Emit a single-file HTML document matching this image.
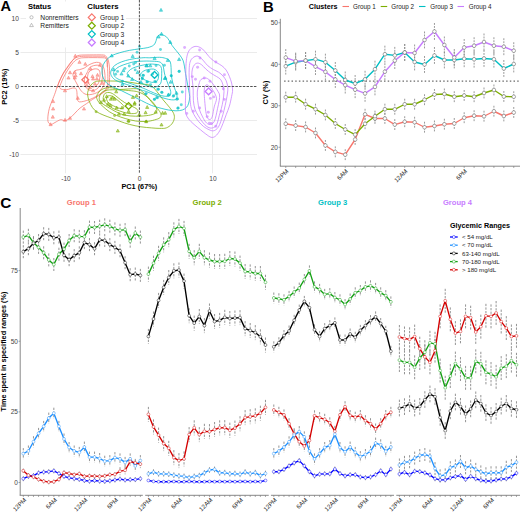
<!DOCTYPE html>
<html><head><meta charset="utf-8"><style>
html,body{margin:0;padding:0;background:#fff;width:520px;height:512px;overflow:hidden}
svg{display:block}
text{font-family:"Liberation Sans", sans-serif}
</style></head><body>
<svg width="520" height="512" viewBox="0 0 520 512">
<rect width="520" height="512" fill="#fff"/>
<text x="0.4" y="10.6" font-size="14.6" text-anchor="start" font-weight="bold" fill="#000">A</text>
<text x="263.1" y="11.7" font-size="14.9" text-anchor="start" font-weight="bold" fill="#000">B</text>
<text x="0.2" y="207.7" font-size="15.3" text-anchor="start" font-weight="bold" fill="#000">C</text>
<line x1="65.50" y1="0.00" x2="65.50" y2="173.30" stroke="#E9E9E9" stroke-width="0.9"/>
<line x1="212.50" y1="0.00" x2="212.50" y2="173.30" stroke="#E9E9E9" stroke-width="0.9"/>
<line x1="20.50" y1="18.50" x2="257.00" y2="18.50" stroke="#E9E9E9" stroke-width="0.9"/>
<line x1="20.50" y1="52.50" x2="257.00" y2="52.50" stroke="#E9E9E9" stroke-width="0.9"/>
<line x1="20.50" y1="120.50" x2="257.00" y2="120.50" stroke="#E9E9E9" stroke-width="0.9"/>
<line x1="20.50" y1="154.50" x2="257.00" y2="154.50" stroke="#E9E9E9" stroke-width="0.9"/>
<text x="18.9" y="20.500000000000004" font-size="6.6" text-anchor="end" fill="#444">10</text>
<text x="18.9" y="54.5" font-size="6.6" text-anchor="end" fill="#444">5</text>
<text x="18.9" y="88.5" font-size="6.6" text-anchor="end" fill="#444">0</text>
<text x="18.9" y="122.5" font-size="6.6" text-anchor="end" fill="#444">-5</text>
<text x="18.9" y="156.5" font-size="6.6" text-anchor="end" fill="#444">-10</text>
<text x="65.99999999999999" y="180.7" font-size="6.6" text-anchor="middle" fill="#444">-10</text>
<text x="139.5" y="180.7" font-size="6.6" text-anchor="middle" fill="#444">0</text>
<text x="213.0" y="180.7" font-size="6.6" text-anchor="middle" fill="#444">10</text>
<text x="139.3" y="189.2" font-size="7.3" text-anchor="middle" font-weight="bold" fill="#000">PC1 (67%)</text>
<text x="7.3" y="86.6" font-size="7.4" text-anchor="middle" font-weight="bold" fill="#000" transform="rotate(-90 7.3 86.6)">PC2 (19%)</text>
<path d="M47.80,119.50 C47.73,118.03 47.95,115.83 48.20,114.00 C48.45,112.17 48.87,110.17 49.30,108.50 C49.73,106.83 50.28,105.42 50.80,104.00 C51.32,102.58 51.67,101.87 52.40,100.00 C53.13,98.13 54.35,95.17 55.20,92.80 C56.05,90.43 56.60,88.13 57.50,85.80 C58.40,83.47 59.43,81.15 60.60,78.80 C61.77,76.45 63.20,73.78 64.50,71.70 C65.80,69.62 67.07,68.17 68.40,66.30 C69.73,64.43 71.32,62.05 72.50,60.50 C73.68,58.95 74.42,57.87 75.50,57.00 C76.58,56.13 77.42,55.63 79.00,55.30 C80.58,54.97 82.53,55.07 85.00,55.00 C87.47,54.93 90.72,54.90 93.80,54.90 C96.88,54.90 101.50,54.78 103.50,55.00 C105.50,55.22 105.10,55.62 105.80,56.20 C106.50,56.78 107.22,57.53 107.70,58.50 C108.18,59.47 108.42,60.60 108.70,62.00 C108.98,63.40 109.25,64.80 109.40,66.90 C109.55,69.00 109.58,72.35 109.60,74.60 C109.62,76.85 109.68,78.25 109.50,80.40 C109.32,82.55 109.25,85.68 108.50,87.50 C107.75,89.32 106.62,89.95 105.00,91.30 C103.38,92.65 100.88,94.25 98.80,95.60 C96.72,96.95 94.58,98.03 92.50,99.40 C90.42,100.77 88.38,102.35 86.30,103.80 C84.22,105.25 81.88,106.55 80.00,108.10 C78.12,109.65 76.67,111.43 75.00,113.10 C73.33,114.77 71.67,116.85 70.00,118.10 C68.33,119.35 66.57,120.33 65.00,120.60 C63.43,120.87 62.27,119.38 60.60,119.70 C58.93,120.02 56.55,121.72 55.00,122.50 C53.45,123.28 52.37,124.35 51.30,124.40 C50.23,124.45 49.18,123.62 48.60,122.80 C48.02,121.98 47.87,120.97 47.80,119.50Z" fill="none" stroke="#F8766D" stroke-width="0.75"/>
<path d="M60.20,88.50 C60.65,88.98 61.65,89.30 62.50,89.50 C63.35,89.70 64.32,89.73 65.30,89.70 C66.28,89.67 67.23,89.57 68.40,89.30 C69.57,89.03 71.12,88.27 72.30,88.10 C73.48,87.93 74.75,87.77 75.50,88.30 C76.25,88.83 76.52,89.77 76.80,91.30 C77.08,92.83 77.03,95.95 77.20,97.50 C77.37,99.05 77.42,99.87 77.80,100.60 C78.18,101.33 78.50,101.78 79.50,101.90 C80.50,102.02 82.05,101.72 83.80,101.30 C85.55,100.88 87.92,100.23 90.00,99.40 C92.08,98.57 94.22,97.45 96.30,96.30 C98.38,95.15 100.83,93.75 102.50,92.50 C104.17,91.25 105.45,90.22 106.30,88.80 C107.15,87.38 107.33,85.72 107.60,84.00 C107.87,82.28 107.90,81.03 107.90,78.50 C107.90,75.97 107.75,71.63 107.60,68.80 C107.45,65.97 107.35,63.25 107.00,61.50 C106.65,59.75 106.50,58.93 105.50,58.30 C104.50,57.67 104.42,57.80 101.00,57.70 C97.58,57.60 88.58,57.58 85.00,57.70 C81.42,57.82 81.22,57.85 79.50,58.40 C77.78,58.95 76.42,59.43 74.70,61.00 C72.98,62.57 70.77,65.62 69.20,67.80 C67.63,69.98 66.47,72.02 65.30,74.10 C64.13,76.18 63.12,78.22 62.20,80.30 C61.28,82.38 60.13,85.23 59.80,86.60 C59.47,87.97 59.75,88.02 60.20,88.50Z" fill="none" stroke="#F8766D" stroke-width="0.75"/>
<path d="M73.00,75.50 C72.67,73.30 73.90,71.78 75.00,70.80 C76.10,69.82 78.07,70.05 79.60,69.60 C81.13,69.15 82.78,68.80 84.20,68.10 C85.62,67.40 86.82,66.17 88.10,65.40 C89.38,64.63 90.50,64.02 91.90,63.50 C93.30,62.98 95.08,62.37 96.50,62.30 C97.92,62.23 99.35,62.52 100.40,63.10 C101.45,63.68 102.12,64.48 102.80,65.80 C103.48,67.12 104.13,68.63 104.50,71.00 C104.87,73.37 105.25,77.33 105.00,80.00 C104.75,82.67 104.17,85.00 103.00,87.00 C101.83,89.00 100.00,90.75 98.00,92.00 C96.00,93.25 93.17,94.17 91.00,94.50 C88.83,94.83 86.75,94.75 85.00,94.00 C83.25,93.25 81.83,91.67 80.50,90.00 C79.17,88.33 78.25,86.42 77.00,84.00 C75.75,81.58 73.33,77.70 73.00,75.50Z" fill="none" stroke="#F8766D" stroke-width="0.75"/>
<path d="M87.70,71.50 C88.40,69.92 88.22,69.33 88.80,68.50 C89.38,67.67 90.00,67.05 91.20,66.50 C92.40,65.95 94.45,65.28 96.00,65.20 C97.55,65.12 99.45,65.20 100.50,66.00 C101.55,66.80 101.97,68.33 102.30,70.00 C102.63,71.67 102.63,74.00 102.50,76.00 C102.37,78.00 102.25,80.00 101.50,82.00 C100.75,84.00 99.42,86.58 98.00,88.00 C96.58,89.42 94.67,90.25 93.00,90.50 C91.33,90.75 89.33,90.42 88.00,89.50 C86.67,88.58 85.57,86.92 85.00,85.00 C84.43,83.08 84.15,80.25 84.60,78.00 C85.05,75.75 87.00,73.08 87.70,71.50Z" fill="none" stroke="#F8766D" stroke-width="0.75"/>
<path d="M89.00,72.00 C90.08,70.50 92.33,69.33 94.00,69.00 C95.67,68.67 98.00,68.83 99.00,70.00 C100.00,71.17 100.17,73.67 100.00,76.00 C99.83,78.33 99.17,82.17 98.00,84.00 C96.83,85.83 94.50,87.00 93.00,87.00 C91.50,87.00 89.92,85.50 89.00,84.00 C88.08,82.50 87.50,80.00 87.50,78.00 C87.50,76.00 87.92,73.50 89.00,72.00Z" fill="none" stroke="#F8766D" stroke-width="0.75"/>
<path d="M57.00,88.00 C57.42,86.83 58.50,83.42 59.50,81.00 C60.50,78.58 61.75,75.75 63.00,73.50 C64.25,71.25 65.67,69.42 67.00,67.50 C68.33,65.58 69.67,63.53 71.00,62.00 C72.33,60.47 73.58,59.20 75.00,58.30 C76.42,57.40 77.33,56.95 79.50,56.60 C81.67,56.25 85.08,56.27 88.00,56.20 C90.92,56.13 94.37,56.17 97.00,56.20 C99.63,56.23 102.25,56.10 103.80,56.40 C105.35,56.70 105.73,57.23 106.30,58.00 C106.87,58.77 107.03,59.50 107.20,61.00 C107.37,62.50 107.28,66.00 107.30,67.00" fill="none" stroke="#F8766D" stroke-width="0.75"/>
<path d="M87.60,94.80 C87.43,93.03 87.67,92.18 88.20,90.60 C88.73,89.02 89.75,86.72 90.80,85.30 C91.85,83.88 93.10,82.82 94.50,82.10 C95.90,81.38 96.48,81.18 99.20,81.00 C101.92,80.82 106.63,80.92 110.80,81.00 C114.97,81.08 119.72,81.08 124.20,81.50 C128.68,81.92 133.33,82.83 137.70,83.50 C142.07,84.17 147.23,84.20 150.40,85.50 C153.57,86.80 154.58,88.92 156.70,91.30 C158.82,93.68 160.98,97.15 163.10,99.80 C165.22,102.45 167.63,104.90 169.40,107.20 C171.17,109.50 172.90,111.65 173.70,113.60 C174.50,115.55 174.55,117.13 174.20,118.90 C173.85,120.67 172.92,122.70 171.60,124.20 C170.28,125.70 168.25,127.20 166.30,127.90 C164.35,128.60 162.37,128.40 159.90,128.40 C157.43,128.40 154.67,128.17 151.50,127.90 C148.33,127.63 144.58,127.38 140.90,126.80 C137.22,126.22 132.90,125.32 129.40,124.40 C125.90,123.48 122.88,122.35 119.90,121.30 C116.92,120.25 114.32,119.17 111.50,118.10 C108.68,117.03 105.48,115.97 103.00,114.90 C100.52,113.83 98.37,112.93 96.60,111.70 C94.83,110.47 93.63,109.25 92.40,107.50 C91.17,105.75 90.00,103.32 89.20,101.20 C88.40,99.08 87.77,96.57 87.60,94.80Z" fill="none" stroke="#7CAE00" stroke-width="0.75"/>
<path d="M96.60,97.50 C96.42,96.10 96.98,95.03 97.70,93.80 C98.42,92.57 99.48,91.08 100.90,90.10 C102.32,89.12 104.27,88.27 106.20,87.90 C108.13,87.53 110.38,87.63 112.50,87.90 C114.62,88.17 116.32,89.32 118.90,89.50 C121.48,89.68 124.68,89.05 128.00,89.00 C131.32,88.95 135.77,88.10 138.80,89.20 C141.83,90.30 143.92,93.30 146.20,95.60 C148.48,97.90 150.38,100.53 152.50,103.00 C154.62,105.47 157.48,108.47 158.90,110.40 C160.32,112.33 160.83,113.37 161.00,114.60 C161.17,115.83 160.97,116.92 159.90,117.80 C158.83,118.68 156.88,119.28 154.60,119.90 C152.32,120.52 149.37,121.32 146.20,121.50 C143.03,121.68 139.10,121.50 135.60,121.00 C132.10,120.50 128.35,119.42 125.20,118.50 C122.05,117.58 119.35,116.63 116.70,115.50 C114.05,114.37 111.58,113.20 109.30,111.70 C107.02,110.20 104.75,108.08 103.00,106.50 C101.25,104.92 99.87,103.70 98.80,102.20 C97.73,100.70 96.78,98.90 96.60,97.50Z" fill="none" stroke="#7CAE00" stroke-width="0.75"/>
<path d="M99.20,98.80 C99.20,97.20 99.92,94.53 101.20,93.10 C102.48,91.67 104.02,90.75 106.90,90.20 C109.78,89.65 114.43,89.70 118.50,89.80 C122.57,89.90 128.10,90.47 131.30,90.80 C134.50,91.13 135.58,91.18 137.70,91.80 C139.82,92.42 141.88,93.17 144.00,94.50 C146.12,95.83 148.45,97.85 150.40,99.80 C152.35,101.75 154.65,104.25 155.70,106.20 C156.75,108.15 157.05,110.18 156.70,111.50 C156.35,112.82 155.35,113.40 153.60,114.10 C151.85,114.80 149.20,115.35 146.20,115.70 C143.20,116.05 139.13,116.28 135.60,116.20 C132.07,116.12 128.18,115.90 125.00,115.20 C121.82,114.50 119.52,113.45 116.50,112.00 C113.48,110.55 109.45,108.05 106.90,106.50 C104.35,104.95 102.48,103.98 101.20,102.70 C99.92,101.42 99.20,100.40 99.20,98.80Z" fill="none" stroke="#7CAE00" stroke-width="0.75"/>
<path d="M103.60,96.00 C103.87,95.08 104.15,94.18 104.80,93.60 C105.45,93.02 106.52,92.63 107.50,92.50 C108.48,92.37 109.65,92.48 110.70,92.80 C111.75,93.12 112.77,93.74 113.80,94.40 C114.83,95.06 115.73,95.83 116.90,96.75 C118.07,97.67 119.50,98.93 120.80,99.90 C122.10,100.88 123.42,101.82 124.70,102.60 C125.98,103.38 127.20,103.93 128.50,104.60 C129.80,105.27 131.20,105.93 132.50,106.60 C133.80,107.27 135.38,107.87 136.30,108.60 C137.22,109.33 138.05,110.23 138.00,111.00 C137.95,111.77 137.33,112.77 136.00,113.20 C134.67,113.63 131.88,113.70 130.00,113.60 C128.12,113.50 126.49,113.07 124.70,112.60 C122.91,112.13 121.20,111.48 119.25,110.80 C117.30,110.12 114.83,109.42 113.00,108.50 C111.17,107.58 109.67,106.35 108.30,105.30 C106.93,104.25 105.65,103.23 104.80,102.20 C103.95,101.17 103.40,100.13 103.20,99.10 C103.00,98.07 103.33,96.92 103.60,96.00Z" fill="none" stroke="#7CAE00" stroke-width="0.75"/>
<path d="M106.50,98.00 C106.58,97.08 107.25,96.37 108.00,96.00 C108.75,95.63 110.00,95.60 111.00,95.80 C112.00,96.00 112.83,96.42 114.00,97.20 C115.17,97.98 116.67,99.37 118.00,100.50 C119.33,101.63 121.00,102.92 122.00,104.00 C123.00,105.08 124.17,106.25 124.00,107.00 C123.83,107.75 122.33,108.50 121.00,108.50 C119.67,108.50 117.67,107.67 116.00,107.00 C114.33,106.33 112.42,105.42 111.00,104.50 C109.58,103.58 108.25,102.58 107.50,101.50 C106.75,100.42 106.42,98.92 106.50,98.00Z" fill="none" stroke="#7CAE00" stroke-width="0.75"/>
<path d="M102.00,70.40 C102.13,68.48 102.60,66.30 103.40,64.50 C104.20,62.70 105.42,61.07 106.80,59.60 C108.18,58.13 109.58,56.83 111.70,55.70 C113.82,54.57 116.57,53.68 119.50,52.80 C122.43,51.92 126.03,51.05 129.30,50.40 C132.57,49.75 136.02,49.37 139.10,48.90 C142.18,48.43 145.37,48.23 147.80,47.60 C150.23,46.97 152.32,46.25 153.70,45.10 C155.08,43.95 155.53,42.08 156.10,40.70 C156.67,39.32 156.53,37.77 157.10,36.80 C157.67,35.83 158.60,35.22 159.50,34.90 C160.40,34.58 161.35,34.58 162.50,34.90 C163.65,35.22 165.27,35.83 166.40,36.80 C167.53,37.77 168.33,39.23 169.30,40.70 C170.27,42.17 171.07,43.97 172.20,45.60 C173.33,47.23 174.80,48.87 176.10,50.50 C177.40,52.13 178.85,53.77 180.00,55.40 C181.15,57.03 182.27,58.52 183.00,60.30 C183.73,62.08 183.98,63.90 184.40,66.10 C184.82,68.30 185.05,70.87 185.50,73.50 C185.95,76.13 186.57,79.08 187.10,81.90 C187.63,84.72 188.27,87.93 188.70,90.40 C189.13,92.87 189.70,94.58 189.70,96.70 C189.70,98.82 189.22,101.33 188.70,103.10 C188.18,104.87 187.67,106.15 186.60,107.30 C185.53,108.45 184.07,109.42 182.30,110.00 C180.53,110.58 178.28,110.80 176.00,110.80 C173.72,110.80 171.07,110.42 168.60,110.00 C166.13,109.58 164.03,109.05 161.20,108.30 C158.37,107.55 154.88,106.78 151.60,105.50 C148.32,104.22 144.87,102.25 141.50,100.60 C138.13,98.95 134.77,97.27 131.40,95.60 C128.03,93.93 124.67,92.20 121.30,90.60 C117.93,89.00 113.83,87.47 111.20,86.00 C108.57,84.53 106.93,83.47 105.50,81.80 C104.07,80.13 103.18,77.90 102.60,76.00 C102.02,74.10 101.87,72.32 102.00,70.40Z" fill="none" stroke="#00BFC4" stroke-width="0.75"/>
<path d="M110.70,72.30 C110.87,70.83 111.55,68.95 112.70,67.50 C113.85,66.05 115.48,64.75 117.60,63.60 C119.72,62.45 122.63,61.42 125.40,60.60 C128.17,59.78 131.12,59.18 134.20,58.70 C137.28,58.22 141.30,57.85 143.90,57.70 C146.50,57.55 147.20,57.87 149.80,57.80 C152.40,57.73 156.90,57.22 159.50,57.30 C162.10,57.38 163.77,57.80 165.40,58.30 C167.03,58.80 168.40,59.32 169.30,60.30 C170.20,61.28 170.48,62.42 170.80,64.20 C171.12,65.98 171.10,69.10 171.20,71.00 C171.30,72.90 171.13,73.60 171.40,75.60 C171.67,77.60 172.13,80.53 172.80,83.00 C173.47,85.47 174.70,88.28 175.40,90.40 C176.10,92.52 176.82,94.28 177.00,95.70 C177.18,97.12 177.02,98.20 176.50,98.90 C175.98,99.60 175.22,99.82 173.90,99.90 C172.58,99.98 170.72,99.83 168.60,99.40 C166.48,98.97 163.67,98.10 161.20,97.30 C158.73,96.50 156.28,95.57 153.80,94.60 C151.32,93.63 148.43,92.28 146.30,91.50 C144.17,90.72 143.50,90.82 141.00,89.90 C138.50,88.98 134.38,87.13 131.30,86.00 C128.22,84.87 125.12,84.07 122.50,83.10 C119.88,82.13 117.40,81.33 115.60,80.20 C113.80,79.07 112.52,77.62 111.70,76.30 C110.88,74.98 110.53,73.77 110.70,72.30Z" fill="none" stroke="#00BFC4" stroke-width="0.75"/>
<path d="M113.70,74.30 C113.37,73.00 113.63,71.70 114.60,70.40 C115.57,69.10 117.38,67.63 119.50,66.50 C121.62,65.37 124.68,64.42 127.30,63.60 C129.92,62.78 132.43,62.02 135.20,61.60 C137.97,61.18 141.47,61.18 143.90,61.10 C146.33,61.02 147.35,61.00 149.80,61.10 C152.25,61.20 156.57,61.27 158.60,61.70 C160.63,62.13 161.20,62.80 162.00,63.70 C162.80,64.60 163.00,65.55 163.40,67.10 C163.80,68.65 164.00,71.18 164.40,73.00 C164.80,74.82 165.20,76.17 165.80,78.00 C166.40,79.83 167.18,81.75 168.00,84.00 C168.82,86.25 170.43,89.55 170.70,91.50 C170.97,93.45 170.67,94.92 169.60,95.70 C168.53,96.48 166.23,96.38 164.30,96.20 C162.37,96.02 160.28,95.38 158.00,94.60 C155.72,93.82 153.07,92.57 150.60,91.50 C148.13,90.43 146.27,89.43 143.20,88.20 C140.13,86.97 135.50,85.28 132.20,84.10 C128.90,82.92 126.00,82.08 123.40,81.10 C120.80,80.12 118.22,79.33 116.60,78.20 C114.98,77.07 114.03,75.60 113.70,74.30Z" fill="none" stroke="#00BFC4" stroke-width="0.75"/>
<path d="M127.30,73.20 C127.67,72.12 129.15,70.52 130.50,69.50 C131.85,68.48 133.48,67.80 135.40,67.10 C137.32,66.40 139.65,65.80 142.00,65.30 C144.35,64.80 147.33,64.27 149.50,64.10 C151.67,63.93 153.32,64.13 155.00,64.30 C156.68,64.47 158.52,64.40 159.60,65.10 C160.68,65.80 161.15,67.15 161.50,68.50 C161.85,69.85 161.70,71.45 161.70,73.20 C161.70,74.95 161.67,77.32 161.50,79.00 C161.33,80.68 161.37,82.08 160.70,83.30 C160.03,84.52 158.68,85.63 157.50,86.30 C156.32,86.97 155.27,87.38 153.60,87.30 C151.93,87.22 149.52,86.47 147.50,85.80 C145.48,85.13 143.42,84.13 141.50,83.30 C139.58,82.47 137.68,81.65 136.00,80.80 C134.32,79.95 132.68,79.00 131.40,78.20 C130.12,77.40 128.98,76.83 128.30,76.00 C127.62,75.17 126.93,74.28 127.30,73.20Z" fill="none" stroke="#00BFC4" stroke-width="0.75"/>
<path d="M140.50,74.20 C140.75,73.37 141.67,72.47 142.50,71.80 C143.33,71.13 144.33,70.62 145.50,70.20 C146.67,69.78 148.15,69.48 149.50,69.30 C150.85,69.12 152.43,68.90 153.60,69.10 C154.77,69.30 155.67,69.82 156.50,70.50 C157.33,71.18 158.27,72.12 158.60,73.20 C158.93,74.28 158.67,75.82 158.50,77.00 C158.33,78.18 158.18,79.47 157.60,80.30 C157.02,81.13 156.00,81.67 155.00,82.00 C154.00,82.33 152.85,82.47 151.60,82.30 C150.35,82.13 148.85,81.52 147.50,81.00 C146.15,80.48 144.58,79.90 143.50,79.20 C142.42,78.50 141.50,77.63 141.00,76.80 C140.50,75.97 140.25,75.03 140.50,74.20Z" fill="none" stroke="#00BFC4" stroke-width="0.75"/>
<path d="M185.90,83.00 C185.95,78.32 185.72,71.38 185.90,66.90 C186.08,62.42 186.37,58.97 187.00,56.10 C187.63,53.23 188.53,51.27 189.70,49.70 C190.87,48.13 192.57,47.20 194.00,46.70 C195.43,46.20 196.87,46.30 198.30,46.70 C199.73,47.10 201.17,47.88 202.60,49.10 C204.03,50.32 205.48,52.38 206.90,54.00 C208.32,55.62 209.50,57.37 211.10,58.80 C212.70,60.23 214.70,61.43 216.50,62.60 C218.30,63.77 220.28,64.55 221.90,65.80 C223.52,67.05 224.95,68.32 226.20,70.10 C227.45,71.88 228.50,74.35 229.40,76.50 C230.30,78.65 231.07,80.75 231.60,83.00 C232.13,85.25 232.60,87.77 232.60,90.00 C232.60,92.23 232.13,93.72 231.60,96.40 C231.07,99.08 230.30,103.05 229.40,106.10 C228.50,109.15 227.27,111.83 226.20,114.70 C225.13,117.57 224.08,120.62 223.00,123.30 C221.92,125.98 220.97,128.65 219.70,130.80 C218.43,132.95 216.83,135.12 215.40,136.20 C213.97,137.28 212.70,137.67 211.10,137.30 C209.50,136.93 207.58,135.27 205.80,134.00 C204.02,132.73 202.37,131.30 200.40,129.70 C198.43,128.10 195.97,126.18 194.00,124.40 C192.03,122.62 189.95,120.80 188.60,119.00 C187.25,117.20 186.43,115.75 185.90,113.60 C185.37,111.45 185.45,109.20 185.40,106.10 C185.35,103.00 185.52,98.85 185.60,95.00 C185.68,91.15 185.85,87.68 185.90,83.00Z" fill="none" stroke="#C77CFF" stroke-width="0.75"/>
<path d="M189.10,72.20 C189.17,69.47 189.25,65.83 189.70,63.60 C190.15,61.37 190.73,60.05 191.80,58.80 C192.87,57.55 194.75,56.37 196.10,56.10 C197.45,55.83 198.65,56.40 199.90,57.20 C201.15,58.00 202.27,59.47 203.60,60.90 C204.93,62.33 206.28,64.37 207.90,65.80 C209.52,67.23 211.50,68.43 213.30,69.50 C215.10,70.57 217.08,71.12 218.70,72.20 C220.32,73.28 221.75,74.57 223.00,76.00 C224.25,77.43 225.40,78.92 226.20,80.80 C227.00,82.68 227.58,85.27 227.80,87.30 C228.02,89.33 227.77,90.77 227.50,93.00 C227.23,95.23 226.78,97.80 226.20,100.70 C225.62,103.60 224.72,107.53 224.00,110.40 C223.28,113.27 222.62,115.57 221.90,117.90 C221.18,120.23 220.50,122.60 219.70,124.40 C218.90,126.20 218.17,127.63 217.10,128.70 C216.03,129.77 214.65,130.63 213.30,130.80 C211.95,130.97 210.62,130.42 209.00,129.70 C207.38,128.98 205.38,127.93 203.60,126.50 C201.82,125.07 199.90,123.07 198.30,121.10 C196.70,119.13 195.17,116.83 194.00,114.70 C192.83,112.57 191.93,110.63 191.30,108.30 C190.67,105.97 190.47,103.75 190.20,100.70 C189.93,97.65 189.85,93.45 189.70,90.00 C189.55,86.55 189.40,82.97 189.30,80.00 C189.20,77.03 189.03,74.93 189.10,72.20Z" fill="none" stroke="#C77CFF" stroke-width="0.75"/>
<path d="M191.80,75.40 C191.78,73.23 191.95,70.78 192.40,69.00 C192.85,67.22 193.62,65.68 194.50,64.70 C195.38,63.72 196.53,63.10 197.70,63.10 C198.87,63.10 200.15,63.72 201.50,64.70 C202.85,65.68 204.20,67.57 205.80,69.00 C207.40,70.43 209.32,72.05 211.10,73.30 C212.88,74.55 214.88,75.43 216.50,76.50 C218.12,77.57 219.72,78.27 220.80,79.70 C221.88,81.13 222.47,83.12 223.00,85.10 C223.53,87.08 224.00,89.00 224.00,91.60 C224.00,94.20 223.43,97.92 223.00,100.70 C222.57,103.48 222.03,105.78 221.40,108.30 C220.77,110.82 219.83,113.48 219.20,115.80 C218.57,118.12 218.23,120.42 217.60,122.20 C216.97,123.98 216.48,125.52 215.40,126.50 C214.32,127.48 212.52,128.10 211.10,128.10 C209.68,128.10 208.32,127.48 206.90,126.50 C205.48,125.52 204.03,123.98 202.60,122.20 C201.17,120.42 199.57,117.95 198.30,115.80 C197.03,113.65 195.82,111.82 195.00,109.30 C194.18,106.78 193.70,103.92 193.40,100.70 C193.10,97.48 193.35,93.12 193.20,90.00 C193.05,86.88 192.73,84.43 192.50,82.00 C192.27,79.57 191.82,77.57 191.80,75.40Z" fill="none" stroke="#C77CFF" stroke-width="0.75"/>
<path d="M199.00,84.00 C199.62,81.92 199.87,80.48 201.00,79.50 C202.13,78.52 204.47,78.07 205.80,78.10 C207.13,78.13 207.93,78.88 209.00,79.70 C210.07,80.52 211.13,81.73 212.20,83.00 C213.27,84.27 214.42,85.87 215.40,87.30 C216.38,88.73 217.40,90.32 218.10,91.60 C218.80,92.88 219.42,93.48 219.60,95.00 C219.78,96.52 219.53,98.48 219.20,100.70 C218.87,102.92 218.13,105.78 217.60,108.30 C217.07,110.82 216.53,113.67 216.00,115.80 C215.47,117.93 215.03,119.77 214.40,121.10 C213.77,122.43 213.10,123.25 212.20,123.80 C211.30,124.35 210.07,124.67 209.00,124.40 C207.93,124.13 206.87,123.45 205.80,122.20 C204.73,120.95 203.68,119.05 202.60,116.90 C201.52,114.75 200.12,112.00 199.30,109.30 C198.48,106.60 198.03,103.58 197.70,100.70 C197.37,97.82 197.08,94.78 197.30,92.00 C197.52,89.22 198.38,86.08 199.00,84.00Z" fill="none" stroke="#C77CFF" stroke-width="0.75"/>
<path d="M204.50,88.00 C204.80,86.67 205.33,85.42 206.00,85.00 C206.67,84.58 207.67,85.00 208.50,85.50 C209.33,86.00 210.08,86.92 211.00,88.00 C211.92,89.08 213.08,90.23 214.00,92.00 C214.92,93.77 216.43,96.25 216.50,98.60 C216.57,100.95 214.93,103.95 214.40,106.10 C213.87,108.25 213.67,109.70 213.30,111.50 C212.93,113.30 212.73,115.57 212.20,116.90 C211.67,118.23 210.90,119.33 210.10,119.50 C209.30,119.67 208.12,119.23 207.40,117.90 C206.68,116.57 206.25,114.37 205.80,111.50 C205.35,108.63 204.97,103.78 204.70,100.70 C204.43,97.62 204.23,95.12 204.20,93.00 C204.17,90.88 204.20,89.33 204.50,88.00Z" fill="none" stroke="#C77CFF" stroke-width="0.75"/>
<path d="M75.30,54.23 L76.89,57.16 L73.70,57.16Z" fill="#F8766D" fill-opacity="0.55" stroke="#F8766D" stroke-opacity="0.55" stroke-width="0.9" stroke-linejoin="round"/>
<path d="M79.50,60.43 L81.09,63.36 L77.91,63.36Z" fill="#F8766D" fill-opacity="0.55" stroke="#F8766D" stroke-opacity="0.55" stroke-width="0.9" stroke-linejoin="round"/>
<path d="M85.30,62.33 L86.89,65.26 L83.70,65.26Z" fill="#F8766D" fill-opacity="0.55" stroke="#F8766D" stroke-opacity="0.55" stroke-width="0.9" stroke-linejoin="round"/>
<path d="M70.00,70.83 L71.59,73.76 L68.41,73.76Z" fill="#F8766D" fill-opacity="0.55" stroke="#F8766D" stroke-opacity="0.55" stroke-width="0.9" stroke-linejoin="round"/>
<path d="M74.80,70.63 L76.39,73.56 L73.20,73.56Z" fill="#F8766D" fill-opacity="0.55" stroke="#F8766D" stroke-opacity="0.55" stroke-width="0.9" stroke-linejoin="round"/>
<path d="M81.00,71.83 L82.59,74.76 L79.41,74.76Z" fill="#F8766D" fill-opacity="0.55" stroke="#F8766D" stroke-opacity="0.55" stroke-width="0.9" stroke-linejoin="round"/>
<path d="M68.50,76.13 L70.09,79.06 L66.91,79.06Z" fill="#F8766D" fill-opacity="0.55" stroke="#F8766D" stroke-opacity="0.55" stroke-width="0.9" stroke-linejoin="round"/>
<path d="M74.80,76.13 L76.39,79.06 L73.20,79.06Z" fill="#F8766D" fill-opacity="0.55" stroke="#F8766D" stroke-opacity="0.55" stroke-width="0.9" stroke-linejoin="round"/>
<path d="M75.60,73.93 L77.19,76.86 L74.00,76.86Z" fill="#F8766D" fill-opacity="0.55" stroke="#F8766D" stroke-opacity="0.55" stroke-width="0.9" stroke-linejoin="round"/>
<path d="M92.50,74.63 L94.09,77.56 L90.91,77.56Z" fill="#F8766D" fill-opacity="0.55" stroke="#F8766D" stroke-opacity="0.55" stroke-width="0.9" stroke-linejoin="round"/>
<path d="M97.50,73.33 L99.09,76.26 L95.91,76.26Z" fill="#F8766D" fill-opacity="0.55" stroke="#F8766D" stroke-opacity="0.55" stroke-width="0.9" stroke-linejoin="round"/>
<path d="M93.10,77.13 L94.69,80.06 L91.50,80.06Z" fill="#F8766D" fill-opacity="0.55" stroke="#F8766D" stroke-opacity="0.55" stroke-width="0.9" stroke-linejoin="round"/>
<path d="M96.90,77.13 L98.50,80.06 L95.31,80.06Z" fill="#F8766D" fill-opacity="0.55" stroke="#F8766D" stroke-opacity="0.55" stroke-width="0.9" stroke-linejoin="round"/>
<path d="M100.00,63.33 L101.59,66.26 L98.41,66.26Z" fill="#F8766D" fill-opacity="0.55" stroke="#F8766D" stroke-opacity="0.55" stroke-width="0.9" stroke-linejoin="round"/>
<path d="M90.60,67.13 L92.19,70.06 L89.00,70.06Z" fill="#F8766D" fill-opacity="0.55" stroke="#F8766D" stroke-opacity="0.55" stroke-width="0.9" stroke-linejoin="round"/>
<path d="M65.00,88.93 L66.59,91.86 L63.41,91.86Z" fill="#F8766D" fill-opacity="0.55" stroke="#F8766D" stroke-opacity="0.55" stroke-width="0.9" stroke-linejoin="round"/>
<path d="M87.50,80.23 L89.09,83.16 L85.91,83.16Z" fill="#F8766D" fill-opacity="0.55" stroke="#F8766D" stroke-opacity="0.55" stroke-width="0.9" stroke-linejoin="round"/>
<path d="M90.00,85.83 L91.59,88.76 L88.41,88.76Z" fill="#F8766D" fill-opacity="0.55" stroke="#F8766D" stroke-opacity="0.55" stroke-width="0.9" stroke-linejoin="round"/>
<path d="M95.00,82.13 L96.59,85.06 L93.41,85.06Z" fill="#F8766D" fill-opacity="0.55" stroke="#F8766D" stroke-opacity="0.55" stroke-width="0.9" stroke-linejoin="round"/>
<path d="M102.50,81.43 L104.09,84.36 L100.91,84.36Z" fill="#F8766D" fill-opacity="0.55" stroke="#F8766D" stroke-opacity="0.55" stroke-width="0.9" stroke-linejoin="round"/>
<path d="M77.80,96.43 L79.39,99.36 L76.20,99.36Z" fill="#F8766D" fill-opacity="0.55" stroke="#F8766D" stroke-opacity="0.55" stroke-width="0.9" stroke-linejoin="round"/>
<path d="M53.10,99.63 L54.70,102.56 L51.51,102.56Z" fill="#F8766D" fill-opacity="0.55" stroke="#F8766D" stroke-opacity="0.55" stroke-width="0.9" stroke-linejoin="round"/>
<path d="M53.10,107.13 L54.70,110.06 L51.51,110.06Z" fill="#F8766D" fill-opacity="0.55" stroke="#F8766D" stroke-opacity="0.55" stroke-width="0.9" stroke-linejoin="round"/>
<path d="M52.80,115.23 L54.39,118.16 L51.20,118.16Z" fill="#F8766D" fill-opacity="0.55" stroke="#F8766D" stroke-opacity="0.55" stroke-width="0.9" stroke-linejoin="round"/>
<path d="M65.00,118.33 L66.59,121.26 L63.41,121.26Z" fill="#F8766D" fill-opacity="0.55" stroke="#F8766D" stroke-opacity="0.55" stroke-width="0.9" stroke-linejoin="round"/>
<path d="M70.00,116.43 L71.59,119.36 L68.41,119.36Z" fill="#F8766D" fill-opacity="0.55" stroke="#F8766D" stroke-opacity="0.55" stroke-width="0.9" stroke-linejoin="round"/>
<path d="M50.60,122.73 L52.20,125.66 L49.01,125.66Z" fill="#F8766D" fill-opacity="0.55" stroke="#F8766D" stroke-opacity="0.55" stroke-width="0.9" stroke-linejoin="round"/>
<path d="M84.00,107.13 L85.59,110.06 L82.41,110.06Z" fill="#F8766D" fill-opacity="0.55" stroke="#F8766D" stroke-opacity="0.55" stroke-width="0.9" stroke-linejoin="round"/>
<path d="M86.90,83.93 L88.50,86.86 L85.31,86.86Z" fill="#F8766D" fill-opacity="0.55" stroke="#F8766D" stroke-opacity="0.55" stroke-width="0.9" stroke-linejoin="round"/>
<path d="M93.10,88.93 L94.69,91.86 L91.50,91.86Z" fill="#F8766D" fill-opacity="0.55" stroke="#F8766D" stroke-opacity="0.55" stroke-width="0.9" stroke-linejoin="round"/>
<path d="M106.70,94.73 L108.30,97.66 L105.11,97.66Z" fill="#7CAE00" fill-opacity="0.55" stroke="#7CAE00" stroke-opacity="0.55" stroke-width="0.9" stroke-linejoin="round"/>
<path d="M110.90,97.33 L112.50,100.26 L109.31,100.26Z" fill="#7CAE00" fill-opacity="0.55" stroke="#7CAE00" stroke-opacity="0.55" stroke-width="0.9" stroke-linejoin="round"/>
<path d="M114.60,97.33 L116.19,100.26 L113.00,100.26Z" fill="#7CAE00" fill-opacity="0.55" stroke="#7CAE00" stroke-opacity="0.55" stroke-width="0.9" stroke-linejoin="round"/>
<path d="M112.50,95.83 L114.09,98.76 L110.91,98.76Z" fill="#7CAE00" fill-opacity="0.55" stroke="#7CAE00" stroke-opacity="0.55" stroke-width="0.9" stroke-linejoin="round"/>
<path d="M110.40,103.73 L112.00,106.66 L108.81,106.66Z" fill="#7CAE00" fill-opacity="0.55" stroke="#7CAE00" stroke-opacity="0.55" stroke-width="0.9" stroke-linejoin="round"/>
<path d="M116.70,106.03 L118.30,108.96 L115.11,108.96Z" fill="#7CAE00" fill-opacity="0.55" stroke="#7CAE00" stroke-opacity="0.55" stroke-width="0.9" stroke-linejoin="round"/>
<path d="M122.00,106.03 L123.59,108.96 L120.41,108.96Z" fill="#7CAE00" fill-opacity="0.55" stroke="#7CAE00" stroke-opacity="0.55" stroke-width="0.9" stroke-linejoin="round"/>
<path d="M128.60,109.63 L130.19,112.56 L127.00,112.56Z" fill="#7CAE00" fill-opacity="0.55" stroke="#7CAE00" stroke-opacity="0.55" stroke-width="0.9" stroke-linejoin="round"/>
<path d="M134.70,101.13 L136.29,104.06 L133.10,104.06Z" fill="#7CAE00" fill-opacity="0.55" stroke="#7CAE00" stroke-opacity="0.55" stroke-width="0.9" stroke-linejoin="round"/>
<path d="M116.20,89.93 L117.80,92.86 L114.61,92.86Z" fill="#7CAE00" fill-opacity="0.55" stroke="#7CAE00" stroke-opacity="0.55" stroke-width="0.9" stroke-linejoin="round"/>
<path d="M100.90,100.53 L102.50,103.46 L99.31,103.46Z" fill="#7CAE00" fill-opacity="0.55" stroke="#7CAE00" stroke-opacity="0.55" stroke-width="0.9" stroke-linejoin="round"/>
<path d="M128.40,119.03 L130.00,121.96 L126.81,121.96Z" fill="#7CAE00" fill-opacity="0.55" stroke="#7CAE00" stroke-opacity="0.55" stroke-width="0.9" stroke-linejoin="round"/>
<path d="M124.20,112.23 L125.80,115.16 L122.61,115.16Z" fill="#7CAE00" fill-opacity="0.55" stroke="#7CAE00" stroke-opacity="0.55" stroke-width="0.9" stroke-linejoin="round"/>
<path d="M118.90,112.23 L120.50,115.16 L117.31,115.16Z" fill="#7CAE00" fill-opacity="0.55" stroke="#7CAE00" stroke-opacity="0.55" stroke-width="0.9" stroke-linejoin="round"/>
<path d="M136.60,93.93 L138.19,96.86 L135.00,96.86Z" fill="#7CAE00" fill-opacity="0.55" stroke="#7CAE00" stroke-opacity="0.55" stroke-width="0.9" stroke-linejoin="round"/>
<path d="M132.90,95.53 L134.50,98.46 L131.31,98.46Z" fill="#7CAE00" fill-opacity="0.55" stroke="#7CAE00" stroke-opacity="0.55" stroke-width="0.9" stroke-linejoin="round"/>
<path d="M134.50,102.33 L136.09,105.26 L132.91,105.26Z" fill="#7CAE00" fill-opacity="0.55" stroke="#7CAE00" stroke-opacity="0.55" stroke-width="0.9" stroke-linejoin="round"/>
<path d="M147.20,105.53 L148.79,108.46 L145.60,108.46Z" fill="#7CAE00" fill-opacity="0.55" stroke="#7CAE00" stroke-opacity="0.55" stroke-width="0.9" stroke-linejoin="round"/>
<path d="M145.60,110.83 L147.19,113.76 L144.00,113.76Z" fill="#7CAE00" fill-opacity="0.55" stroke="#7CAE00" stroke-opacity="0.55" stroke-width="0.9" stroke-linejoin="round"/>
<path d="M155.70,110.33 L157.29,113.26 L154.10,113.26Z" fill="#7CAE00" fill-opacity="0.55" stroke="#7CAE00" stroke-opacity="0.55" stroke-width="0.9" stroke-linejoin="round"/>
<path d="M165.20,111.33 L166.79,114.26 L163.60,114.26Z" fill="#7CAE00" fill-opacity="0.55" stroke="#7CAE00" stroke-opacity="0.55" stroke-width="0.9" stroke-linejoin="round"/>
<path d="M162.60,111.33 L164.19,114.26 L161.00,114.26Z" fill="#7CAE00" fill-opacity="0.55" stroke="#7CAE00" stroke-opacity="0.55" stroke-width="0.9" stroke-linejoin="round"/>
<path d="M146.20,119.83 L147.79,122.76 L144.60,122.76Z" fill="#7CAE00" fill-opacity="0.55" stroke="#7CAE00" stroke-opacity="0.55" stroke-width="0.9" stroke-linejoin="round"/>
<path d="M139.30,112.93 L140.90,115.86 L137.71,115.86Z" fill="#7CAE00" fill-opacity="0.55" stroke="#7CAE00" stroke-opacity="0.55" stroke-width="0.9" stroke-linejoin="round"/>
<path d="M161.50,123.03 L163.09,125.96 L159.91,125.96Z" fill="#7CAE00" fill-opacity="0.55" stroke="#7CAE00" stroke-opacity="0.55" stroke-width="0.9" stroke-linejoin="round"/>
<path d="M117.80,129.13 L119.39,132.06 L116.20,132.06Z" fill="#7CAE00" fill-opacity="0.55" stroke="#7CAE00" stroke-opacity="0.55" stroke-width="0.9" stroke-linejoin="round"/>
<path d="M108.00,102.33 L109.59,105.26 L106.41,105.26Z" fill="#7CAE00" fill-opacity="0.55" stroke="#7CAE00" stroke-opacity="0.55" stroke-width="0.9" stroke-linejoin="round"/>
<path d="M104.00,98.33 L105.59,101.26 L102.41,101.26Z" fill="#7CAE00" fill-opacity="0.55" stroke="#7CAE00" stroke-opacity="0.55" stroke-width="0.9" stroke-linejoin="round"/>
<circle cx="96.10" cy="111.70" r="1.45" fill="#7CAE00" fill-opacity="0.6"/>
<circle cx="128.70" cy="121.50" r="1.45" fill="#7CAE00" fill-opacity="0.6"/>
<circle cx="146.20" cy="121.50" r="1.45" fill="#7CAE00" fill-opacity="0.6"/>
<circle cx="114.60" cy="115.60" r="1.45" fill="#7CAE00" fill-opacity="0.6"/>
<path d="M161.00,8.33 L162.59,11.26 L159.41,11.26Z" fill="#00BFC4" fill-opacity="0.55" stroke="#00BFC4" stroke-opacity="0.55" stroke-width="0.9" stroke-linejoin="round"/>
<path d="M158.60,35.13 L160.19,38.06 L157.00,38.06Z" fill="#00BFC4" fill-opacity="0.55" stroke="#00BFC4" stroke-opacity="0.55" stroke-width="0.9" stroke-linejoin="round"/>
<path d="M161.50,32.23 L163.09,35.16 L159.91,35.16Z" fill="#00BFC4" fill-opacity="0.55" stroke="#00BFC4" stroke-opacity="0.55" stroke-width="0.9" stroke-linejoin="round"/>
<path d="M170.30,40.53 L171.90,43.46 L168.71,43.46Z" fill="#00BFC4" fill-opacity="0.55" stroke="#00BFC4" stroke-opacity="0.55" stroke-width="0.9" stroke-linejoin="round"/>
<path d="M179.10,57.63 L180.69,60.56 L177.50,60.56Z" fill="#00BFC4" fill-opacity="0.55" stroke="#00BFC4" stroke-opacity="0.55" stroke-width="0.9" stroke-linejoin="round"/>
<path d="M154.60,56.63 L156.19,59.56 L153.00,59.56Z" fill="#00BFC4" fill-opacity="0.55" stroke="#00BFC4" stroke-opacity="0.55" stroke-width="0.9" stroke-linejoin="round"/>
<path d="M167.80,58.63 L169.40,61.56 L166.21,61.56Z" fill="#00BFC4" fill-opacity="0.55" stroke="#00BFC4" stroke-opacity="0.55" stroke-width="0.9" stroke-linejoin="round"/>
<path d="M146.80,63.93 L148.40,66.86 L145.21,66.86Z" fill="#00BFC4" fill-opacity="0.55" stroke="#00BFC4" stroke-opacity="0.55" stroke-width="0.9" stroke-linejoin="round"/>
<path d="M150.30,63.93 L151.90,66.86 L148.71,66.86Z" fill="#00BFC4" fill-opacity="0.55" stroke="#00BFC4" stroke-opacity="0.55" stroke-width="0.9" stroke-linejoin="round"/>
<path d="M165.40,76.23 L167.00,79.16 L163.81,79.16Z" fill="#00BFC4" fill-opacity="0.55" stroke="#00BFC4" stroke-opacity="0.55" stroke-width="0.9" stroke-linejoin="round"/>
<path d="M132.70,54.53 L134.29,57.46 L131.10,57.46Z" fill="#00BFC4" fill-opacity="0.55" stroke="#00BFC4" stroke-opacity="0.55" stroke-width="0.9" stroke-linejoin="round"/>
<path d="M123.40,68.73 L125.00,71.66 L121.81,71.66Z" fill="#00BFC4" fill-opacity="0.55" stroke="#00BFC4" stroke-opacity="0.55" stroke-width="0.9" stroke-linejoin="round"/>
<path d="M121.50,72.13 L123.09,75.06 L119.91,75.06Z" fill="#00BFC4" fill-opacity="0.55" stroke="#00BFC4" stroke-opacity="0.55" stroke-width="0.9" stroke-linejoin="round"/>
<path d="M128.30,74.13 L129.90,77.06 L126.71,77.06Z" fill="#00BFC4" fill-opacity="0.55" stroke="#00BFC4" stroke-opacity="0.55" stroke-width="0.9" stroke-linejoin="round"/>
<path d="M132.20,77.53 L133.79,80.46 L130.60,80.46Z" fill="#00BFC4" fill-opacity="0.55" stroke="#00BFC4" stroke-opacity="0.55" stroke-width="0.9" stroke-linejoin="round"/>
<path d="M146.40,63.83 L148.00,66.76 L144.81,66.76Z" fill="#00BFC4" fill-opacity="0.55" stroke="#00BFC4" stroke-opacity="0.55" stroke-width="0.9" stroke-linejoin="round"/>
<path d="M141.00,80.43 L142.59,83.36 L139.41,83.36Z" fill="#00BFC4" fill-opacity="0.55" stroke="#00BFC4" stroke-opacity="0.55" stroke-width="0.9" stroke-linejoin="round"/>
<path d="M164.90,76.53 L166.50,79.46 L163.31,79.46Z" fill="#00BFC4" fill-opacity="0.55" stroke="#00BFC4" stroke-opacity="0.55" stroke-width="0.9" stroke-linejoin="round"/>
<path d="M170.70,80.23 L172.29,83.16 L169.10,83.16Z" fill="#00BFC4" fill-opacity="0.55" stroke="#00BFC4" stroke-opacity="0.55" stroke-width="0.9" stroke-linejoin="round"/>
<path d="M168.60,92.93 L170.19,95.86 L167.00,95.86Z" fill="#00BFC4" fill-opacity="0.55" stroke="#00BFC4" stroke-opacity="0.55" stroke-width="0.9" stroke-linejoin="round"/>
<path d="M176.50,91.33 L178.09,94.26 L174.91,94.26Z" fill="#00BFC4" fill-opacity="0.55" stroke="#00BFC4" stroke-opacity="0.55" stroke-width="0.9" stroke-linejoin="round"/>
<path d="M122.50,82.43 L124.09,85.36 L120.91,85.36Z" fill="#00BFC4" fill-opacity="0.55" stroke="#00BFC4" stroke-opacity="0.55" stroke-width="0.9" stroke-linejoin="round"/>
<path d="M113.70,67.73 L115.30,70.66 L112.11,70.66Z" fill="#00BFC4" fill-opacity="0.55" stroke="#00BFC4" stroke-opacity="0.55" stroke-width="0.9" stroke-linejoin="round"/>
<path d="M137.60,70.63 L139.19,73.56 L136.00,73.56Z" fill="#00BFC4" fill-opacity="0.55" stroke="#00BFC4" stroke-opacity="0.55" stroke-width="0.9" stroke-linejoin="round"/>
<path d="M111.70,54.03 L113.30,56.96 L110.11,56.96Z" fill="#00BFC4" fill-opacity="0.55" stroke="#00BFC4" stroke-opacity="0.55" stroke-width="0.9" stroke-linejoin="round"/>
<circle cx="160.50" cy="49.50" r="1.45" fill="#00BFC4" fill-opacity="0.6"/>
<circle cx="137.10" cy="52.30" r="1.45" fill="#00BFC4" fill-opacity="0.6"/>
<circle cx="179.10" cy="71.50" r="1.45" fill="#00BFC4" fill-opacity="0.6"/>
<circle cx="164.40" cy="65.20" r="1.45" fill="#00BFC4" fill-opacity="0.6"/>
<circle cx="156.10" cy="65.60" r="1.45" fill="#00BFC4" fill-opacity="0.6"/>
<circle cx="171.30" cy="75.90" r="1.45" fill="#00BFC4" fill-opacity="0.6"/>
<circle cx="143.40" cy="75.40" r="1.45" fill="#00BFC4" fill-opacity="0.6"/>
<circle cx="148.80" cy="71.00" r="1.45" fill="#00BFC4" fill-opacity="0.6"/>
<circle cx="152.70" cy="73.90" r="1.45" fill="#00BFC4" fill-opacity="0.6"/>
<circle cx="135.60" cy="62.60" r="1.45" fill="#00BFC4" fill-opacity="0.6"/>
<circle cx="133.70" cy="64.00" r="1.45" fill="#00BFC4" fill-opacity="0.6"/>
<circle cx="129.30" cy="66.00" r="1.45" fill="#00BFC4" fill-opacity="0.6"/>
<circle cx="124.90" cy="68.40" r="1.45" fill="#00BFC4" fill-opacity="0.6"/>
<circle cx="135.20" cy="69.90" r="1.45" fill="#00BFC4" fill-opacity="0.6"/>
<circle cx="143.00" cy="75.30" r="1.45" fill="#00BFC4" fill-opacity="0.6"/>
<circle cx="142.50" cy="78.20" r="1.45" fill="#00BFC4" fill-opacity="0.6"/>
<circle cx="147.90" cy="71.40" r="1.45" fill="#00BFC4" fill-opacity="0.6"/>
<circle cx="146.90" cy="82.10" r="1.45" fill="#00BFC4" fill-opacity="0.6"/>
<circle cx="122.50" cy="81.10" r="1.45" fill="#00BFC4" fill-opacity="0.6"/>
<circle cx="115.60" cy="74.30" r="1.45" fill="#00BFC4" fill-opacity="0.6"/>
<circle cx="117.60" cy="71.40" r="1.45" fill="#00BFC4" fill-opacity="0.6"/>
<circle cx="179.20" cy="71.30" r="1.45" fill="#00BFC4" fill-opacity="0.6"/>
<circle cx="171.20" cy="75.60" r="1.45" fill="#00BFC4" fill-opacity="0.6"/>
<circle cx="182.30" cy="92.00" r="1.45" fill="#00BFC4" fill-opacity="0.6"/>
<circle cx="161.70" cy="92.30" r="1.45" fill="#00BFC4" fill-opacity="0.6"/>
<circle cx="173.30" cy="96.20" r="1.45" fill="#00BFC4" fill-opacity="0.6"/>
<circle cx="177.60" cy="98.90" r="1.45" fill="#00BFC4" fill-opacity="0.6"/>
<circle cx="181.30" cy="104.70" r="1.45" fill="#00BFC4" fill-opacity="0.6"/>
<circle cx="178.10" cy="107.90" r="1.45" fill="#00BFC4" fill-opacity="0.6"/>
<circle cx="154.30" cy="99.40" r="1.45" fill="#00BFC4" fill-opacity="0.6"/>
<circle cx="157.50" cy="97.80" r="1.45" fill="#00BFC4" fill-opacity="0.6"/>
<circle cx="146.30" cy="93.60" r="1.45" fill="#00BFC4" fill-opacity="0.6"/>
<circle cx="155.90" cy="81.90" r="1.45" fill="#00BFC4" fill-opacity="0.6"/>
<circle cx="154.80" cy="81.40" r="1.45" fill="#00BFC4" fill-opacity="0.6"/>
<circle cx="147.40" cy="81.90" r="1.45" fill="#00BFC4" fill-opacity="0.6"/>
<circle cx="142.10" cy="78.80" r="1.45" fill="#00BFC4" fill-opacity="0.6"/>
<circle cx="150.60" cy="84.60" r="1.45" fill="#00BFC4" fill-opacity="0.6"/>
<circle cx="158.50" cy="89.30" r="1.45" fill="#00BFC4" fill-opacity="0.6"/>
<circle cx="162.00" cy="92.40" r="1.45" fill="#00BFC4" fill-opacity="0.6"/>
<circle cx="157.80" cy="89.20" r="1.45" fill="#00BFC4" fill-opacity="0.6"/>
<circle cx="145.60" cy="94.00" r="1.45" fill="#00BFC4" fill-opacity="0.6"/>
<circle cx="154.60" cy="99.30" r="1.45" fill="#00BFC4" fill-opacity="0.6"/>
<circle cx="156.70" cy="97.50" r="1.45" fill="#00BFC4" fill-opacity="0.6"/>
<circle cx="168.40" cy="95.00" r="1.45" fill="#00BFC4" fill-opacity="0.6"/>
<circle cx="173.70" cy="95.60" r="1.45" fill="#00BFC4" fill-opacity="0.6"/>
<circle cx="176.90" cy="99.30" r="1.45" fill="#00BFC4" fill-opacity="0.6"/>
<circle cx="177.90" cy="108.30" r="1.45" fill="#00BFC4" fill-opacity="0.6"/>
<circle cx="139.50" cy="46.50" r="1.45" fill="#00BFC4" fill-opacity="0.6"/>
<circle cx="184.60" cy="47.50" r="1.45" fill="#C77CFF" fill-opacity="0.6"/>
<circle cx="199.60" cy="50.00" r="1.45" fill="#C77CFF" fill-opacity="0.6"/>
<circle cx="215.90" cy="62.00" r="1.45" fill="#C77CFF" fill-opacity="0.6"/>
<circle cx="224.40" cy="74.80" r="1.45" fill="#C77CFF" fill-opacity="0.6"/>
<circle cx="197.60" cy="67.30" r="1.45" fill="#C77CFF" fill-opacity="0.6"/>
<circle cx="192.30" cy="76.60" r="1.45" fill="#C77CFF" fill-opacity="0.6"/>
<circle cx="195.50" cy="79.30" r="1.45" fill="#C77CFF" fill-opacity="0.6"/>
<circle cx="204.20" cy="78.00" r="1.45" fill="#C77CFF" fill-opacity="0.6"/>
<circle cx="210.00" cy="81.20" r="1.45" fill="#C77CFF" fill-opacity="0.6"/>
<circle cx="210.40" cy="98.40" r="1.45" fill="#C77CFF" fill-opacity="0.6"/>
<circle cx="213.70" cy="96.90" r="1.45" fill="#C77CFF" fill-opacity="0.6"/>
<circle cx="223.30" cy="88.70" r="1.45" fill="#C77CFF" fill-opacity="0.6"/>
<circle cx="224.40" cy="99.40" r="1.45" fill="#C77CFF" fill-opacity="0.6"/>
<circle cx="221.20" cy="111.30" r="1.45" fill="#C77CFF" fill-opacity="0.6"/>
<circle cx="193.30" cy="111.30" r="1.45" fill="#C77CFF" fill-opacity="0.6"/>
<circle cx="199.70" cy="108.00" r="1.45" fill="#C77CFF" fill-opacity="0.6"/>
<circle cx="208.30" cy="112.30" r="1.45" fill="#C77CFF" fill-opacity="0.6"/>
<circle cx="207.20" cy="116.60" r="1.45" fill="#C77CFF" fill-opacity="0.6"/>
<circle cx="209.40" cy="123.10" r="1.45" fill="#C77CFF" fill-opacity="0.6"/>
<circle cx="211.50" cy="123.50" r="1.45" fill="#C77CFF" fill-opacity="0.6"/>
<circle cx="215.80" cy="126.30" r="1.45" fill="#C77CFF" fill-opacity="0.6"/>
<circle cx="186.80" cy="113.40" r="1.45" fill="#C77CFF" fill-opacity="0.6"/>
<circle cx="200.00" cy="58.00" r="1.45" fill="#C77CFF" fill-opacity="0.6"/>
<path d="M85.3,76.39999999999999 L88.7,79.8 L85.3,83.2 L81.89999999999999,79.8 Z" fill="none" stroke="#F8766D" stroke-width="1.3"/>
<path d="M128.6,102.6 L132.0,106 L128.6,109.4 L125.19999999999999,106 Z" fill="none" stroke="#7CAE00" stroke-width="1.3"/>
<path d="M154.5,71.5 L157.9,74.9 L154.5,78.30000000000001 L151.1,74.9 Z" fill="none" stroke="#00BFC4" stroke-width="1.3"/>
<path d="M208.6,88.0 L212.0,91.4 L208.6,94.80000000000001 L205.2,91.4 Z" fill="none" stroke="#C77CFF" stroke-width="1.3"/>
<line x1="20.80" y1="86.50" x2="257.00" y2="86.50" stroke="#333" stroke-width="0.85" stroke-dasharray="2.5,1.2"/>
<line x1="139.40" y1="0.00" x2="139.40" y2="173.30" stroke="#333" stroke-width="0.85" stroke-dasharray="2.5,1.2"/>
<rect x="26" y="1.5" width="100" height="46" fill="#fff"/>
<text x="28" y="8.8" font-size="7.6" text-anchor="start" font-weight="bold" fill="#000">Status</text>
<circle cx="31.50" cy="17.30" r="1.6" fill="none" stroke="#999" stroke-width="0.6"/>
<path d="M31.5,23.3 L33.4,26.6 L29.6,26.6 Z" fill="none" stroke="#999" stroke-width="0.6"/>
<text x="40.3" y="19.8" font-size="6.7" text-anchor="start" fill="#1a1a1a">Nonremitters</text>
<text x="40.3" y="28.1" font-size="6.7" text-anchor="start" fill="#1a1a1a">Remitters</text>
<text x="87.3" y="8.8" font-size="7.8" text-anchor="start" font-weight="bold" fill="#000">Clusters</text>
<path d="M91.8,13.9 L95.3,17.4 L91.8,20.9 L88.3,17.4 Z" fill="none" stroke="#F8766D" stroke-width="1.25"/>
<text x="100.1" y="19.799999999999997" font-size="6.7" text-anchor="start" fill="#1a1a1a">Group 1</text>
<path d="M91.8,22.2 L95.3,25.8 L91.8,29.2 L88.3,25.8 Z" fill="none" stroke="#7CAE00" stroke-width="1.25"/>
<text x="100.1" y="28.15" font-size="6.7" text-anchor="start" fill="#1a1a1a">Group 2</text>
<path d="M91.8,30.6 L95.3,34.1 L91.8,37.6 L88.3,34.1 Z" fill="none" stroke="#00BFC4" stroke-width="1.25"/>
<text x="100.1" y="36.5" font-size="6.7" text-anchor="start" fill="#1a1a1a">Group 3</text>
<path d="M91.8,39.0 L95.3,42.5 L91.8,46.0 L88.3,42.5 Z" fill="none" stroke="#C77CFF" stroke-width="1.25"/>
<text x="100.1" y="44.85" font-size="6.7" text-anchor="start" fill="#1a1a1a">Group 4</text>
<line x1="280.30" y1="18.80" x2="280.30" y2="166.20" stroke="#7a7a7a" stroke-width="0.9"/>
<line x1="279.90" y1="166.20" x2="520.00" y2="166.20" stroke="#7a7a7a" stroke-width="0.9"/>
<line x1="278.50" y1="22.75" x2="280.30" y2="22.75" stroke="#7a7a7a" stroke-width="0.7"/>
<text x="277.9" y="25.05" font-size="6.5" text-anchor="end" fill="#444">50</text>
<line x1="278.50" y1="64.25" x2="280.30" y2="64.25" stroke="#7a7a7a" stroke-width="0.7"/>
<text x="277.9" y="66.55" font-size="6.5" text-anchor="end" fill="#444">40</text>
<line x1="278.50" y1="105.75" x2="280.30" y2="105.75" stroke="#7a7a7a" stroke-width="0.7"/>
<text x="277.9" y="108.05" font-size="6.5" text-anchor="end" fill="#444">30</text>
<line x1="278.50" y1="147.25" x2="280.30" y2="147.25" stroke="#7a7a7a" stroke-width="0.7"/>
<text x="277.9" y="149.55" font-size="6.5" text-anchor="end" fill="#444">20</text>
<line x1="285.75" y1="166.20" x2="285.75" y2="167.90" stroke="#7a7a7a" stroke-width="0.7"/>
<line x1="295.66" y1="166.20" x2="295.66" y2="167.90" stroke="#7a7a7a" stroke-width="0.7"/>
<line x1="305.58" y1="166.20" x2="305.58" y2="167.90" stroke="#7a7a7a" stroke-width="0.7"/>
<line x1="315.49" y1="166.20" x2="315.49" y2="167.90" stroke="#7a7a7a" stroke-width="0.7"/>
<line x1="325.40" y1="166.20" x2="325.40" y2="167.90" stroke="#7a7a7a" stroke-width="0.7"/>
<line x1="335.31" y1="166.20" x2="335.31" y2="167.90" stroke="#7a7a7a" stroke-width="0.7"/>
<line x1="345.23" y1="166.20" x2="345.23" y2="167.90" stroke="#7a7a7a" stroke-width="0.7"/>
<line x1="355.14" y1="166.20" x2="355.14" y2="167.90" stroke="#7a7a7a" stroke-width="0.7"/>
<line x1="365.05" y1="166.20" x2="365.05" y2="167.90" stroke="#7a7a7a" stroke-width="0.7"/>
<line x1="374.97" y1="166.20" x2="374.97" y2="167.90" stroke="#7a7a7a" stroke-width="0.7"/>
<line x1="384.88" y1="166.20" x2="384.88" y2="167.90" stroke="#7a7a7a" stroke-width="0.7"/>
<line x1="394.79" y1="166.20" x2="394.79" y2="167.90" stroke="#7a7a7a" stroke-width="0.7"/>
<line x1="404.71" y1="166.20" x2="404.71" y2="167.90" stroke="#7a7a7a" stroke-width="0.7"/>
<line x1="414.62" y1="166.20" x2="414.62" y2="167.90" stroke="#7a7a7a" stroke-width="0.7"/>
<line x1="424.53" y1="166.20" x2="424.53" y2="167.90" stroke="#7a7a7a" stroke-width="0.7"/>
<line x1="434.44" y1="166.20" x2="434.44" y2="167.90" stroke="#7a7a7a" stroke-width="0.7"/>
<line x1="444.36" y1="166.20" x2="444.36" y2="167.90" stroke="#7a7a7a" stroke-width="0.7"/>
<line x1="454.27" y1="166.20" x2="454.27" y2="167.90" stroke="#7a7a7a" stroke-width="0.7"/>
<line x1="464.18" y1="166.20" x2="464.18" y2="167.90" stroke="#7a7a7a" stroke-width="0.7"/>
<line x1="474.10" y1="166.20" x2="474.10" y2="167.90" stroke="#7a7a7a" stroke-width="0.7"/>
<line x1="484.01" y1="166.20" x2="484.01" y2="167.90" stroke="#7a7a7a" stroke-width="0.7"/>
<line x1="493.92" y1="166.20" x2="493.92" y2="167.90" stroke="#7a7a7a" stroke-width="0.7"/>
<line x1="503.84" y1="166.20" x2="503.84" y2="167.90" stroke="#7a7a7a" stroke-width="0.7"/>
<line x1="513.75" y1="166.20" x2="513.75" y2="167.90" stroke="#7a7a7a" stroke-width="0.7"/>
<text x="288.95" y="171.6" font-size="6.1" text-anchor="end" fill="#222" transform="rotate(-45 288.95 171.6)">12PM</text>
<text x="348.428" y="171.6" font-size="6.1" text-anchor="end" fill="#222" transform="rotate(-45 348.428 171.6)">6AM</text>
<text x="407.906" y="171.6" font-size="6.1" text-anchor="end" fill="#222" transform="rotate(-45 407.906 171.6)">12AM</text>
<text x="467.38399999999996" y="171.6" font-size="6.1" text-anchor="end" fill="#222" transform="rotate(-45 467.38399999999996 171.6)">6PM</text>
<text x="268.3" y="92.5" font-size="7.4" text-anchor="middle" font-weight="bold" fill="#000" transform="rotate(-90 268.3 92.5)">CV (%)</text>
<line x1="284.10" y1="81.15" x2="520.00" y2="81.15" stroke="#6a6a6a" stroke-width="1.35" stroke-dasharray="1.5,2.2"/>
<text x="308.7" y="9.0" font-size="7.2" text-anchor="start" font-weight="bold" fill="#000">Clusters</text>
<line x1="342.50" y1="6.50" x2="349.00" y2="6.50" stroke="#F8766D" stroke-width="1.1"/>
<text x="353" y="8.9" font-size="6.3" text-anchor="start" fill="#1a1a1a">Group 1</text>
<line x1="380.70" y1="6.50" x2="387.20" y2="6.50" stroke="#7CAE00" stroke-width="1.1"/>
<text x="391.3" y="8.9" font-size="6.3" text-anchor="start" fill="#1a1a1a">Group 2</text>
<line x1="419.00" y1="6.50" x2="425.50" y2="6.50" stroke="#00BFC4" stroke-width="1.1"/>
<text x="430.3" y="8.9" font-size="6.3" text-anchor="start" fill="#1a1a1a">Group 3</text>
<line x1="457.50" y1="6.50" x2="464.00" y2="6.50" stroke="#C77CFF" stroke-width="1.1"/>
<text x="468.8" y="8.9" font-size="6.3" text-anchor="start" fill="#1a1a1a">Group 4</text>
<line x1="285.75" y1="118.30" x2="285.75" y2="129.30" stroke="#888888" stroke-width="0.85" stroke-dasharray="1.9,1.1"/>
<line x1="295.66" y1="120.10" x2="295.66" y2="131.10" stroke="#888888" stroke-width="0.85" stroke-dasharray="1.9,1.1"/>
<line x1="305.58" y1="121.50" x2="305.58" y2="132.50" stroke="#888888" stroke-width="0.85" stroke-dasharray="1.9,1.1"/>
<line x1="315.49" y1="127.50" x2="315.49" y2="138.50" stroke="#888888" stroke-width="0.85" stroke-dasharray="1.9,1.1"/>
<line x1="325.40" y1="140.00" x2="325.40" y2="151.00" stroke="#888888" stroke-width="0.85" stroke-dasharray="1.9,1.1"/>
<line x1="335.31" y1="146.40" x2="335.31" y2="157.40" stroke="#888888" stroke-width="0.85" stroke-dasharray="1.9,1.1"/>
<line x1="345.23" y1="149.20" x2="345.23" y2="160.20" stroke="#888888" stroke-width="0.85" stroke-dasharray="1.9,1.1"/>
<line x1="355.14" y1="134.00" x2="355.14" y2="145.00" stroke="#888888" stroke-width="0.85" stroke-dasharray="1.9,1.1"/>
<line x1="365.05" y1="108.80" x2="365.05" y2="119.80" stroke="#888888" stroke-width="0.85" stroke-dasharray="1.9,1.1"/>
<line x1="374.97" y1="113.00" x2="374.97" y2="124.00" stroke="#888888" stroke-width="0.85" stroke-dasharray="1.9,1.1"/>
<line x1="384.88" y1="113.00" x2="384.88" y2="124.00" stroke="#888888" stroke-width="0.85" stroke-dasharray="1.9,1.1"/>
<line x1="394.79" y1="119.10" x2="394.79" y2="130.10" stroke="#888888" stroke-width="0.85" stroke-dasharray="1.9,1.1"/>
<line x1="404.71" y1="116.25" x2="404.71" y2="127.25" stroke="#888888" stroke-width="0.85" stroke-dasharray="1.9,1.1"/>
<line x1="414.62" y1="116.75" x2="414.62" y2="127.75" stroke="#888888" stroke-width="0.85" stroke-dasharray="1.9,1.1"/>
<line x1="424.53" y1="121.75" x2="424.53" y2="132.75" stroke="#888888" stroke-width="0.85" stroke-dasharray="1.9,1.1"/>
<line x1="434.44" y1="120.50" x2="434.44" y2="131.50" stroke="#888888" stroke-width="0.85" stroke-dasharray="1.9,1.1"/>
<line x1="444.36" y1="118.75" x2="444.36" y2="129.75" stroke="#888888" stroke-width="0.85" stroke-dasharray="1.9,1.1"/>
<line x1="454.27" y1="118.00" x2="454.27" y2="129.00" stroke="#888888" stroke-width="0.85" stroke-dasharray="1.9,1.1"/>
<line x1="464.18" y1="112.25" x2="464.18" y2="123.25" stroke="#888888" stroke-width="0.85" stroke-dasharray="1.9,1.1"/>
<line x1="474.10" y1="110.25" x2="474.10" y2="121.25" stroke="#888888" stroke-width="0.85" stroke-dasharray="1.9,1.1"/>
<line x1="484.01" y1="110.75" x2="484.01" y2="121.75" stroke="#888888" stroke-width="0.85" stroke-dasharray="1.9,1.1"/>
<line x1="493.92" y1="105.75" x2="493.92" y2="116.75" stroke="#888888" stroke-width="0.85" stroke-dasharray="1.9,1.1"/>
<line x1="503.84" y1="110.50" x2="503.84" y2="121.50" stroke="#888888" stroke-width="0.85" stroke-dasharray="1.9,1.1"/>
<line x1="513.75" y1="107.00" x2="513.75" y2="118.00" stroke="#888888" stroke-width="0.85" stroke-dasharray="1.9,1.1"/>
<line x1="285.75" y1="91.70" x2="285.75" y2="102.70" stroke="#888888" stroke-width="0.85" stroke-dasharray="1.9,1.1"/>
<line x1="295.66" y1="91.70" x2="295.66" y2="102.70" stroke="#888888" stroke-width="0.85" stroke-dasharray="1.9,1.1"/>
<line x1="305.58" y1="98.70" x2="305.58" y2="109.70" stroke="#888888" stroke-width="0.85" stroke-dasharray="1.9,1.1"/>
<line x1="315.49" y1="103.70" x2="315.49" y2="114.70" stroke="#888888" stroke-width="0.85" stroke-dasharray="1.9,1.1"/>
<line x1="325.40" y1="109.50" x2="325.40" y2="120.50" stroke="#888888" stroke-width="0.85" stroke-dasharray="1.9,1.1"/>
<line x1="335.31" y1="118.00" x2="335.31" y2="129.00" stroke="#888888" stroke-width="0.85" stroke-dasharray="1.9,1.1"/>
<line x1="345.23" y1="124.00" x2="345.23" y2="135.00" stroke="#888888" stroke-width="0.85" stroke-dasharray="1.9,1.1"/>
<line x1="355.14" y1="129.10" x2="355.14" y2="140.10" stroke="#888888" stroke-width="0.85" stroke-dasharray="1.9,1.1"/>
<line x1="365.05" y1="118.30" x2="365.05" y2="129.30" stroke="#888888" stroke-width="0.85" stroke-dasharray="1.9,1.1"/>
<line x1="374.97" y1="110.70" x2="374.97" y2="121.70" stroke="#888888" stroke-width="0.85" stroke-dasharray="1.9,1.1"/>
<line x1="384.88" y1="103.70" x2="384.88" y2="114.70" stroke="#888888" stroke-width="0.85" stroke-dasharray="1.9,1.1"/>
<line x1="394.79" y1="103.80" x2="394.79" y2="114.80" stroke="#888888" stroke-width="0.85" stroke-dasharray="1.9,1.1"/>
<line x1="404.71" y1="98.75" x2="404.71" y2="109.75" stroke="#888888" stroke-width="0.85" stroke-dasharray="1.9,1.1"/>
<line x1="414.62" y1="98.75" x2="414.62" y2="109.75" stroke="#888888" stroke-width="0.85" stroke-dasharray="1.9,1.1"/>
<line x1="424.53" y1="94.25" x2="424.53" y2="105.25" stroke="#888888" stroke-width="0.85" stroke-dasharray="1.9,1.1"/>
<line x1="434.44" y1="89.00" x2="434.44" y2="100.00" stroke="#888888" stroke-width="0.85" stroke-dasharray="1.9,1.1"/>
<line x1="444.36" y1="88.50" x2="444.36" y2="99.50" stroke="#888888" stroke-width="0.85" stroke-dasharray="1.9,1.1"/>
<line x1="454.27" y1="91.25" x2="454.27" y2="102.25" stroke="#888888" stroke-width="0.85" stroke-dasharray="1.9,1.1"/>
<line x1="464.18" y1="90.00" x2="464.18" y2="101.00" stroke="#888888" stroke-width="0.85" stroke-dasharray="1.9,1.1"/>
<line x1="474.10" y1="91.25" x2="474.10" y2="102.25" stroke="#888888" stroke-width="0.85" stroke-dasharray="1.9,1.1"/>
<line x1="484.01" y1="87.50" x2="484.01" y2="98.50" stroke="#888888" stroke-width="0.85" stroke-dasharray="1.9,1.1"/>
<line x1="493.92" y1="84.50" x2="493.92" y2="95.50" stroke="#888888" stroke-width="0.85" stroke-dasharray="1.9,1.1"/>
<line x1="503.84" y1="91.00" x2="503.84" y2="102.00" stroke="#888888" stroke-width="0.85" stroke-dasharray="1.9,1.1"/>
<line x1="513.75" y1="91.25" x2="513.75" y2="102.25" stroke="#888888" stroke-width="0.85" stroke-dasharray="1.9,1.1"/>
<line x1="285.75" y1="57.70" x2="285.75" y2="74.70" stroke="#888888" stroke-width="0.85" stroke-dasharray="1.9,1.1"/>
<line x1="295.66" y1="53.70" x2="295.66" y2="70.70" stroke="#888888" stroke-width="0.85" stroke-dasharray="1.9,1.1"/>
<line x1="305.58" y1="52.10" x2="305.58" y2="69.10" stroke="#888888" stroke-width="0.85" stroke-dasharray="1.9,1.1"/>
<line x1="315.49" y1="50.70" x2="315.49" y2="67.70" stroke="#888888" stroke-width="0.85" stroke-dasharray="1.9,1.1"/>
<line x1="325.40" y1="53.70" x2="325.40" y2="70.70" stroke="#888888" stroke-width="0.85" stroke-dasharray="1.9,1.1"/>
<line x1="335.31" y1="62.00" x2="335.31" y2="79.00" stroke="#888888" stroke-width="0.85" stroke-dasharray="1.9,1.1"/>
<line x1="345.23" y1="71.50" x2="345.23" y2="88.50" stroke="#888888" stroke-width="0.85" stroke-dasharray="1.9,1.1"/>
<line x1="355.14" y1="75.00" x2="355.14" y2="92.00" stroke="#888888" stroke-width="0.85" stroke-dasharray="1.9,1.1"/>
<line x1="365.05" y1="70.80" x2="365.05" y2="87.80" stroke="#888888" stroke-width="0.85" stroke-dasharray="1.9,1.1"/>
<line x1="374.97" y1="60.70" x2="374.97" y2="77.70" stroke="#888888" stroke-width="0.85" stroke-dasharray="1.9,1.1"/>
<line x1="384.88" y1="45.70" x2="384.88" y2="62.70" stroke="#888888" stroke-width="0.85" stroke-dasharray="1.9,1.1"/>
<line x1="394.79" y1="46.90" x2="394.79" y2="63.90" stroke="#888888" stroke-width="0.85" stroke-dasharray="1.9,1.1"/>
<line x1="404.71" y1="44.00" x2="404.71" y2="61.00" stroke="#888888" stroke-width="0.85" stroke-dasharray="1.9,1.1"/>
<line x1="414.62" y1="53.50" x2="414.62" y2="70.50" stroke="#888888" stroke-width="0.85" stroke-dasharray="1.9,1.1"/>
<line x1="424.53" y1="56.00" x2="424.53" y2="73.00" stroke="#888888" stroke-width="0.85" stroke-dasharray="1.9,1.1"/>
<line x1="434.44" y1="47.00" x2="434.44" y2="64.00" stroke="#888888" stroke-width="0.85" stroke-dasharray="1.9,1.1"/>
<line x1="444.36" y1="51.50" x2="444.36" y2="68.50" stroke="#888888" stroke-width="0.85" stroke-dasharray="1.9,1.1"/>
<line x1="454.27" y1="51.50" x2="454.27" y2="68.50" stroke="#888888" stroke-width="0.85" stroke-dasharray="1.9,1.1"/>
<line x1="464.18" y1="50.25" x2="464.18" y2="67.25" stroke="#888888" stroke-width="0.85" stroke-dasharray="1.9,1.1"/>
<line x1="474.10" y1="50.75" x2="474.10" y2="67.75" stroke="#888888" stroke-width="0.85" stroke-dasharray="1.9,1.1"/>
<line x1="484.01" y1="50.00" x2="484.01" y2="67.00" stroke="#888888" stroke-width="0.85" stroke-dasharray="1.9,1.1"/>
<line x1="493.92" y1="50.75" x2="493.92" y2="67.75" stroke="#888888" stroke-width="0.85" stroke-dasharray="1.9,1.1"/>
<line x1="503.84" y1="60.00" x2="503.84" y2="77.00" stroke="#888888" stroke-width="0.85" stroke-dasharray="1.9,1.1"/>
<line x1="513.75" y1="55.50" x2="513.75" y2="72.50" stroke="#888888" stroke-width="0.85" stroke-dasharray="1.9,1.1"/>
<line x1="285.75" y1="49.10" x2="285.75" y2="66.10" stroke="#888888" stroke-width="0.85" stroke-dasharray="1.9,1.1"/>
<line x1="295.66" y1="52.60" x2="295.66" y2="69.60" stroke="#888888" stroke-width="0.85" stroke-dasharray="1.9,1.1"/>
<line x1="305.58" y1="52.10" x2="305.58" y2="69.10" stroke="#888888" stroke-width="0.85" stroke-dasharray="1.9,1.1"/>
<line x1="315.49" y1="58.10" x2="315.49" y2="75.10" stroke="#888888" stroke-width="0.85" stroke-dasharray="1.9,1.1"/>
<line x1="325.40" y1="63.40" x2="325.40" y2="80.40" stroke="#888888" stroke-width="0.85" stroke-dasharray="1.9,1.1"/>
<line x1="335.31" y1="71.00" x2="335.31" y2="88.00" stroke="#888888" stroke-width="0.85" stroke-dasharray="1.9,1.1"/>
<line x1="345.23" y1="76.60" x2="345.23" y2="93.60" stroke="#888888" stroke-width="0.85" stroke-dasharray="1.9,1.1"/>
<line x1="355.14" y1="81.20" x2="355.14" y2="98.20" stroke="#888888" stroke-width="0.85" stroke-dasharray="1.9,1.1"/>
<line x1="365.05" y1="84.90" x2="365.05" y2="101.90" stroke="#888888" stroke-width="0.85" stroke-dasharray="1.9,1.1"/>
<line x1="374.97" y1="78.40" x2="374.97" y2="95.40" stroke="#888888" stroke-width="0.85" stroke-dasharray="1.9,1.1"/>
<line x1="384.88" y1="63.20" x2="384.88" y2="80.20" stroke="#888888" stroke-width="0.85" stroke-dasharray="1.9,1.1"/>
<line x1="394.79" y1="52.10" x2="394.79" y2="69.10" stroke="#888888" stroke-width="0.85" stroke-dasharray="1.9,1.1"/>
<line x1="404.71" y1="44.00" x2="404.71" y2="61.00" stroke="#888888" stroke-width="0.85" stroke-dasharray="1.9,1.1"/>
<line x1="414.62" y1="44.50" x2="414.62" y2="61.50" stroke="#888888" stroke-width="0.85" stroke-dasharray="1.9,1.1"/>
<line x1="424.53" y1="31.50" x2="424.53" y2="48.50" stroke="#888888" stroke-width="0.85" stroke-dasharray="1.9,1.1"/>
<line x1="434.44" y1="23.00" x2="434.44" y2="40.00" stroke="#888888" stroke-width="0.85" stroke-dasharray="1.9,1.1"/>
<line x1="444.36" y1="36.50" x2="444.36" y2="53.50" stroke="#888888" stroke-width="0.85" stroke-dasharray="1.9,1.1"/>
<line x1="454.27" y1="49.00" x2="454.27" y2="66.00" stroke="#888888" stroke-width="0.85" stroke-dasharray="1.9,1.1"/>
<line x1="464.18" y1="39.00" x2="464.18" y2="56.00" stroke="#888888" stroke-width="0.85" stroke-dasharray="1.9,1.1"/>
<line x1="474.10" y1="37.25" x2="474.10" y2="54.25" stroke="#888888" stroke-width="0.85" stroke-dasharray="1.9,1.1"/>
<line x1="484.01" y1="33.50" x2="484.01" y2="50.50" stroke="#888888" stroke-width="0.85" stroke-dasharray="1.9,1.1"/>
<line x1="493.92" y1="37.25" x2="493.92" y2="54.25" stroke="#888888" stroke-width="0.85" stroke-dasharray="1.9,1.1"/>
<line x1="503.84" y1="38.25" x2="503.84" y2="55.25" stroke="#888888" stroke-width="0.85" stroke-dasharray="1.9,1.1"/>
<line x1="513.75" y1="42.25" x2="513.75" y2="59.25" stroke="#888888" stroke-width="0.85" stroke-dasharray="1.9,1.1"/>
<polyline points="285.75,123.80 295.66,125.60 305.58,127.00 315.49,133.00 325.40,145.50 335.31,151.90 345.23,154.70 355.14,139.50 365.05,114.30 374.97,118.50 384.88,118.50 394.79,124.60 404.71,121.75 414.62,122.25 424.53,127.25 434.44,126.00 444.36,124.25 454.27,123.50 464.18,117.75 474.10,115.75 484.01,116.25 493.92,111.25 503.84,116.00 513.75,112.50" fill="none" stroke="#F8766D" stroke-width="1.4" stroke-linejoin="round" stroke-linecap="round"/>
<polyline points="285.75,97.20 295.66,97.20 305.58,104.20 315.49,109.20 325.40,115.00 335.31,123.50 345.23,129.50 355.14,134.60 365.05,123.80 374.97,116.20 384.88,109.20 394.79,109.30 404.71,104.25 414.62,104.25 424.53,99.75 434.44,94.50 444.36,94.00 454.27,96.75 464.18,95.50 474.10,96.75 484.01,93.00 493.92,90.00 503.84,96.50 513.75,96.75" fill="none" stroke="#7CAE00" stroke-width="1.4" stroke-linejoin="round" stroke-linecap="round"/>
<polyline points="285.75,66.20 295.66,62.20 305.58,60.60 315.49,59.20 325.40,62.20 335.31,70.50 345.23,80.00 355.14,83.50 365.05,79.30 374.97,69.20 384.88,54.20 394.79,55.40 404.71,52.50 414.62,62.00 424.53,64.50 434.44,55.50 444.36,60.00 454.27,60.00 464.18,58.75 474.10,59.25 484.01,58.50 493.92,59.25 503.84,68.50 513.75,64.00" fill="none" stroke="#00BFC4" stroke-width="1.4" stroke-linejoin="round" stroke-linecap="round"/>
<polyline points="285.75,57.60 295.66,61.10 305.58,60.60 315.49,66.60 325.40,71.90 335.31,79.50 345.23,85.10 355.14,89.70 365.05,93.40 374.97,86.90 384.88,71.70 394.79,60.60 404.71,52.50 414.62,53.00 424.53,40.00 434.44,31.50 444.36,45.00 454.27,57.50 464.18,47.50 474.10,45.75 484.01,42.00 493.92,45.75 503.84,46.75 513.75,50.75" fill="none" stroke="#C77CFF" stroke-width="1.4" stroke-linejoin="round" stroke-linecap="round"/>
<circle cx="285.75" cy="123.80" r="1.8" fill="#fff" stroke="#666" stroke-width="0.55"/>
<circle cx="295.66" cy="125.60" r="1.8" fill="#fff" stroke="#666" stroke-width="0.55"/>
<circle cx="305.58" cy="127.00" r="1.8" fill="#fff" stroke="#666" stroke-width="0.55"/>
<circle cx="315.49" cy="133.00" r="1.8" fill="#fff" stroke="#666" stroke-width="0.55"/>
<circle cx="325.40" cy="145.50" r="1.8" fill="#fff" stroke="#666" stroke-width="0.55"/>
<circle cx="335.31" cy="151.90" r="1.8" fill="#fff" stroke="#666" stroke-width="0.55"/>
<circle cx="345.23" cy="154.70" r="1.8" fill="#fff" stroke="#666" stroke-width="0.55"/>
<circle cx="355.14" cy="139.50" r="1.8" fill="#fff" stroke="#666" stroke-width="0.55"/>
<circle cx="365.05" cy="114.30" r="1.8" fill="#fff" stroke="#666" stroke-width="0.55"/>
<circle cx="374.97" cy="118.50" r="1.8" fill="#fff" stroke="#666" stroke-width="0.55"/>
<circle cx="384.88" cy="118.50" r="1.8" fill="#fff" stroke="#666" stroke-width="0.55"/>
<circle cx="394.79" cy="124.60" r="1.8" fill="#fff" stroke="#666" stroke-width="0.55"/>
<circle cx="404.71" cy="121.75" r="1.8" fill="#fff" stroke="#666" stroke-width="0.55"/>
<circle cx="414.62" cy="122.25" r="1.8" fill="#fff" stroke="#666" stroke-width="0.55"/>
<circle cx="424.53" cy="127.25" r="1.8" fill="#fff" stroke="#666" stroke-width="0.55"/>
<circle cx="434.44" cy="126.00" r="1.8" fill="#fff" stroke="#666" stroke-width="0.55"/>
<circle cx="444.36" cy="124.25" r="1.8" fill="#fff" stroke="#666" stroke-width="0.55"/>
<circle cx="454.27" cy="123.50" r="1.8" fill="#fff" stroke="#666" stroke-width="0.55"/>
<circle cx="464.18" cy="117.75" r="1.8" fill="#fff" stroke="#666" stroke-width="0.55"/>
<circle cx="474.10" cy="115.75" r="1.8" fill="#fff" stroke="#666" stroke-width="0.55"/>
<circle cx="484.01" cy="116.25" r="1.8" fill="#fff" stroke="#666" stroke-width="0.55"/>
<circle cx="493.92" cy="111.25" r="1.8" fill="#fff" stroke="#666" stroke-width="0.55"/>
<circle cx="503.84" cy="116.00" r="1.8" fill="#fff" stroke="#666" stroke-width="0.55"/>
<circle cx="513.75" cy="112.50" r="1.8" fill="#fff" stroke="#666" stroke-width="0.55"/>
<circle cx="285.75" cy="97.20" r="1.8" fill="#fff" stroke="#666" stroke-width="0.55"/>
<circle cx="295.66" cy="97.20" r="1.8" fill="#fff" stroke="#666" stroke-width="0.55"/>
<circle cx="305.58" cy="104.20" r="1.8" fill="#fff" stroke="#666" stroke-width="0.55"/>
<circle cx="315.49" cy="109.20" r="1.8" fill="#fff" stroke="#666" stroke-width="0.55"/>
<circle cx="325.40" cy="115.00" r="1.8" fill="#fff" stroke="#666" stroke-width="0.55"/>
<circle cx="335.31" cy="123.50" r="1.8" fill="#fff" stroke="#666" stroke-width="0.55"/>
<circle cx="345.23" cy="129.50" r="1.8" fill="#fff" stroke="#666" stroke-width="0.55"/>
<circle cx="355.14" cy="134.60" r="1.8" fill="#fff" stroke="#666" stroke-width="0.55"/>
<circle cx="365.05" cy="123.80" r="1.8" fill="#fff" stroke="#666" stroke-width="0.55"/>
<circle cx="374.97" cy="116.20" r="1.8" fill="#fff" stroke="#666" stroke-width="0.55"/>
<circle cx="384.88" cy="109.20" r="1.8" fill="#fff" stroke="#666" stroke-width="0.55"/>
<circle cx="394.79" cy="109.30" r="1.8" fill="#fff" stroke="#666" stroke-width="0.55"/>
<circle cx="404.71" cy="104.25" r="1.8" fill="#fff" stroke="#666" stroke-width="0.55"/>
<circle cx="414.62" cy="104.25" r="1.8" fill="#fff" stroke="#666" stroke-width="0.55"/>
<circle cx="424.53" cy="99.75" r="1.8" fill="#fff" stroke="#666" stroke-width="0.55"/>
<circle cx="434.44" cy="94.50" r="1.8" fill="#fff" stroke="#666" stroke-width="0.55"/>
<circle cx="444.36" cy="94.00" r="1.8" fill="#fff" stroke="#666" stroke-width="0.55"/>
<circle cx="454.27" cy="96.75" r="1.8" fill="#fff" stroke="#666" stroke-width="0.55"/>
<circle cx="464.18" cy="95.50" r="1.8" fill="#fff" stroke="#666" stroke-width="0.55"/>
<circle cx="474.10" cy="96.75" r="1.8" fill="#fff" stroke="#666" stroke-width="0.55"/>
<circle cx="484.01" cy="93.00" r="1.8" fill="#fff" stroke="#666" stroke-width="0.55"/>
<circle cx="493.92" cy="90.00" r="1.8" fill="#fff" stroke="#666" stroke-width="0.55"/>
<circle cx="503.84" cy="96.50" r="1.8" fill="#fff" stroke="#666" stroke-width="0.55"/>
<circle cx="513.75" cy="96.75" r="1.8" fill="#fff" stroke="#666" stroke-width="0.55"/>
<circle cx="285.75" cy="66.20" r="1.8" fill="#fff" stroke="#666" stroke-width="0.55"/>
<circle cx="295.66" cy="62.20" r="1.8" fill="#fff" stroke="#666" stroke-width="0.55"/>
<circle cx="305.58" cy="60.60" r="1.8" fill="#fff" stroke="#666" stroke-width="0.55"/>
<circle cx="315.49" cy="59.20" r="1.8" fill="#fff" stroke="#666" stroke-width="0.55"/>
<circle cx="325.40" cy="62.20" r="1.8" fill="#fff" stroke="#666" stroke-width="0.55"/>
<circle cx="335.31" cy="70.50" r="1.8" fill="#fff" stroke="#666" stroke-width="0.55"/>
<circle cx="345.23" cy="80.00" r="1.8" fill="#fff" stroke="#666" stroke-width="0.55"/>
<circle cx="355.14" cy="83.50" r="1.8" fill="#fff" stroke="#666" stroke-width="0.55"/>
<circle cx="365.05" cy="79.30" r="1.8" fill="#fff" stroke="#666" stroke-width="0.55"/>
<circle cx="374.97" cy="69.20" r="1.8" fill="#fff" stroke="#666" stroke-width="0.55"/>
<circle cx="384.88" cy="54.20" r="1.8" fill="#fff" stroke="#666" stroke-width="0.55"/>
<circle cx="394.79" cy="55.40" r="1.8" fill="#fff" stroke="#666" stroke-width="0.55"/>
<circle cx="404.71" cy="52.50" r="1.8" fill="#fff" stroke="#666" stroke-width="0.55"/>
<circle cx="414.62" cy="62.00" r="1.8" fill="#fff" stroke="#666" stroke-width="0.55"/>
<circle cx="424.53" cy="64.50" r="1.8" fill="#fff" stroke="#666" stroke-width="0.55"/>
<circle cx="434.44" cy="55.50" r="1.8" fill="#fff" stroke="#666" stroke-width="0.55"/>
<circle cx="444.36" cy="60.00" r="1.8" fill="#fff" stroke="#666" stroke-width="0.55"/>
<circle cx="454.27" cy="60.00" r="1.8" fill="#fff" stroke="#666" stroke-width="0.55"/>
<circle cx="464.18" cy="58.75" r="1.8" fill="#fff" stroke="#666" stroke-width="0.55"/>
<circle cx="474.10" cy="59.25" r="1.8" fill="#fff" stroke="#666" stroke-width="0.55"/>
<circle cx="484.01" cy="58.50" r="1.8" fill="#fff" stroke="#666" stroke-width="0.55"/>
<circle cx="493.92" cy="59.25" r="1.8" fill="#fff" stroke="#666" stroke-width="0.55"/>
<circle cx="503.84" cy="68.50" r="1.8" fill="#fff" stroke="#666" stroke-width="0.55"/>
<circle cx="513.75" cy="64.00" r="1.8" fill="#fff" stroke="#666" stroke-width="0.55"/>
<circle cx="285.75" cy="57.60" r="1.8" fill="#fff" stroke="#666" stroke-width="0.55"/>
<circle cx="295.66" cy="61.10" r="1.8" fill="#fff" stroke="#666" stroke-width="0.55"/>
<circle cx="305.58" cy="60.60" r="1.8" fill="#fff" stroke="#666" stroke-width="0.55"/>
<circle cx="315.49" cy="66.60" r="1.8" fill="#fff" stroke="#666" stroke-width="0.55"/>
<circle cx="325.40" cy="71.90" r="1.8" fill="#fff" stroke="#666" stroke-width="0.55"/>
<circle cx="335.31" cy="79.50" r="1.8" fill="#fff" stroke="#666" stroke-width="0.55"/>
<circle cx="345.23" cy="85.10" r="1.8" fill="#fff" stroke="#666" stroke-width="0.55"/>
<circle cx="355.14" cy="89.70" r="1.8" fill="#fff" stroke="#666" stroke-width="0.55"/>
<circle cx="365.05" cy="93.40" r="1.8" fill="#fff" stroke="#666" stroke-width="0.55"/>
<circle cx="374.97" cy="86.90" r="1.8" fill="#fff" stroke="#666" stroke-width="0.55"/>
<circle cx="384.88" cy="71.70" r="1.8" fill="#fff" stroke="#666" stroke-width="0.55"/>
<circle cx="394.79" cy="60.60" r="1.8" fill="#fff" stroke="#666" stroke-width="0.55"/>
<circle cx="404.71" cy="52.50" r="1.8" fill="#fff" stroke="#666" stroke-width="0.55"/>
<circle cx="414.62" cy="53.00" r="1.8" fill="#fff" stroke="#666" stroke-width="0.55"/>
<circle cx="424.53" cy="40.00" r="1.8" fill="#fff" stroke="#666" stroke-width="0.55"/>
<circle cx="434.44" cy="31.50" r="1.8" fill="#fff" stroke="#666" stroke-width="0.55"/>
<circle cx="444.36" cy="45.00" r="1.8" fill="#fff" stroke="#666" stroke-width="0.55"/>
<circle cx="454.27" cy="57.50" r="1.8" fill="#fff" stroke="#666" stroke-width="0.55"/>
<circle cx="464.18" cy="47.50" r="1.8" fill="#fff" stroke="#666" stroke-width="0.55"/>
<circle cx="474.10" cy="45.75" r="1.8" fill="#fff" stroke="#666" stroke-width="0.55"/>
<circle cx="484.01" cy="42.00" r="1.8" fill="#fff" stroke="#666" stroke-width="0.55"/>
<circle cx="493.92" cy="45.75" r="1.8" fill="#fff" stroke="#666" stroke-width="0.55"/>
<circle cx="503.84" cy="46.75" r="1.8" fill="#fff" stroke="#666" stroke-width="0.55"/>
<circle cx="513.75" cy="50.75" r="1.8" fill="#fff" stroke="#666" stroke-width="0.55"/>
<line x1="20.20" y1="208.00" x2="20.20" y2="495.30" stroke="#7a7a7a" stroke-width="0.9"/>
<line x1="18.60" y1="270.62" x2="20.20" y2="270.62" stroke="#7a7a7a" stroke-width="0.7"/>
<text x="17.9" y="272.925" font-size="6.5" text-anchor="end" fill="#444">75</text>
<line x1="18.60" y1="341.25" x2="20.20" y2="341.25" stroke="#7a7a7a" stroke-width="0.7"/>
<text x="17.9" y="343.55" font-size="6.5" text-anchor="end" fill="#444">50</text>
<line x1="18.60" y1="411.88" x2="20.20" y2="411.88" stroke="#7a7a7a" stroke-width="0.7"/>
<text x="17.9" y="414.175" font-size="6.5" text-anchor="end" fill="#444">25</text>
<line x1="18.60" y1="482.50" x2="20.20" y2="482.50" stroke="#7a7a7a" stroke-width="0.7"/>
<text x="17.9" y="484.8" font-size="6.5" text-anchor="end" fill="#444">0</text>
<text x="6.0" y="351.5" font-size="7.3" text-anchor="middle" font-weight="bold" fill="#000" transform="rotate(-90 6.0 351.5)">Time spent in specified ranges (%)</text>
<line x1="19.70" y1="495.30" x2="142.80" y2="495.30" stroke="#7a7a7a" stroke-width="0.9"/>
<line x1="23.30" y1="495.30" x2="23.30" y2="496.90" stroke="#7a7a7a" stroke-width="0.7"/>
<line x1="28.39" y1="495.30" x2="28.39" y2="496.90" stroke="#7a7a7a" stroke-width="0.7"/>
<line x1="33.48" y1="495.30" x2="33.48" y2="496.90" stroke="#7a7a7a" stroke-width="0.7"/>
<line x1="38.57" y1="495.30" x2="38.57" y2="496.90" stroke="#7a7a7a" stroke-width="0.7"/>
<line x1="43.66" y1="495.30" x2="43.66" y2="496.90" stroke="#7a7a7a" stroke-width="0.7"/>
<line x1="48.75" y1="495.30" x2="48.75" y2="496.90" stroke="#7a7a7a" stroke-width="0.7"/>
<line x1="53.84" y1="495.30" x2="53.84" y2="496.90" stroke="#7a7a7a" stroke-width="0.7"/>
<line x1="58.93" y1="495.30" x2="58.93" y2="496.90" stroke="#7a7a7a" stroke-width="0.7"/>
<line x1="64.02" y1="495.30" x2="64.02" y2="496.90" stroke="#7a7a7a" stroke-width="0.7"/>
<line x1="69.11" y1="495.30" x2="69.11" y2="496.90" stroke="#7a7a7a" stroke-width="0.7"/>
<line x1="74.20" y1="495.30" x2="74.20" y2="496.90" stroke="#7a7a7a" stroke-width="0.7"/>
<line x1="79.29" y1="495.30" x2="79.29" y2="496.90" stroke="#7a7a7a" stroke-width="0.7"/>
<line x1="84.38" y1="495.30" x2="84.38" y2="496.90" stroke="#7a7a7a" stroke-width="0.7"/>
<line x1="89.47" y1="495.30" x2="89.47" y2="496.90" stroke="#7a7a7a" stroke-width="0.7"/>
<line x1="94.56" y1="495.30" x2="94.56" y2="496.90" stroke="#7a7a7a" stroke-width="0.7"/>
<line x1="99.65" y1="495.30" x2="99.65" y2="496.90" stroke="#7a7a7a" stroke-width="0.7"/>
<line x1="104.74" y1="495.30" x2="104.74" y2="496.90" stroke="#7a7a7a" stroke-width="0.7"/>
<line x1="109.83" y1="495.30" x2="109.83" y2="496.90" stroke="#7a7a7a" stroke-width="0.7"/>
<line x1="114.92" y1="495.30" x2="114.92" y2="496.90" stroke="#7a7a7a" stroke-width="0.7"/>
<line x1="120.01" y1="495.30" x2="120.01" y2="496.90" stroke="#7a7a7a" stroke-width="0.7"/>
<line x1="125.10" y1="495.30" x2="125.10" y2="496.90" stroke="#7a7a7a" stroke-width="0.7"/>
<line x1="130.19" y1="495.30" x2="130.19" y2="496.90" stroke="#7a7a7a" stroke-width="0.7"/>
<line x1="135.28" y1="495.30" x2="135.28" y2="496.90" stroke="#7a7a7a" stroke-width="0.7"/>
<line x1="140.37" y1="495.30" x2="140.37" y2="496.90" stroke="#7a7a7a" stroke-width="0.7"/>
<text x="26.7" y="500.4" font-size="6.1" text-anchor="end" fill="#222" transform="rotate(-45 26.7 500.4)">12PM</text>
<text x="57.24" y="500.4" font-size="6.1" text-anchor="end" fill="#222" transform="rotate(-45 57.24 500.4)">6AM</text>
<text x="87.78" y="500.4" font-size="6.1" text-anchor="end" fill="#222" transform="rotate(-45 87.78 500.4)">12AM</text>
<text x="118.32000000000001" y="500.4" font-size="6.1" text-anchor="end" fill="#222" transform="rotate(-45 118.32000000000001 500.4)">6PM</text>
<text x="81.4" y="204.6" font-size="7.6" text-anchor="middle" font-weight="bold" fill="#F8766D">Group 1</text>
<line x1="23.30" y1="230.60" x2="23.30" y2="243.60" stroke="#888888" stroke-width="0.9" stroke-dasharray="2.3,1.3"/>
<line x1="28.39" y1="228.80" x2="28.39" y2="241.80" stroke="#888888" stroke-width="0.9" stroke-dasharray="2.3,1.3"/>
<line x1="33.48" y1="236.10" x2="33.48" y2="249.10" stroke="#888888" stroke-width="0.9" stroke-dasharray="2.3,1.3"/>
<line x1="38.57" y1="240.90" x2="38.57" y2="253.90" stroke="#888888" stroke-width="0.9" stroke-dasharray="2.3,1.3"/>
<line x1="43.66" y1="246.30" x2="43.66" y2="259.30" stroke="#888888" stroke-width="0.9" stroke-dasharray="2.3,1.3"/>
<line x1="48.75" y1="253.40" x2="48.75" y2="266.40" stroke="#888888" stroke-width="0.9" stroke-dasharray="2.3,1.3"/>
<line x1="53.84" y1="258.00" x2="53.84" y2="271.00" stroke="#888888" stroke-width="0.9" stroke-dasharray="2.3,1.3"/>
<line x1="58.93" y1="247.70" x2="58.93" y2="260.70" stroke="#888888" stroke-width="0.9" stroke-dasharray="2.3,1.3"/>
<line x1="64.02" y1="242.60" x2="64.02" y2="255.60" stroke="#888888" stroke-width="0.9" stroke-dasharray="2.3,1.3"/>
<line x1="69.11" y1="234.00" x2="69.11" y2="247.00" stroke="#888888" stroke-width="0.9" stroke-dasharray="2.3,1.3"/>
<line x1="74.20" y1="229.20" x2="74.20" y2="242.20" stroke="#888888" stroke-width="0.9" stroke-dasharray="2.3,1.3"/>
<line x1="79.29" y1="229.90" x2="79.29" y2="242.90" stroke="#888888" stroke-width="0.9" stroke-dasharray="2.3,1.3"/>
<line x1="84.38" y1="230.20" x2="84.38" y2="243.20" stroke="#888888" stroke-width="0.9" stroke-dasharray="2.3,1.3"/>
<line x1="89.47" y1="220.60" x2="89.47" y2="233.60" stroke="#888888" stroke-width="0.9" stroke-dasharray="2.3,1.3"/>
<line x1="94.56" y1="221.00" x2="94.56" y2="234.00" stroke="#888888" stroke-width="0.9" stroke-dasharray="2.3,1.3"/>
<line x1="99.65" y1="219.70" x2="99.65" y2="232.70" stroke="#888888" stroke-width="0.9" stroke-dasharray="2.3,1.3"/>
<line x1="104.74" y1="218.30" x2="104.74" y2="231.30" stroke="#888888" stroke-width="0.9" stroke-dasharray="2.3,1.3"/>
<line x1="109.83" y1="219.70" x2="109.83" y2="232.70" stroke="#888888" stroke-width="0.9" stroke-dasharray="2.3,1.3"/>
<line x1="114.92" y1="222.40" x2="114.92" y2="235.40" stroke="#888888" stroke-width="0.9" stroke-dasharray="2.3,1.3"/>
<line x1="120.01" y1="223.80" x2="120.01" y2="236.80" stroke="#888888" stroke-width="0.9" stroke-dasharray="2.3,1.3"/>
<line x1="125.10" y1="223.10" x2="125.10" y2="236.10" stroke="#888888" stroke-width="0.9" stroke-dasharray="2.3,1.3"/>
<line x1="130.19" y1="234.70" x2="130.19" y2="247.70" stroke="#888888" stroke-width="0.9" stroke-dasharray="2.3,1.3"/>
<line x1="135.28" y1="226.50" x2="135.28" y2="239.50" stroke="#888888" stroke-width="0.9" stroke-dasharray="2.3,1.3"/>
<line x1="140.37" y1="230.60" x2="140.37" y2="243.60" stroke="#888888" stroke-width="0.9" stroke-dasharray="2.3,1.3"/>
<line x1="23.30" y1="245.20" x2="23.30" y2="258.20" stroke="#888888" stroke-width="0.9" stroke-dasharray="2.3,1.3"/>
<line x1="28.39" y1="242.20" x2="28.39" y2="255.20" stroke="#888888" stroke-width="0.9" stroke-dasharray="2.3,1.3"/>
<line x1="33.48" y1="236.80" x2="33.48" y2="249.80" stroke="#888888" stroke-width="0.9" stroke-dasharray="2.3,1.3"/>
<line x1="38.57" y1="234.00" x2="38.57" y2="247.00" stroke="#888888" stroke-width="0.9" stroke-dasharray="2.3,1.3"/>
<line x1="43.66" y1="227.20" x2="43.66" y2="240.20" stroke="#888888" stroke-width="0.9" stroke-dasharray="2.3,1.3"/>
<line x1="48.75" y1="227.90" x2="48.75" y2="240.90" stroke="#888888" stroke-width="0.9" stroke-dasharray="2.3,1.3"/>
<line x1="53.84" y1="231.30" x2="53.84" y2="244.30" stroke="#888888" stroke-width="0.9" stroke-dasharray="2.3,1.3"/>
<line x1="58.93" y1="230.60" x2="58.93" y2="243.60" stroke="#888888" stroke-width="0.9" stroke-dasharray="2.3,1.3"/>
<line x1="64.02" y1="248.80" x2="64.02" y2="261.80" stroke="#888888" stroke-width="0.9" stroke-dasharray="2.3,1.3"/>
<line x1="69.11" y1="253.20" x2="69.11" y2="266.20" stroke="#888888" stroke-width="0.9" stroke-dasharray="2.3,1.3"/>
<line x1="74.20" y1="249.10" x2="74.20" y2="262.10" stroke="#888888" stroke-width="0.9" stroke-dasharray="2.3,1.3"/>
<line x1="79.29" y1="246.30" x2="79.29" y2="259.30" stroke="#888888" stroke-width="0.9" stroke-dasharray="2.3,1.3"/>
<line x1="84.38" y1="236.10" x2="84.38" y2="249.10" stroke="#888888" stroke-width="0.9" stroke-dasharray="2.3,1.3"/>
<line x1="89.47" y1="238.10" x2="89.47" y2="251.10" stroke="#888888" stroke-width="0.9" stroke-dasharray="2.3,1.3"/>
<line x1="94.56" y1="242.20" x2="94.56" y2="255.20" stroke="#888888" stroke-width="0.9" stroke-dasharray="2.3,1.3"/>
<line x1="99.65" y1="233.30" x2="99.65" y2="246.30" stroke="#888888" stroke-width="0.9" stroke-dasharray="2.3,1.3"/>
<line x1="104.74" y1="234.00" x2="104.74" y2="247.00" stroke="#888888" stroke-width="0.9" stroke-dasharray="2.3,1.3"/>
<line x1="109.83" y1="238.10" x2="109.83" y2="251.10" stroke="#888888" stroke-width="0.9" stroke-dasharray="2.3,1.3"/>
<line x1="114.92" y1="240.90" x2="114.92" y2="253.90" stroke="#888888" stroke-width="0.9" stroke-dasharray="2.3,1.3"/>
<line x1="120.01" y1="244.30" x2="120.01" y2="257.30" stroke="#888888" stroke-width="0.9" stroke-dasharray="2.3,1.3"/>
<line x1="125.10" y1="256.20" x2="125.10" y2="269.20" stroke="#888888" stroke-width="0.9" stroke-dasharray="2.3,1.3"/>
<line x1="130.19" y1="268.20" x2="130.19" y2="281.20" stroke="#888888" stroke-width="0.9" stroke-dasharray="2.3,1.3"/>
<line x1="135.28" y1="267.50" x2="135.28" y2="280.50" stroke="#888888" stroke-width="0.9" stroke-dasharray="2.3,1.3"/>
<line x1="140.37" y1="268.90" x2="140.37" y2="281.90" stroke="#888888" stroke-width="0.9" stroke-dasharray="2.3,1.3"/>
<line x1="23.30" y1="448.10" x2="23.30" y2="459.10" stroke="#888888" stroke-width="0.9" stroke-dasharray="2.3,1.3"/>
<line x1="28.39" y1="445.50" x2="28.39" y2="456.50" stroke="#888888" stroke-width="0.9" stroke-dasharray="2.3,1.3"/>
<line x1="33.48" y1="436.20" x2="33.48" y2="447.20" stroke="#888888" stroke-width="0.9" stroke-dasharray="2.3,1.3"/>
<line x1="38.57" y1="427.90" x2="38.57" y2="438.90" stroke="#888888" stroke-width="0.9" stroke-dasharray="2.3,1.3"/>
<line x1="43.66" y1="420.90" x2="43.66" y2="431.90" stroke="#888888" stroke-width="0.9" stroke-dasharray="2.3,1.3"/>
<line x1="48.75" y1="412.60" x2="48.75" y2="423.60" stroke="#888888" stroke-width="0.9" stroke-dasharray="2.3,1.3"/>
<line x1="53.84" y1="407.70" x2="53.84" y2="418.70" stroke="#888888" stroke-width="0.9" stroke-dasharray="2.3,1.3"/>
<line x1="58.93" y1="420.90" x2="58.93" y2="431.90" stroke="#888888" stroke-width="0.9" stroke-dasharray="2.3,1.3"/>
<line x1="64.02" y1="433.50" x2="64.02" y2="444.50" stroke="#888888" stroke-width="0.9" stroke-dasharray="2.3,1.3"/>
<line x1="69.11" y1="442.00" x2="69.11" y2="453.00" stroke="#888888" stroke-width="0.9" stroke-dasharray="2.3,1.3"/>
<line x1="74.20" y1="445.50" x2="74.20" y2="456.50" stroke="#888888" stroke-width="0.9" stroke-dasharray="2.3,1.3"/>
<line x1="79.29" y1="446.90" x2="79.29" y2="457.90" stroke="#888888" stroke-width="0.9" stroke-dasharray="2.3,1.3"/>
<line x1="84.38" y1="441.60" x2="84.38" y2="452.60" stroke="#888888" stroke-width="0.9" stroke-dasharray="2.3,1.3"/>
<line x1="89.47" y1="451.60" x2="89.47" y2="462.60" stroke="#888888" stroke-width="0.9" stroke-dasharray="2.3,1.3"/>
<line x1="94.56" y1="451.60" x2="94.56" y2="462.60" stroke="#888888" stroke-width="0.9" stroke-dasharray="2.3,1.3"/>
<line x1="99.65" y1="453.00" x2="99.65" y2="464.00" stroke="#888888" stroke-width="0.9" stroke-dasharray="2.3,1.3"/>
<line x1="104.74" y1="455.70" x2="104.74" y2="466.70" stroke="#888888" stroke-width="0.9" stroke-dasharray="2.3,1.3"/>
<line x1="109.83" y1="455.10" x2="109.83" y2="466.10" stroke="#888888" stroke-width="0.9" stroke-dasharray="2.3,1.3"/>
<line x1="114.92" y1="452.10" x2="114.92" y2="463.10" stroke="#888888" stroke-width="0.9" stroke-dasharray="2.3,1.3"/>
<line x1="120.01" y1="453.40" x2="120.01" y2="464.40" stroke="#888888" stroke-width="0.9" stroke-dasharray="2.3,1.3"/>
<line x1="125.10" y1="456.90" x2="125.10" y2="467.90" stroke="#888888" stroke-width="0.9" stroke-dasharray="2.3,1.3"/>
<line x1="130.19" y1="453.40" x2="130.19" y2="464.40" stroke="#888888" stroke-width="0.9" stroke-dasharray="2.3,1.3"/>
<line x1="135.28" y1="460.40" x2="135.28" y2="471.40" stroke="#888888" stroke-width="0.9" stroke-dasharray="2.3,1.3"/>
<line x1="140.37" y1="455.10" x2="140.37" y2="466.10" stroke="#888888" stroke-width="0.9" stroke-dasharray="2.3,1.3"/>
<line x1="23.30" y1="476.20" x2="23.30" y2="481.20" stroke="#888888" stroke-width="0.9" stroke-dasharray="2.3,1.3"/>
<line x1="28.39" y1="473.90" x2="28.39" y2="478.90" stroke="#888888" stroke-width="0.9" stroke-dasharray="2.3,1.3"/>
<line x1="33.48" y1="473.10" x2="33.48" y2="478.10" stroke="#888888" stroke-width="0.9" stroke-dasharray="2.3,1.3"/>
<line x1="38.57" y1="470.40" x2="38.57" y2="475.40" stroke="#888888" stroke-width="0.9" stroke-dasharray="2.3,1.3"/>
<line x1="43.66" y1="469.60" x2="43.66" y2="474.60" stroke="#888888" stroke-width="0.9" stroke-dasharray="2.3,1.3"/>
<line x1="48.75" y1="469.20" x2="48.75" y2="474.20" stroke="#888888" stroke-width="0.9" stroke-dasharray="2.3,1.3"/>
<line x1="53.84" y1="468.30" x2="53.84" y2="473.30" stroke="#888888" stroke-width="0.9" stroke-dasharray="2.3,1.3"/>
<line x1="58.93" y1="471.00" x2="58.93" y2="476.00" stroke="#888888" stroke-width="0.9" stroke-dasharray="2.3,1.3"/>
<line x1="64.02" y1="473.90" x2="64.02" y2="478.90" stroke="#888888" stroke-width="0.9" stroke-dasharray="2.3,1.3"/>
<line x1="69.11" y1="475.40" x2="69.11" y2="480.40" stroke="#888888" stroke-width="0.9" stroke-dasharray="2.3,1.3"/>
<line x1="74.20" y1="476.20" x2="74.20" y2="481.20" stroke="#888888" stroke-width="0.9" stroke-dasharray="2.3,1.3"/>
<line x1="79.29" y1="476.90" x2="79.29" y2="481.90" stroke="#888888" stroke-width="0.9" stroke-dasharray="2.3,1.3"/>
<line x1="84.38" y1="478.00" x2="84.38" y2="483.00" stroke="#888888" stroke-width="0.9" stroke-dasharray="2.3,1.3"/>
<line x1="89.47" y1="478.70" x2="89.47" y2="483.70" stroke="#888888" stroke-width="0.9" stroke-dasharray="2.3,1.3"/>
<line x1="94.56" y1="478.00" x2="94.56" y2="483.00" stroke="#888888" stroke-width="0.9" stroke-dasharray="2.3,1.3"/>
<line x1="99.65" y1="478.70" x2="99.65" y2="483.70" stroke="#888888" stroke-width="0.9" stroke-dasharray="2.3,1.3"/>
<line x1="104.74" y1="478.90" x2="104.74" y2="483.90" stroke="#888888" stroke-width="0.9" stroke-dasharray="2.3,1.3"/>
<line x1="109.83" y1="478.30" x2="109.83" y2="483.30" stroke="#888888" stroke-width="0.9" stroke-dasharray="2.3,1.3"/>
<line x1="114.92" y1="477.50" x2="114.92" y2="482.50" stroke="#888888" stroke-width="0.9" stroke-dasharray="2.3,1.3"/>
<line x1="120.01" y1="476.60" x2="120.01" y2="481.60" stroke="#888888" stroke-width="0.9" stroke-dasharray="2.3,1.3"/>
<line x1="125.10" y1="477.50" x2="125.10" y2="482.50" stroke="#888888" stroke-width="0.9" stroke-dasharray="2.3,1.3"/>
<line x1="130.19" y1="477.10" x2="130.19" y2="482.10" stroke="#888888" stroke-width="0.9" stroke-dasharray="2.3,1.3"/>
<line x1="135.28" y1="477.10" x2="135.28" y2="482.10" stroke="#888888" stroke-width="0.9" stroke-dasharray="2.3,1.3"/>
<line x1="140.37" y1="476.20" x2="140.37" y2="481.20" stroke="#888888" stroke-width="0.9" stroke-dasharray="2.3,1.3"/>
<line x1="23.30" y1="468.60" x2="23.30" y2="473.00" stroke="#888888" stroke-width="0.9" stroke-dasharray="2.3,1.3"/>
<line x1="28.39" y1="473.00" x2="28.39" y2="477.40" stroke="#888888" stroke-width="0.9" stroke-dasharray="2.3,1.3"/>
<line x1="33.48" y1="474.80" x2="33.48" y2="479.20" stroke="#888888" stroke-width="0.9" stroke-dasharray="2.3,1.3"/>
<line x1="38.57" y1="477.20" x2="38.57" y2="481.60" stroke="#888888" stroke-width="0.9" stroke-dasharray="2.3,1.3"/>
<line x1="43.66" y1="479.00" x2="43.66" y2="483.40" stroke="#888888" stroke-width="0.9" stroke-dasharray="2.3,1.3"/>
<line x1="48.75" y1="479.90" x2="48.75" y2="484.30" stroke="#888888" stroke-width="0.9" stroke-dasharray="2.3,1.3"/>
<line x1="53.84" y1="479.50" x2="53.84" y2="483.90" stroke="#888888" stroke-width="0.9" stroke-dasharray="2.3,1.3"/>
<line x1="58.93" y1="477.20" x2="58.93" y2="481.60" stroke="#888888" stroke-width="0.9" stroke-dasharray="2.3,1.3"/>
<line x1="64.02" y1="470.40" x2="64.02" y2="474.80" stroke="#888888" stroke-width="0.9" stroke-dasharray="2.3,1.3"/>
<line x1="69.11" y1="471.30" x2="69.11" y2="475.70" stroke="#888888" stroke-width="0.9" stroke-dasharray="2.3,1.3"/>
<line x1="74.20" y1="472.50" x2="74.20" y2="476.90" stroke="#888888" stroke-width="0.9" stroke-dasharray="2.3,1.3"/>
<line x1="79.29" y1="471.60" x2="79.29" y2="476.00" stroke="#888888" stroke-width="0.9" stroke-dasharray="2.3,1.3"/>
<line x1="84.38" y1="474.20" x2="84.38" y2="478.60" stroke="#888888" stroke-width="0.9" stroke-dasharray="2.3,1.3"/>
<line x1="89.47" y1="473.70" x2="89.47" y2="478.10" stroke="#888888" stroke-width="0.9" stroke-dasharray="2.3,1.3"/>
<line x1="94.56" y1="473.90" x2="94.56" y2="478.30" stroke="#888888" stroke-width="0.9" stroke-dasharray="2.3,1.3"/>
<line x1="99.65" y1="474.20" x2="99.65" y2="478.60" stroke="#888888" stroke-width="0.9" stroke-dasharray="2.3,1.3"/>
<line x1="104.74" y1="473.70" x2="104.74" y2="478.10" stroke="#888888" stroke-width="0.9" stroke-dasharray="2.3,1.3"/>
<line x1="109.83" y1="472.50" x2="109.83" y2="476.90" stroke="#888888" stroke-width="0.9" stroke-dasharray="2.3,1.3"/>
<line x1="114.92" y1="472.10" x2="114.92" y2="476.50" stroke="#888888" stroke-width="0.9" stroke-dasharray="2.3,1.3"/>
<line x1="120.01" y1="467.20" x2="120.01" y2="475.20" stroke="#888888" stroke-width="0.9" stroke-dasharray="2.3,1.3"/>
<line x1="125.10" y1="466.30" x2="125.10" y2="474.30" stroke="#888888" stroke-width="0.9" stroke-dasharray="2.3,1.3"/>
<line x1="130.19" y1="457.50" x2="130.19" y2="465.50" stroke="#888888" stroke-width="0.9" stroke-dasharray="2.3,1.3"/>
<line x1="135.28" y1="458.90" x2="135.28" y2="466.90" stroke="#888888" stroke-width="0.9" stroke-dasharray="2.3,1.3"/>
<line x1="140.37" y1="460.10" x2="140.37" y2="468.10" stroke="#888888" stroke-width="0.9" stroke-dasharray="2.3,1.3"/>
<polyline points="23.30,237.10 28.39,235.30 33.48,242.60 38.57,247.40 43.66,252.80 48.75,259.90 53.84,264.50 58.93,254.20 64.02,249.10 69.11,240.50 74.20,235.70 79.29,236.40 84.38,236.70 89.47,227.10 94.56,227.50 99.65,226.20 104.74,224.80 109.83,226.20 114.92,228.90 120.01,230.30 125.10,229.60 130.19,241.20 135.28,233.00 140.37,237.10" fill="none" stroke="#12A012" stroke-width="1.35" stroke-linejoin="round" stroke-linecap="round"/>
<polyline points="23.30,251.70 28.39,248.70 33.48,243.30 38.57,240.50 43.66,233.70 48.75,234.40 53.84,237.80 58.93,237.10 64.02,255.30 69.11,259.70 74.20,255.60 79.29,252.80 84.38,242.60 89.47,244.60 94.56,248.70 99.65,239.80 104.74,240.50 109.83,244.60 114.92,247.40 120.01,250.80 125.10,262.70 130.19,274.70 135.28,274.00 140.37,275.40" fill="none" stroke="#000000" stroke-width="1.35" stroke-linejoin="round" stroke-linecap="round"/>
<polyline points="23.30,453.60 28.39,451.00 33.48,441.70 38.57,433.40 43.66,426.40 48.75,418.10 53.84,413.20 58.93,426.40 64.02,439.00 69.11,447.50 74.20,451.00 79.29,452.40 84.38,447.10 89.47,457.10 94.56,457.10 99.65,458.50 104.74,461.20 109.83,460.60 114.92,457.60 120.01,458.90 125.10,462.40 130.19,458.90 135.28,465.90 140.37,460.60" fill="none" stroke="#1E90FF" stroke-width="1.35" stroke-linejoin="round" stroke-linecap="round"/>
<polyline points="23.30,478.70 28.39,476.40 33.48,475.60 38.57,472.90 43.66,472.10 48.75,471.70 53.84,470.80 58.93,473.50 64.02,476.40 69.11,477.90 74.20,478.70 79.29,479.40 84.38,480.50 89.47,481.20 94.56,480.50 99.65,481.20 104.74,481.40 109.83,480.80 114.92,480.00 120.01,479.10 125.10,480.00 130.19,479.60 135.28,479.60 140.37,478.70" fill="none" stroke="#0000FF" stroke-width="1.35" stroke-linejoin="round" stroke-linecap="round"/>
<polyline points="23.30,470.80 28.39,475.20 33.48,477.00 38.57,479.40 43.66,481.20 48.75,482.10 53.84,481.70 58.93,479.40 64.02,472.60 69.11,473.50 74.20,474.70 79.29,473.80 84.38,476.40 89.47,475.90 94.56,476.10 99.65,476.40 104.74,475.90 109.83,474.70 114.92,474.30 120.01,471.20 125.10,470.30 130.19,461.50 135.28,462.90 140.37,464.10" fill="none" stroke="#D40000" stroke-width="1.35" stroke-linejoin="round" stroke-linecap="round"/>
<circle cx="23.30" cy="237.10" r="1.45" fill="#fff" stroke="#12A012" stroke-width="0.45"/>
<circle cx="28.39" cy="235.30" r="1.45" fill="#fff" stroke="#12A012" stroke-width="0.45"/>
<circle cx="33.48" cy="242.60" r="1.45" fill="#fff" stroke="#12A012" stroke-width="0.45"/>
<circle cx="38.57" cy="247.40" r="1.45" fill="#fff" stroke="#12A012" stroke-width="0.45"/>
<circle cx="43.66" cy="252.80" r="1.45" fill="#fff" stroke="#12A012" stroke-width="0.45"/>
<circle cx="48.75" cy="259.90" r="1.45" fill="#fff" stroke="#12A012" stroke-width="0.45"/>
<circle cx="53.84" cy="264.50" r="1.45" fill="#fff" stroke="#12A012" stroke-width="0.45"/>
<circle cx="58.93" cy="254.20" r="1.45" fill="#fff" stroke="#12A012" stroke-width="0.45"/>
<circle cx="64.02" cy="249.10" r="1.45" fill="#fff" stroke="#12A012" stroke-width="0.45"/>
<circle cx="69.11" cy="240.50" r="1.45" fill="#fff" stroke="#12A012" stroke-width="0.45"/>
<circle cx="74.20" cy="235.70" r="1.45" fill="#fff" stroke="#12A012" stroke-width="0.45"/>
<circle cx="79.29" cy="236.40" r="1.45" fill="#fff" stroke="#12A012" stroke-width="0.45"/>
<circle cx="84.38" cy="236.70" r="1.45" fill="#fff" stroke="#12A012" stroke-width="0.45"/>
<circle cx="89.47" cy="227.10" r="1.45" fill="#fff" stroke="#12A012" stroke-width="0.45"/>
<circle cx="94.56" cy="227.50" r="1.45" fill="#fff" stroke="#12A012" stroke-width="0.45"/>
<circle cx="99.65" cy="226.20" r="1.45" fill="#fff" stroke="#12A012" stroke-width="0.45"/>
<circle cx="104.74" cy="224.80" r="1.45" fill="#fff" stroke="#12A012" stroke-width="0.45"/>
<circle cx="109.83" cy="226.20" r="1.45" fill="#fff" stroke="#12A012" stroke-width="0.45"/>
<circle cx="114.92" cy="228.90" r="1.45" fill="#fff" stroke="#12A012" stroke-width="0.45"/>
<circle cx="120.01" cy="230.30" r="1.45" fill="#fff" stroke="#12A012" stroke-width="0.45"/>
<circle cx="125.10" cy="229.60" r="1.45" fill="#fff" stroke="#12A012" stroke-width="0.45"/>
<circle cx="130.19" cy="241.20" r="1.45" fill="#fff" stroke="#12A012" stroke-width="0.45"/>
<circle cx="135.28" cy="233.00" r="1.45" fill="#fff" stroke="#12A012" stroke-width="0.45"/>
<circle cx="140.37" cy="237.10" r="1.45" fill="#fff" stroke="#12A012" stroke-width="0.45"/>
<circle cx="23.30" cy="251.70" r="1.45" fill="#fff" stroke="#000000" stroke-width="0.45"/>
<circle cx="28.39" cy="248.70" r="1.45" fill="#fff" stroke="#000000" stroke-width="0.45"/>
<circle cx="33.48" cy="243.30" r="1.45" fill="#fff" stroke="#000000" stroke-width="0.45"/>
<circle cx="38.57" cy="240.50" r="1.45" fill="#fff" stroke="#000000" stroke-width="0.45"/>
<circle cx="43.66" cy="233.70" r="1.45" fill="#fff" stroke="#000000" stroke-width="0.45"/>
<circle cx="48.75" cy="234.40" r="1.45" fill="#fff" stroke="#000000" stroke-width="0.45"/>
<circle cx="53.84" cy="237.80" r="1.45" fill="#fff" stroke="#000000" stroke-width="0.45"/>
<circle cx="58.93" cy="237.10" r="1.45" fill="#fff" stroke="#000000" stroke-width="0.45"/>
<circle cx="64.02" cy="255.30" r="1.45" fill="#fff" stroke="#000000" stroke-width="0.45"/>
<circle cx="69.11" cy="259.70" r="1.45" fill="#fff" stroke="#000000" stroke-width="0.45"/>
<circle cx="74.20" cy="255.60" r="1.45" fill="#fff" stroke="#000000" stroke-width="0.45"/>
<circle cx="79.29" cy="252.80" r="1.45" fill="#fff" stroke="#000000" stroke-width="0.45"/>
<circle cx="84.38" cy="242.60" r="1.45" fill="#fff" stroke="#000000" stroke-width="0.45"/>
<circle cx="89.47" cy="244.60" r="1.45" fill="#fff" stroke="#000000" stroke-width="0.45"/>
<circle cx="94.56" cy="248.70" r="1.45" fill="#fff" stroke="#000000" stroke-width="0.45"/>
<circle cx="99.65" cy="239.80" r="1.45" fill="#fff" stroke="#000000" stroke-width="0.45"/>
<circle cx="104.74" cy="240.50" r="1.45" fill="#fff" stroke="#000000" stroke-width="0.45"/>
<circle cx="109.83" cy="244.60" r="1.45" fill="#fff" stroke="#000000" stroke-width="0.45"/>
<circle cx="114.92" cy="247.40" r="1.45" fill="#fff" stroke="#000000" stroke-width="0.45"/>
<circle cx="120.01" cy="250.80" r="1.45" fill="#fff" stroke="#000000" stroke-width="0.45"/>
<circle cx="125.10" cy="262.70" r="1.45" fill="#fff" stroke="#000000" stroke-width="0.45"/>
<circle cx="130.19" cy="274.70" r="1.45" fill="#fff" stroke="#000000" stroke-width="0.45"/>
<circle cx="135.28" cy="274.00" r="1.45" fill="#fff" stroke="#000000" stroke-width="0.45"/>
<circle cx="140.37" cy="275.40" r="1.45" fill="#fff" stroke="#000000" stroke-width="0.45"/>
<circle cx="23.30" cy="453.60" r="1.45" fill="#fff" stroke="#1E90FF" stroke-width="0.45"/>
<circle cx="28.39" cy="451.00" r="1.45" fill="#fff" stroke="#1E90FF" stroke-width="0.45"/>
<circle cx="33.48" cy="441.70" r="1.45" fill="#fff" stroke="#1E90FF" stroke-width="0.45"/>
<circle cx="38.57" cy="433.40" r="1.45" fill="#fff" stroke="#1E90FF" stroke-width="0.45"/>
<circle cx="43.66" cy="426.40" r="1.45" fill="#fff" stroke="#1E90FF" stroke-width="0.45"/>
<circle cx="48.75" cy="418.10" r="1.45" fill="#fff" stroke="#1E90FF" stroke-width="0.45"/>
<circle cx="53.84" cy="413.20" r="1.45" fill="#fff" stroke="#1E90FF" stroke-width="0.45"/>
<circle cx="58.93" cy="426.40" r="1.45" fill="#fff" stroke="#1E90FF" stroke-width="0.45"/>
<circle cx="64.02" cy="439.00" r="1.45" fill="#fff" stroke="#1E90FF" stroke-width="0.45"/>
<circle cx="69.11" cy="447.50" r="1.45" fill="#fff" stroke="#1E90FF" stroke-width="0.45"/>
<circle cx="74.20" cy="451.00" r="1.45" fill="#fff" stroke="#1E90FF" stroke-width="0.45"/>
<circle cx="79.29" cy="452.40" r="1.45" fill="#fff" stroke="#1E90FF" stroke-width="0.45"/>
<circle cx="84.38" cy="447.10" r="1.45" fill="#fff" stroke="#1E90FF" stroke-width="0.45"/>
<circle cx="89.47" cy="457.10" r="1.45" fill="#fff" stroke="#1E90FF" stroke-width="0.45"/>
<circle cx="94.56" cy="457.10" r="1.45" fill="#fff" stroke="#1E90FF" stroke-width="0.45"/>
<circle cx="99.65" cy="458.50" r="1.45" fill="#fff" stroke="#1E90FF" stroke-width="0.45"/>
<circle cx="104.74" cy="461.20" r="1.45" fill="#fff" stroke="#1E90FF" stroke-width="0.45"/>
<circle cx="109.83" cy="460.60" r="1.45" fill="#fff" stroke="#1E90FF" stroke-width="0.45"/>
<circle cx="114.92" cy="457.60" r="1.45" fill="#fff" stroke="#1E90FF" stroke-width="0.45"/>
<circle cx="120.01" cy="458.90" r="1.45" fill="#fff" stroke="#1E90FF" stroke-width="0.45"/>
<circle cx="125.10" cy="462.40" r="1.45" fill="#fff" stroke="#1E90FF" stroke-width="0.45"/>
<circle cx="130.19" cy="458.90" r="1.45" fill="#fff" stroke="#1E90FF" stroke-width="0.45"/>
<circle cx="135.28" cy="465.90" r="1.45" fill="#fff" stroke="#1E90FF" stroke-width="0.45"/>
<circle cx="140.37" cy="460.60" r="1.45" fill="#fff" stroke="#1E90FF" stroke-width="0.45"/>
<circle cx="23.30" cy="478.70" r="1.45" fill="#fff" stroke="#0000FF" stroke-width="0.45"/>
<circle cx="28.39" cy="476.40" r="1.45" fill="#fff" stroke="#0000FF" stroke-width="0.45"/>
<circle cx="33.48" cy="475.60" r="1.45" fill="#fff" stroke="#0000FF" stroke-width="0.45"/>
<circle cx="38.57" cy="472.90" r="1.45" fill="#fff" stroke="#0000FF" stroke-width="0.45"/>
<circle cx="43.66" cy="472.10" r="1.45" fill="#fff" stroke="#0000FF" stroke-width="0.45"/>
<circle cx="48.75" cy="471.70" r="1.45" fill="#fff" stroke="#0000FF" stroke-width="0.45"/>
<circle cx="53.84" cy="470.80" r="1.45" fill="#fff" stroke="#0000FF" stroke-width="0.45"/>
<circle cx="58.93" cy="473.50" r="1.45" fill="#fff" stroke="#0000FF" stroke-width="0.45"/>
<circle cx="64.02" cy="476.40" r="1.45" fill="#fff" stroke="#0000FF" stroke-width="0.45"/>
<circle cx="69.11" cy="477.90" r="1.45" fill="#fff" stroke="#0000FF" stroke-width="0.45"/>
<circle cx="74.20" cy="478.70" r="1.45" fill="#fff" stroke="#0000FF" stroke-width="0.45"/>
<circle cx="79.29" cy="479.40" r="1.45" fill="#fff" stroke="#0000FF" stroke-width="0.45"/>
<circle cx="84.38" cy="480.50" r="1.45" fill="#fff" stroke="#0000FF" stroke-width="0.45"/>
<circle cx="89.47" cy="481.20" r="1.45" fill="#fff" stroke="#0000FF" stroke-width="0.45"/>
<circle cx="94.56" cy="480.50" r="1.45" fill="#fff" stroke="#0000FF" stroke-width="0.45"/>
<circle cx="99.65" cy="481.20" r="1.45" fill="#fff" stroke="#0000FF" stroke-width="0.45"/>
<circle cx="104.74" cy="481.40" r="1.45" fill="#fff" stroke="#0000FF" stroke-width="0.45"/>
<circle cx="109.83" cy="480.80" r="1.45" fill="#fff" stroke="#0000FF" stroke-width="0.45"/>
<circle cx="114.92" cy="480.00" r="1.45" fill="#fff" stroke="#0000FF" stroke-width="0.45"/>
<circle cx="120.01" cy="479.10" r="1.45" fill="#fff" stroke="#0000FF" stroke-width="0.45"/>
<circle cx="125.10" cy="480.00" r="1.45" fill="#fff" stroke="#0000FF" stroke-width="0.45"/>
<circle cx="130.19" cy="479.60" r="1.45" fill="#fff" stroke="#0000FF" stroke-width="0.45"/>
<circle cx="135.28" cy="479.60" r="1.45" fill="#fff" stroke="#0000FF" stroke-width="0.45"/>
<circle cx="140.37" cy="478.70" r="1.45" fill="#fff" stroke="#0000FF" stroke-width="0.45"/>
<circle cx="23.30" cy="470.80" r="1.45" fill="#fff" stroke="#D40000" stroke-width="0.45"/>
<circle cx="28.39" cy="475.20" r="1.45" fill="#fff" stroke="#D40000" stroke-width="0.45"/>
<circle cx="33.48" cy="477.00" r="1.45" fill="#fff" stroke="#D40000" stroke-width="0.45"/>
<circle cx="38.57" cy="479.40" r="1.45" fill="#fff" stroke="#D40000" stroke-width="0.45"/>
<circle cx="43.66" cy="481.20" r="1.45" fill="#fff" stroke="#D40000" stroke-width="0.45"/>
<circle cx="48.75" cy="482.10" r="1.45" fill="#fff" stroke="#D40000" stroke-width="0.45"/>
<circle cx="53.84" cy="481.70" r="1.45" fill="#fff" stroke="#D40000" stroke-width="0.45"/>
<circle cx="58.93" cy="479.40" r="1.45" fill="#fff" stroke="#D40000" stroke-width="0.45"/>
<circle cx="64.02" cy="472.60" r="1.45" fill="#fff" stroke="#D40000" stroke-width="0.45"/>
<circle cx="69.11" cy="473.50" r="1.45" fill="#fff" stroke="#D40000" stroke-width="0.45"/>
<circle cx="74.20" cy="474.70" r="1.45" fill="#fff" stroke="#D40000" stroke-width="0.45"/>
<circle cx="79.29" cy="473.80" r="1.45" fill="#fff" stroke="#D40000" stroke-width="0.45"/>
<circle cx="84.38" cy="476.40" r="1.45" fill="#fff" stroke="#D40000" stroke-width="0.45"/>
<circle cx="89.47" cy="475.90" r="1.45" fill="#fff" stroke="#D40000" stroke-width="0.45"/>
<circle cx="94.56" cy="476.10" r="1.45" fill="#fff" stroke="#D40000" stroke-width="0.45"/>
<circle cx="99.65" cy="476.40" r="1.45" fill="#fff" stroke="#D40000" stroke-width="0.45"/>
<circle cx="104.74" cy="475.90" r="1.45" fill="#fff" stroke="#D40000" stroke-width="0.45"/>
<circle cx="109.83" cy="474.70" r="1.45" fill="#fff" stroke="#D40000" stroke-width="0.45"/>
<circle cx="114.92" cy="474.30" r="1.45" fill="#fff" stroke="#D40000" stroke-width="0.45"/>
<circle cx="120.01" cy="471.20" r="1.45" fill="#fff" stroke="#D40000" stroke-width="0.45"/>
<circle cx="125.10" cy="470.30" r="1.45" fill="#fff" stroke="#D40000" stroke-width="0.45"/>
<circle cx="130.19" cy="461.50" r="1.45" fill="#fff" stroke="#D40000" stroke-width="0.45"/>
<circle cx="135.28" cy="462.90" r="1.45" fill="#fff" stroke="#D40000" stroke-width="0.45"/>
<circle cx="140.37" cy="464.10" r="1.45" fill="#fff" stroke="#D40000" stroke-width="0.45"/>
<line x1="145.20" y1="495.30" x2="268.75" y2="495.30" stroke="#7a7a7a" stroke-width="0.9"/>
<line x1="148.40" y1="495.30" x2="148.40" y2="496.90" stroke="#7a7a7a" stroke-width="0.7"/>
<line x1="153.49" y1="495.30" x2="153.49" y2="496.90" stroke="#7a7a7a" stroke-width="0.7"/>
<line x1="158.58" y1="495.30" x2="158.58" y2="496.90" stroke="#7a7a7a" stroke-width="0.7"/>
<line x1="163.67" y1="495.30" x2="163.67" y2="496.90" stroke="#7a7a7a" stroke-width="0.7"/>
<line x1="168.76" y1="495.30" x2="168.76" y2="496.90" stroke="#7a7a7a" stroke-width="0.7"/>
<line x1="173.85" y1="495.30" x2="173.85" y2="496.90" stroke="#7a7a7a" stroke-width="0.7"/>
<line x1="178.94" y1="495.30" x2="178.94" y2="496.90" stroke="#7a7a7a" stroke-width="0.7"/>
<line x1="184.03" y1="495.30" x2="184.03" y2="496.90" stroke="#7a7a7a" stroke-width="0.7"/>
<line x1="189.12" y1="495.30" x2="189.12" y2="496.90" stroke="#7a7a7a" stroke-width="0.7"/>
<line x1="194.21" y1="495.30" x2="194.21" y2="496.90" stroke="#7a7a7a" stroke-width="0.7"/>
<line x1="199.30" y1="495.30" x2="199.30" y2="496.90" stroke="#7a7a7a" stroke-width="0.7"/>
<line x1="204.39" y1="495.30" x2="204.39" y2="496.90" stroke="#7a7a7a" stroke-width="0.7"/>
<line x1="209.48" y1="495.30" x2="209.48" y2="496.90" stroke="#7a7a7a" stroke-width="0.7"/>
<line x1="214.57" y1="495.30" x2="214.57" y2="496.90" stroke="#7a7a7a" stroke-width="0.7"/>
<line x1="219.66" y1="495.30" x2="219.66" y2="496.90" stroke="#7a7a7a" stroke-width="0.7"/>
<line x1="224.75" y1="495.30" x2="224.75" y2="496.90" stroke="#7a7a7a" stroke-width="0.7"/>
<line x1="229.84" y1="495.30" x2="229.84" y2="496.90" stroke="#7a7a7a" stroke-width="0.7"/>
<line x1="234.93" y1="495.30" x2="234.93" y2="496.90" stroke="#7a7a7a" stroke-width="0.7"/>
<line x1="240.02" y1="495.30" x2="240.02" y2="496.90" stroke="#7a7a7a" stroke-width="0.7"/>
<line x1="245.11" y1="495.30" x2="245.11" y2="496.90" stroke="#7a7a7a" stroke-width="0.7"/>
<line x1="250.20" y1="495.30" x2="250.20" y2="496.90" stroke="#7a7a7a" stroke-width="0.7"/>
<line x1="255.29" y1="495.30" x2="255.29" y2="496.90" stroke="#7a7a7a" stroke-width="0.7"/>
<line x1="260.38" y1="495.30" x2="260.38" y2="496.90" stroke="#7a7a7a" stroke-width="0.7"/>
<line x1="265.47" y1="495.30" x2="265.47" y2="496.90" stroke="#7a7a7a" stroke-width="0.7"/>
<text x="151.8" y="500.4" font-size="6.1" text-anchor="end" fill="#222" transform="rotate(-45 151.8 500.4)">12PM</text>
<text x="182.34" y="500.4" font-size="6.1" text-anchor="end" fill="#222" transform="rotate(-45 182.34 500.4)">6AM</text>
<text x="212.88000000000002" y="500.4" font-size="6.1" text-anchor="end" fill="#222" transform="rotate(-45 212.88000000000002 500.4)">12AM</text>
<text x="243.42000000000002" y="500.4" font-size="6.1" text-anchor="end" fill="#222" transform="rotate(-45 243.42000000000002 500.4)">6PM</text>
<text x="207.125" y="204.6" font-size="7.6" text-anchor="middle" font-weight="bold" fill="#7CAE00">Group 2</text>
<line x1="148.40" y1="266.60" x2="148.40" y2="281.60" stroke="#888888" stroke-width="0.9" stroke-dasharray="2.3,1.3"/>
<line x1="153.49" y1="255.70" x2="153.49" y2="270.70" stroke="#888888" stroke-width="0.9" stroke-dasharray="2.3,1.3"/>
<line x1="158.58" y1="245.80" x2="158.58" y2="260.80" stroke="#888888" stroke-width="0.9" stroke-dasharray="2.3,1.3"/>
<line x1="163.67" y1="237.30" x2="163.67" y2="252.30" stroke="#888888" stroke-width="0.9" stroke-dasharray="2.3,1.3"/>
<line x1="168.76" y1="232.10" x2="168.76" y2="247.10" stroke="#888888" stroke-width="0.9" stroke-dasharray="2.3,1.3"/>
<line x1="173.85" y1="222.30" x2="173.85" y2="237.30" stroke="#888888" stroke-width="0.9" stroke-dasharray="2.3,1.3"/>
<line x1="178.94" y1="218.90" x2="178.94" y2="233.90" stroke="#888888" stroke-width="0.9" stroke-dasharray="2.3,1.3"/>
<line x1="184.03" y1="220.90" x2="184.03" y2="235.90" stroke="#888888" stroke-width="0.9" stroke-dasharray="2.3,1.3"/>
<line x1="189.12" y1="243.80" x2="189.12" y2="258.80" stroke="#888888" stroke-width="0.9" stroke-dasharray="2.3,1.3"/>
<line x1="194.21" y1="250.20" x2="194.21" y2="265.20" stroke="#888888" stroke-width="0.9" stroke-dasharray="2.3,1.3"/>
<line x1="199.30" y1="243.80" x2="199.30" y2="258.80" stroke="#888888" stroke-width="0.9" stroke-dasharray="2.3,1.3"/>
<line x1="204.39" y1="250.20" x2="204.39" y2="265.20" stroke="#888888" stroke-width="0.9" stroke-dasharray="2.3,1.3"/>
<line x1="209.48" y1="252.50" x2="209.48" y2="267.50" stroke="#888888" stroke-width="0.9" stroke-dasharray="2.3,1.3"/>
<line x1="214.57" y1="254.00" x2="214.57" y2="269.00" stroke="#888888" stroke-width="0.9" stroke-dasharray="2.3,1.3"/>
<line x1="219.66" y1="254.00" x2="219.66" y2="269.00" stroke="#888888" stroke-width="0.9" stroke-dasharray="2.3,1.3"/>
<line x1="224.75" y1="253.75" x2="224.75" y2="268.75" stroke="#888888" stroke-width="0.9" stroke-dasharray="2.3,1.3"/>
<line x1="229.84" y1="251.00" x2="229.84" y2="266.00" stroke="#888888" stroke-width="0.9" stroke-dasharray="2.3,1.3"/>
<line x1="234.93" y1="251.50" x2="234.93" y2="266.50" stroke="#888888" stroke-width="0.9" stroke-dasharray="2.3,1.3"/>
<line x1="240.02" y1="255.60" x2="240.02" y2="270.60" stroke="#888888" stroke-width="0.9" stroke-dasharray="2.3,1.3"/>
<line x1="245.11" y1="264.00" x2="245.11" y2="279.00" stroke="#888888" stroke-width="0.9" stroke-dasharray="2.3,1.3"/>
<line x1="250.20" y1="264.40" x2="250.20" y2="279.40" stroke="#888888" stroke-width="0.9" stroke-dasharray="2.3,1.3"/>
<line x1="255.29" y1="266.00" x2="255.29" y2="281.00" stroke="#888888" stroke-width="0.9" stroke-dasharray="2.3,1.3"/>
<line x1="260.38" y1="266.00" x2="260.38" y2="281.00" stroke="#888888" stroke-width="0.9" stroke-dasharray="2.3,1.3"/>
<line x1="265.47" y1="274.75" x2="265.47" y2="289.75" stroke="#888888" stroke-width="0.9" stroke-dasharray="2.3,1.3"/>
<line x1="148.40" y1="328.90" x2="148.40" y2="343.90" stroke="#888888" stroke-width="0.9" stroke-dasharray="2.3,1.3"/>
<line x1="153.49" y1="311.50" x2="153.49" y2="326.50" stroke="#888888" stroke-width="0.9" stroke-dasharray="2.3,1.3"/>
<line x1="158.58" y1="292.90" x2="158.58" y2="307.90" stroke="#888888" stroke-width="0.9" stroke-dasharray="2.3,1.3"/>
<line x1="163.67" y1="279.90" x2="163.67" y2="294.90" stroke="#888888" stroke-width="0.9" stroke-dasharray="2.3,1.3"/>
<line x1="168.76" y1="270.00" x2="168.76" y2="285.00" stroke="#888888" stroke-width="0.9" stroke-dasharray="2.3,1.3"/>
<line x1="173.85" y1="263.30" x2="173.85" y2="278.30" stroke="#888888" stroke-width="0.9" stroke-dasharray="2.3,1.3"/>
<line x1="178.94" y1="262.50" x2="178.94" y2="277.50" stroke="#888888" stroke-width="0.9" stroke-dasharray="2.3,1.3"/>
<line x1="184.03" y1="273.60" x2="184.03" y2="288.60" stroke="#888888" stroke-width="0.9" stroke-dasharray="2.3,1.3"/>
<line x1="189.12" y1="308.20" x2="189.12" y2="323.20" stroke="#888888" stroke-width="0.9" stroke-dasharray="2.3,1.3"/>
<line x1="194.21" y1="315.60" x2="194.21" y2="330.60" stroke="#888888" stroke-width="0.9" stroke-dasharray="2.3,1.3"/>
<line x1="199.30" y1="309.00" x2="199.30" y2="324.00" stroke="#888888" stroke-width="0.9" stroke-dasharray="2.3,1.3"/>
<line x1="204.39" y1="318.10" x2="204.39" y2="333.10" stroke="#888888" stroke-width="0.9" stroke-dasharray="2.3,1.3"/>
<line x1="209.48" y1="303.50" x2="209.48" y2="318.50" stroke="#888888" stroke-width="0.9" stroke-dasharray="2.3,1.3"/>
<line x1="214.57" y1="314.00" x2="214.57" y2="329.00" stroke="#888888" stroke-width="0.9" stroke-dasharray="2.3,1.3"/>
<line x1="219.66" y1="312.90" x2="219.66" y2="327.90" stroke="#888888" stroke-width="0.9" stroke-dasharray="2.3,1.3"/>
<line x1="224.75" y1="309.80" x2="224.75" y2="324.80" stroke="#888888" stroke-width="0.9" stroke-dasharray="2.3,1.3"/>
<line x1="229.84" y1="311.00" x2="229.84" y2="326.00" stroke="#888888" stroke-width="0.9" stroke-dasharray="2.3,1.3"/>
<line x1="234.93" y1="310.50" x2="234.93" y2="325.50" stroke="#888888" stroke-width="0.9" stroke-dasharray="2.3,1.3"/>
<line x1="240.02" y1="310.10" x2="240.02" y2="325.10" stroke="#888888" stroke-width="0.9" stroke-dasharray="2.3,1.3"/>
<line x1="245.11" y1="321.10" x2="245.11" y2="336.10" stroke="#888888" stroke-width="0.9" stroke-dasharray="2.3,1.3"/>
<line x1="250.20" y1="323.00" x2="250.20" y2="338.00" stroke="#888888" stroke-width="0.9" stroke-dasharray="2.3,1.3"/>
<line x1="255.29" y1="325.10" x2="255.29" y2="340.10" stroke="#888888" stroke-width="0.9" stroke-dasharray="2.3,1.3"/>
<line x1="260.38" y1="329.30" x2="260.38" y2="344.30" stroke="#888888" stroke-width="0.9" stroke-dasharray="2.3,1.3"/>
<line x1="265.47" y1="337.50" x2="265.47" y2="352.50" stroke="#888888" stroke-width="0.9" stroke-dasharray="2.3,1.3"/>
<line x1="148.40" y1="406.90" x2="148.40" y2="421.90" stroke="#888888" stroke-width="0.9" stroke-dasharray="2.3,1.3"/>
<line x1="153.49" y1="419.40" x2="153.49" y2="434.40" stroke="#888888" stroke-width="0.9" stroke-dasharray="2.3,1.3"/>
<line x1="158.58" y1="427.60" x2="158.58" y2="442.60" stroke="#888888" stroke-width="0.9" stroke-dasharray="2.3,1.3"/>
<line x1="163.67" y1="436.10" x2="163.67" y2="451.10" stroke="#888888" stroke-width="0.9" stroke-dasharray="2.3,1.3"/>
<line x1="168.76" y1="440.80" x2="168.76" y2="455.80" stroke="#888888" stroke-width="0.9" stroke-dasharray="2.3,1.3"/>
<line x1="173.85" y1="450.10" x2="173.85" y2="465.10" stroke="#888888" stroke-width="0.9" stroke-dasharray="2.3,1.3"/>
<line x1="178.94" y1="453.10" x2="178.94" y2="468.10" stroke="#888888" stroke-width="0.9" stroke-dasharray="2.3,1.3"/>
<line x1="184.03" y1="451.40" x2="184.03" y2="466.40" stroke="#888888" stroke-width="0.9" stroke-dasharray="2.3,1.3"/>
<line x1="189.12" y1="427.10" x2="189.12" y2="442.10" stroke="#888888" stroke-width="0.9" stroke-dasharray="2.3,1.3"/>
<line x1="194.21" y1="420.30" x2="194.21" y2="435.30" stroke="#888888" stroke-width="0.9" stroke-dasharray="2.3,1.3"/>
<line x1="199.30" y1="427.10" x2="199.30" y2="442.10" stroke="#888888" stroke-width="0.9" stroke-dasharray="2.3,1.3"/>
<line x1="204.39" y1="423.80" x2="204.39" y2="438.80" stroke="#888888" stroke-width="0.9" stroke-dasharray="2.3,1.3"/>
<line x1="209.48" y1="424.10" x2="209.48" y2="439.10" stroke="#888888" stroke-width="0.9" stroke-dasharray="2.3,1.3"/>
<line x1="214.57" y1="422.00" x2="214.57" y2="437.00" stroke="#888888" stroke-width="0.9" stroke-dasharray="2.3,1.3"/>
<line x1="219.66" y1="420.30" x2="219.66" y2="435.30" stroke="#888888" stroke-width="0.9" stroke-dasharray="2.3,1.3"/>
<line x1="224.75" y1="420.10" x2="224.75" y2="435.10" stroke="#888888" stroke-width="0.9" stroke-dasharray="2.3,1.3"/>
<line x1="229.84" y1="422.70" x2="229.84" y2="437.70" stroke="#888888" stroke-width="0.9" stroke-dasharray="2.3,1.3"/>
<line x1="234.93" y1="420.60" x2="234.93" y2="435.60" stroke="#888888" stroke-width="0.9" stroke-dasharray="2.3,1.3"/>
<line x1="240.02" y1="416.20" x2="240.02" y2="431.20" stroke="#888888" stroke-width="0.9" stroke-dasharray="2.3,1.3"/>
<line x1="245.11" y1="410.10" x2="245.11" y2="425.10" stroke="#888888" stroke-width="0.9" stroke-dasharray="2.3,1.3"/>
<line x1="250.20" y1="409.20" x2="250.20" y2="424.20" stroke="#888888" stroke-width="0.9" stroke-dasharray="2.3,1.3"/>
<line x1="255.29" y1="408.30" x2="255.29" y2="423.30" stroke="#888888" stroke-width="0.9" stroke-dasharray="2.3,1.3"/>
<line x1="260.38" y1="405.70" x2="260.38" y2="420.70" stroke="#888888" stroke-width="0.9" stroke-dasharray="2.3,1.3"/>
<line x1="265.47" y1="399.90" x2="265.47" y2="414.90" stroke="#888888" stroke-width="0.9" stroke-dasharray="2.3,1.3"/>
<line x1="148.40" y1="471.00" x2="148.40" y2="476.60" stroke="#888888" stroke-width="0.9" stroke-dasharray="2.3,1.3"/>
<line x1="153.49" y1="469.30" x2="153.49" y2="474.90" stroke="#888888" stroke-width="0.9" stroke-dasharray="2.3,1.3"/>
<line x1="158.58" y1="471.00" x2="158.58" y2="476.60" stroke="#888888" stroke-width="0.9" stroke-dasharray="2.3,1.3"/>
<line x1="163.67" y1="471.00" x2="163.67" y2="476.60" stroke="#888888" stroke-width="0.9" stroke-dasharray="2.3,1.3"/>
<line x1="168.76" y1="471.40" x2="168.76" y2="477.00" stroke="#888888" stroke-width="0.9" stroke-dasharray="2.3,1.3"/>
<line x1="173.85" y1="472.40" x2="173.85" y2="478.00" stroke="#888888" stroke-width="0.9" stroke-dasharray="2.3,1.3"/>
<line x1="178.94" y1="473.10" x2="178.94" y2="478.70" stroke="#888888" stroke-width="0.9" stroke-dasharray="2.3,1.3"/>
<line x1="184.03" y1="473.60" x2="184.03" y2="479.20" stroke="#888888" stroke-width="0.9" stroke-dasharray="2.3,1.3"/>
<line x1="189.12" y1="474.90" x2="189.12" y2="480.50" stroke="#888888" stroke-width="0.9" stroke-dasharray="2.3,1.3"/>
<line x1="194.21" y1="473.60" x2="194.21" y2="479.20" stroke="#888888" stroke-width="0.9" stroke-dasharray="2.3,1.3"/>
<line x1="199.30" y1="472.80" x2="199.30" y2="478.40" stroke="#888888" stroke-width="0.9" stroke-dasharray="2.3,1.3"/>
<line x1="204.39" y1="470.10" x2="204.39" y2="475.70" stroke="#888888" stroke-width="0.9" stroke-dasharray="2.3,1.3"/>
<line x1="209.48" y1="467.20" x2="209.48" y2="472.80" stroke="#888888" stroke-width="0.9" stroke-dasharray="2.3,1.3"/>
<line x1="214.57" y1="466.60" x2="214.57" y2="472.20" stroke="#888888" stroke-width="0.9" stroke-dasharray="2.3,1.3"/>
<line x1="219.66" y1="470.10" x2="219.66" y2="475.70" stroke="#888888" stroke-width="0.9" stroke-dasharray="2.3,1.3"/>
<line x1="224.75" y1="469.80" x2="224.75" y2="475.40" stroke="#888888" stroke-width="0.9" stroke-dasharray="2.3,1.3"/>
<line x1="229.84" y1="471.00" x2="229.84" y2="476.60" stroke="#888888" stroke-width="0.9" stroke-dasharray="2.3,1.3"/>
<line x1="234.93" y1="470.70" x2="234.93" y2="476.30" stroke="#888888" stroke-width="0.9" stroke-dasharray="2.3,1.3"/>
<line x1="240.02" y1="471.50" x2="240.02" y2="477.10" stroke="#888888" stroke-width="0.9" stroke-dasharray="2.3,1.3"/>
<line x1="245.11" y1="469.30" x2="245.11" y2="474.90" stroke="#888888" stroke-width="0.9" stroke-dasharray="2.3,1.3"/>
<line x1="250.20" y1="471.00" x2="250.20" y2="476.60" stroke="#888888" stroke-width="0.9" stroke-dasharray="2.3,1.3"/>
<line x1="255.29" y1="469.80" x2="255.29" y2="475.40" stroke="#888888" stroke-width="0.9" stroke-dasharray="2.3,1.3"/>
<line x1="260.38" y1="472.80" x2="260.38" y2="478.40" stroke="#888888" stroke-width="0.9" stroke-dasharray="2.3,1.3"/>
<line x1="265.47" y1="470.70" x2="265.47" y2="476.30" stroke="#888888" stroke-width="0.9" stroke-dasharray="2.3,1.3"/>
<line x1="148.40" y1="479.00" x2="148.40" y2="482.00" stroke="#888888" stroke-width="0.9" stroke-dasharray="2.3,1.3"/>
<line x1="153.49" y1="479.90" x2="153.49" y2="482.90" stroke="#888888" stroke-width="0.9" stroke-dasharray="2.3,1.3"/>
<line x1="158.58" y1="480.20" x2="158.58" y2="483.20" stroke="#888888" stroke-width="0.9" stroke-dasharray="2.3,1.3"/>
<line x1="163.67" y1="480.20" x2="163.67" y2="483.20" stroke="#888888" stroke-width="0.9" stroke-dasharray="2.3,1.3"/>
<line x1="168.76" y1="480.20" x2="168.76" y2="483.20" stroke="#888888" stroke-width="0.9" stroke-dasharray="2.3,1.3"/>
<line x1="173.85" y1="480.00" x2="173.85" y2="483.00" stroke="#888888" stroke-width="0.9" stroke-dasharray="2.3,1.3"/>
<line x1="178.94" y1="480.20" x2="178.94" y2="483.20" stroke="#888888" stroke-width="0.9" stroke-dasharray="2.3,1.3"/>
<line x1="184.03" y1="480.20" x2="184.03" y2="483.20" stroke="#888888" stroke-width="0.9" stroke-dasharray="2.3,1.3"/>
<line x1="189.12" y1="480.00" x2="189.12" y2="483.00" stroke="#888888" stroke-width="0.9" stroke-dasharray="2.3,1.3"/>
<line x1="194.21" y1="480.20" x2="194.21" y2="483.20" stroke="#888888" stroke-width="0.9" stroke-dasharray="2.3,1.3"/>
<line x1="199.30" y1="480.20" x2="199.30" y2="483.20" stroke="#888888" stroke-width="0.9" stroke-dasharray="2.3,1.3"/>
<line x1="204.39" y1="480.20" x2="204.39" y2="483.20" stroke="#888888" stroke-width="0.9" stroke-dasharray="2.3,1.3"/>
<line x1="209.48" y1="480.00" x2="209.48" y2="483.00" stroke="#888888" stroke-width="0.9" stroke-dasharray="2.3,1.3"/>
<line x1="214.57" y1="480.20" x2="214.57" y2="483.20" stroke="#888888" stroke-width="0.9" stroke-dasharray="2.3,1.3"/>
<line x1="219.66" y1="480.00" x2="219.66" y2="483.00" stroke="#888888" stroke-width="0.9" stroke-dasharray="2.3,1.3"/>
<line x1="224.75" y1="480.20" x2="224.75" y2="483.20" stroke="#888888" stroke-width="0.9" stroke-dasharray="2.3,1.3"/>
<line x1="229.84" y1="480.00" x2="229.84" y2="483.00" stroke="#888888" stroke-width="0.9" stroke-dasharray="2.3,1.3"/>
<line x1="234.93" y1="480.20" x2="234.93" y2="483.20" stroke="#888888" stroke-width="0.9" stroke-dasharray="2.3,1.3"/>
<line x1="240.02" y1="480.00" x2="240.02" y2="483.00" stroke="#888888" stroke-width="0.9" stroke-dasharray="2.3,1.3"/>
<line x1="245.11" y1="480.00" x2="245.11" y2="483.00" stroke="#888888" stroke-width="0.9" stroke-dasharray="2.3,1.3"/>
<line x1="250.20" y1="480.20" x2="250.20" y2="483.20" stroke="#888888" stroke-width="0.9" stroke-dasharray="2.3,1.3"/>
<line x1="255.29" y1="480.00" x2="255.29" y2="483.00" stroke="#888888" stroke-width="0.9" stroke-dasharray="2.3,1.3"/>
<line x1="260.38" y1="480.20" x2="260.38" y2="483.20" stroke="#888888" stroke-width="0.9" stroke-dasharray="2.3,1.3"/>
<line x1="265.47" y1="479.00" x2="265.47" y2="482.00" stroke="#888888" stroke-width="0.9" stroke-dasharray="2.3,1.3"/>
<polyline points="148.40,274.10 153.49,263.20 158.58,253.30 163.67,244.80 168.76,239.60 173.85,229.80 178.94,226.40 184.03,228.40 189.12,251.30 194.21,257.70 199.30,251.30 204.39,257.70 209.48,260.00 214.57,261.50 219.66,261.50 224.75,261.25 229.84,258.50 234.93,259.00 240.02,263.10 245.11,271.50 250.20,271.90 255.29,273.50 260.38,273.50 265.47,282.25" fill="none" stroke="#12A012" stroke-width="1.35" stroke-linejoin="round" stroke-linecap="round"/>
<polyline points="148.40,336.40 153.49,319.00 158.58,300.40 163.67,287.40 168.76,277.50 173.85,270.80 178.94,270.00 184.03,281.10 189.12,315.70 194.21,323.10 199.30,316.50 204.39,325.60 209.48,311.00 214.57,321.50 219.66,320.40 224.75,317.30 229.84,318.50 234.93,318.00 240.02,317.60 245.11,328.60 250.20,330.50 255.29,332.60 260.38,336.80 265.47,345.00" fill="none" stroke="#000000" stroke-width="1.35" stroke-linejoin="round" stroke-linecap="round"/>
<polyline points="148.40,414.40 153.49,426.90 158.58,435.10 163.67,443.60 168.76,448.30 173.85,457.60 178.94,460.60 184.03,458.90 189.12,434.60 194.21,427.80 199.30,434.60 204.39,431.30 209.48,431.60 214.57,429.50 219.66,427.80 224.75,427.60 229.84,430.20 234.93,428.10 240.02,423.70 245.11,417.60 250.20,416.70 255.29,415.80 260.38,413.20 265.47,407.40" fill="none" stroke="#D40000" stroke-width="1.35" stroke-linejoin="round" stroke-linecap="round"/>
<polyline points="148.40,473.80 153.49,472.10 158.58,473.80 163.67,473.80 168.76,474.20 173.85,475.20 178.94,475.90 184.03,476.40 189.12,477.70 194.21,476.40 199.30,475.60 204.39,472.90 209.48,470.00 214.57,469.40 219.66,472.90 224.75,472.60 229.84,473.80 234.93,473.50 240.02,474.30 245.11,472.10 250.20,473.80 255.29,472.60 260.38,475.60 265.47,473.50" fill="none" stroke="#1E90FF" stroke-width="1.35" stroke-linejoin="round" stroke-linecap="round"/>
<polyline points="148.40,480.50 153.49,481.40 158.58,481.70 163.67,481.70 168.76,481.70 173.85,481.50 178.94,481.70 184.03,481.70 189.12,481.50 194.21,481.70 199.30,481.70 204.39,481.70 209.48,481.50 214.57,481.70 219.66,481.50 224.75,481.70 229.84,481.50 234.93,481.70 240.02,481.50 245.11,481.50 250.20,481.70 255.29,481.50 260.38,481.70 265.47,480.50" fill="none" stroke="#0000FF" stroke-width="1.35" stroke-linejoin="round" stroke-linecap="round"/>
<circle cx="148.40" cy="274.10" r="1.45" fill="#fff" stroke="#12A012" stroke-width="0.45"/>
<circle cx="153.49" cy="263.20" r="1.45" fill="#fff" stroke="#12A012" stroke-width="0.45"/>
<circle cx="158.58" cy="253.30" r="1.45" fill="#fff" stroke="#12A012" stroke-width="0.45"/>
<circle cx="163.67" cy="244.80" r="1.45" fill="#fff" stroke="#12A012" stroke-width="0.45"/>
<circle cx="168.76" cy="239.60" r="1.45" fill="#fff" stroke="#12A012" stroke-width="0.45"/>
<circle cx="173.85" cy="229.80" r="1.45" fill="#fff" stroke="#12A012" stroke-width="0.45"/>
<circle cx="178.94" cy="226.40" r="1.45" fill="#fff" stroke="#12A012" stroke-width="0.45"/>
<circle cx="184.03" cy="228.40" r="1.45" fill="#fff" stroke="#12A012" stroke-width="0.45"/>
<circle cx="189.12" cy="251.30" r="1.45" fill="#fff" stroke="#12A012" stroke-width="0.45"/>
<circle cx="194.21" cy="257.70" r="1.45" fill="#fff" stroke="#12A012" stroke-width="0.45"/>
<circle cx="199.30" cy="251.30" r="1.45" fill="#fff" stroke="#12A012" stroke-width="0.45"/>
<circle cx="204.39" cy="257.70" r="1.45" fill="#fff" stroke="#12A012" stroke-width="0.45"/>
<circle cx="209.48" cy="260.00" r="1.45" fill="#fff" stroke="#12A012" stroke-width="0.45"/>
<circle cx="214.57" cy="261.50" r="1.45" fill="#fff" stroke="#12A012" stroke-width="0.45"/>
<circle cx="219.66" cy="261.50" r="1.45" fill="#fff" stroke="#12A012" stroke-width="0.45"/>
<circle cx="224.75" cy="261.25" r="1.45" fill="#fff" stroke="#12A012" stroke-width="0.45"/>
<circle cx="229.84" cy="258.50" r="1.45" fill="#fff" stroke="#12A012" stroke-width="0.45"/>
<circle cx="234.93" cy="259.00" r="1.45" fill="#fff" stroke="#12A012" stroke-width="0.45"/>
<circle cx="240.02" cy="263.10" r="1.45" fill="#fff" stroke="#12A012" stroke-width="0.45"/>
<circle cx="245.11" cy="271.50" r="1.45" fill="#fff" stroke="#12A012" stroke-width="0.45"/>
<circle cx="250.20" cy="271.90" r="1.45" fill="#fff" stroke="#12A012" stroke-width="0.45"/>
<circle cx="255.29" cy="273.50" r="1.45" fill="#fff" stroke="#12A012" stroke-width="0.45"/>
<circle cx="260.38" cy="273.50" r="1.45" fill="#fff" stroke="#12A012" stroke-width="0.45"/>
<circle cx="265.47" cy="282.25" r="1.45" fill="#fff" stroke="#12A012" stroke-width="0.45"/>
<circle cx="148.40" cy="336.40" r="1.45" fill="#fff" stroke="#000000" stroke-width="0.45"/>
<circle cx="153.49" cy="319.00" r="1.45" fill="#fff" stroke="#000000" stroke-width="0.45"/>
<circle cx="158.58" cy="300.40" r="1.45" fill="#fff" stroke="#000000" stroke-width="0.45"/>
<circle cx="163.67" cy="287.40" r="1.45" fill="#fff" stroke="#000000" stroke-width="0.45"/>
<circle cx="168.76" cy="277.50" r="1.45" fill="#fff" stroke="#000000" stroke-width="0.45"/>
<circle cx="173.85" cy="270.80" r="1.45" fill="#fff" stroke="#000000" stroke-width="0.45"/>
<circle cx="178.94" cy="270.00" r="1.45" fill="#fff" stroke="#000000" stroke-width="0.45"/>
<circle cx="184.03" cy="281.10" r="1.45" fill="#fff" stroke="#000000" stroke-width="0.45"/>
<circle cx="189.12" cy="315.70" r="1.45" fill="#fff" stroke="#000000" stroke-width="0.45"/>
<circle cx="194.21" cy="323.10" r="1.45" fill="#fff" stroke="#000000" stroke-width="0.45"/>
<circle cx="199.30" cy="316.50" r="1.45" fill="#fff" stroke="#000000" stroke-width="0.45"/>
<circle cx="204.39" cy="325.60" r="1.45" fill="#fff" stroke="#000000" stroke-width="0.45"/>
<circle cx="209.48" cy="311.00" r="1.45" fill="#fff" stroke="#000000" stroke-width="0.45"/>
<circle cx="214.57" cy="321.50" r="1.45" fill="#fff" stroke="#000000" stroke-width="0.45"/>
<circle cx="219.66" cy="320.40" r="1.45" fill="#fff" stroke="#000000" stroke-width="0.45"/>
<circle cx="224.75" cy="317.30" r="1.45" fill="#fff" stroke="#000000" stroke-width="0.45"/>
<circle cx="229.84" cy="318.50" r="1.45" fill="#fff" stroke="#000000" stroke-width="0.45"/>
<circle cx="234.93" cy="318.00" r="1.45" fill="#fff" stroke="#000000" stroke-width="0.45"/>
<circle cx="240.02" cy="317.60" r="1.45" fill="#fff" stroke="#000000" stroke-width="0.45"/>
<circle cx="245.11" cy="328.60" r="1.45" fill="#fff" stroke="#000000" stroke-width="0.45"/>
<circle cx="250.20" cy="330.50" r="1.45" fill="#fff" stroke="#000000" stroke-width="0.45"/>
<circle cx="255.29" cy="332.60" r="1.45" fill="#fff" stroke="#000000" stroke-width="0.45"/>
<circle cx="260.38" cy="336.80" r="1.45" fill="#fff" stroke="#000000" stroke-width="0.45"/>
<circle cx="265.47" cy="345.00" r="1.45" fill="#fff" stroke="#000000" stroke-width="0.45"/>
<circle cx="148.40" cy="414.40" r="1.45" fill="#fff" stroke="#D40000" stroke-width="0.45"/>
<circle cx="153.49" cy="426.90" r="1.45" fill="#fff" stroke="#D40000" stroke-width="0.45"/>
<circle cx="158.58" cy="435.10" r="1.45" fill="#fff" stroke="#D40000" stroke-width="0.45"/>
<circle cx="163.67" cy="443.60" r="1.45" fill="#fff" stroke="#D40000" stroke-width="0.45"/>
<circle cx="168.76" cy="448.30" r="1.45" fill="#fff" stroke="#D40000" stroke-width="0.45"/>
<circle cx="173.85" cy="457.60" r="1.45" fill="#fff" stroke="#D40000" stroke-width="0.45"/>
<circle cx="178.94" cy="460.60" r="1.45" fill="#fff" stroke="#D40000" stroke-width="0.45"/>
<circle cx="184.03" cy="458.90" r="1.45" fill="#fff" stroke="#D40000" stroke-width="0.45"/>
<circle cx="189.12" cy="434.60" r="1.45" fill="#fff" stroke="#D40000" stroke-width="0.45"/>
<circle cx="194.21" cy="427.80" r="1.45" fill="#fff" stroke="#D40000" stroke-width="0.45"/>
<circle cx="199.30" cy="434.60" r="1.45" fill="#fff" stroke="#D40000" stroke-width="0.45"/>
<circle cx="204.39" cy="431.30" r="1.45" fill="#fff" stroke="#D40000" stroke-width="0.45"/>
<circle cx="209.48" cy="431.60" r="1.45" fill="#fff" stroke="#D40000" stroke-width="0.45"/>
<circle cx="214.57" cy="429.50" r="1.45" fill="#fff" stroke="#D40000" stroke-width="0.45"/>
<circle cx="219.66" cy="427.80" r="1.45" fill="#fff" stroke="#D40000" stroke-width="0.45"/>
<circle cx="224.75" cy="427.60" r="1.45" fill="#fff" stroke="#D40000" stroke-width="0.45"/>
<circle cx="229.84" cy="430.20" r="1.45" fill="#fff" stroke="#D40000" stroke-width="0.45"/>
<circle cx="234.93" cy="428.10" r="1.45" fill="#fff" stroke="#D40000" stroke-width="0.45"/>
<circle cx="240.02" cy="423.70" r="1.45" fill="#fff" stroke="#D40000" stroke-width="0.45"/>
<circle cx="245.11" cy="417.60" r="1.45" fill="#fff" stroke="#D40000" stroke-width="0.45"/>
<circle cx="250.20" cy="416.70" r="1.45" fill="#fff" stroke="#D40000" stroke-width="0.45"/>
<circle cx="255.29" cy="415.80" r="1.45" fill="#fff" stroke="#D40000" stroke-width="0.45"/>
<circle cx="260.38" cy="413.20" r="1.45" fill="#fff" stroke="#D40000" stroke-width="0.45"/>
<circle cx="265.47" cy="407.40" r="1.45" fill="#fff" stroke="#D40000" stroke-width="0.45"/>
<circle cx="148.40" cy="473.80" r="1.45" fill="#fff" stroke="#1E90FF" stroke-width="0.45"/>
<circle cx="153.49" cy="472.10" r="1.45" fill="#fff" stroke="#1E90FF" stroke-width="0.45"/>
<circle cx="158.58" cy="473.80" r="1.45" fill="#fff" stroke="#1E90FF" stroke-width="0.45"/>
<circle cx="163.67" cy="473.80" r="1.45" fill="#fff" stroke="#1E90FF" stroke-width="0.45"/>
<circle cx="168.76" cy="474.20" r="1.45" fill="#fff" stroke="#1E90FF" stroke-width="0.45"/>
<circle cx="173.85" cy="475.20" r="1.45" fill="#fff" stroke="#1E90FF" stroke-width="0.45"/>
<circle cx="178.94" cy="475.90" r="1.45" fill="#fff" stroke="#1E90FF" stroke-width="0.45"/>
<circle cx="184.03" cy="476.40" r="1.45" fill="#fff" stroke="#1E90FF" stroke-width="0.45"/>
<circle cx="189.12" cy="477.70" r="1.45" fill="#fff" stroke="#1E90FF" stroke-width="0.45"/>
<circle cx="194.21" cy="476.40" r="1.45" fill="#fff" stroke="#1E90FF" stroke-width="0.45"/>
<circle cx="199.30" cy="475.60" r="1.45" fill="#fff" stroke="#1E90FF" stroke-width="0.45"/>
<circle cx="204.39" cy="472.90" r="1.45" fill="#fff" stroke="#1E90FF" stroke-width="0.45"/>
<circle cx="209.48" cy="470.00" r="1.45" fill="#fff" stroke="#1E90FF" stroke-width="0.45"/>
<circle cx="214.57" cy="469.40" r="1.45" fill="#fff" stroke="#1E90FF" stroke-width="0.45"/>
<circle cx="219.66" cy="472.90" r="1.45" fill="#fff" stroke="#1E90FF" stroke-width="0.45"/>
<circle cx="224.75" cy="472.60" r="1.45" fill="#fff" stroke="#1E90FF" stroke-width="0.45"/>
<circle cx="229.84" cy="473.80" r="1.45" fill="#fff" stroke="#1E90FF" stroke-width="0.45"/>
<circle cx="234.93" cy="473.50" r="1.45" fill="#fff" stroke="#1E90FF" stroke-width="0.45"/>
<circle cx="240.02" cy="474.30" r="1.45" fill="#fff" stroke="#1E90FF" stroke-width="0.45"/>
<circle cx="245.11" cy="472.10" r="1.45" fill="#fff" stroke="#1E90FF" stroke-width="0.45"/>
<circle cx="250.20" cy="473.80" r="1.45" fill="#fff" stroke="#1E90FF" stroke-width="0.45"/>
<circle cx="255.29" cy="472.60" r="1.45" fill="#fff" stroke="#1E90FF" stroke-width="0.45"/>
<circle cx="260.38" cy="475.60" r="1.45" fill="#fff" stroke="#1E90FF" stroke-width="0.45"/>
<circle cx="265.47" cy="473.50" r="1.45" fill="#fff" stroke="#1E90FF" stroke-width="0.45"/>
<circle cx="148.40" cy="480.50" r="1.45" fill="#fff" stroke="#0000FF" stroke-width="0.45"/>
<circle cx="153.49" cy="481.40" r="1.45" fill="#fff" stroke="#0000FF" stroke-width="0.45"/>
<circle cx="158.58" cy="481.70" r="1.45" fill="#fff" stroke="#0000FF" stroke-width="0.45"/>
<circle cx="163.67" cy="481.70" r="1.45" fill="#fff" stroke="#0000FF" stroke-width="0.45"/>
<circle cx="168.76" cy="481.70" r="1.45" fill="#fff" stroke="#0000FF" stroke-width="0.45"/>
<circle cx="173.85" cy="481.50" r="1.45" fill="#fff" stroke="#0000FF" stroke-width="0.45"/>
<circle cx="178.94" cy="481.70" r="1.45" fill="#fff" stroke="#0000FF" stroke-width="0.45"/>
<circle cx="184.03" cy="481.70" r="1.45" fill="#fff" stroke="#0000FF" stroke-width="0.45"/>
<circle cx="189.12" cy="481.50" r="1.45" fill="#fff" stroke="#0000FF" stroke-width="0.45"/>
<circle cx="194.21" cy="481.70" r="1.45" fill="#fff" stroke="#0000FF" stroke-width="0.45"/>
<circle cx="199.30" cy="481.70" r="1.45" fill="#fff" stroke="#0000FF" stroke-width="0.45"/>
<circle cx="204.39" cy="481.70" r="1.45" fill="#fff" stroke="#0000FF" stroke-width="0.45"/>
<circle cx="209.48" cy="481.50" r="1.45" fill="#fff" stroke="#0000FF" stroke-width="0.45"/>
<circle cx="214.57" cy="481.70" r="1.45" fill="#fff" stroke="#0000FF" stroke-width="0.45"/>
<circle cx="219.66" cy="481.50" r="1.45" fill="#fff" stroke="#0000FF" stroke-width="0.45"/>
<circle cx="224.75" cy="481.70" r="1.45" fill="#fff" stroke="#0000FF" stroke-width="0.45"/>
<circle cx="229.84" cy="481.50" r="1.45" fill="#fff" stroke="#0000FF" stroke-width="0.45"/>
<circle cx="234.93" cy="481.70" r="1.45" fill="#fff" stroke="#0000FF" stroke-width="0.45"/>
<circle cx="240.02" cy="481.50" r="1.45" fill="#fff" stroke="#0000FF" stroke-width="0.45"/>
<circle cx="245.11" cy="481.50" r="1.45" fill="#fff" stroke="#0000FF" stroke-width="0.45"/>
<circle cx="250.20" cy="481.70" r="1.45" fill="#fff" stroke="#0000FF" stroke-width="0.45"/>
<circle cx="255.29" cy="481.50" r="1.45" fill="#fff" stroke="#0000FF" stroke-width="0.45"/>
<circle cx="260.38" cy="481.70" r="1.45" fill="#fff" stroke="#0000FF" stroke-width="0.45"/>
<circle cx="265.47" cy="480.50" r="1.45" fill="#fff" stroke="#0000FF" stroke-width="0.45"/>
<line x1="270.95" y1="495.30" x2="394.00" y2="495.30" stroke="#7a7a7a" stroke-width="0.9"/>
<line x1="273.80" y1="495.30" x2="273.80" y2="496.90" stroke="#7a7a7a" stroke-width="0.7"/>
<line x1="278.89" y1="495.30" x2="278.89" y2="496.90" stroke="#7a7a7a" stroke-width="0.7"/>
<line x1="283.98" y1="495.30" x2="283.98" y2="496.90" stroke="#7a7a7a" stroke-width="0.7"/>
<line x1="289.07" y1="495.30" x2="289.07" y2="496.90" stroke="#7a7a7a" stroke-width="0.7"/>
<line x1="294.16" y1="495.30" x2="294.16" y2="496.90" stroke="#7a7a7a" stroke-width="0.7"/>
<line x1="299.25" y1="495.30" x2="299.25" y2="496.90" stroke="#7a7a7a" stroke-width="0.7"/>
<line x1="304.34" y1="495.30" x2="304.34" y2="496.90" stroke="#7a7a7a" stroke-width="0.7"/>
<line x1="309.43" y1="495.30" x2="309.43" y2="496.90" stroke="#7a7a7a" stroke-width="0.7"/>
<line x1="314.52" y1="495.30" x2="314.52" y2="496.90" stroke="#7a7a7a" stroke-width="0.7"/>
<line x1="319.61" y1="495.30" x2="319.61" y2="496.90" stroke="#7a7a7a" stroke-width="0.7"/>
<line x1="324.70" y1="495.30" x2="324.70" y2="496.90" stroke="#7a7a7a" stroke-width="0.7"/>
<line x1="329.79" y1="495.30" x2="329.79" y2="496.90" stroke="#7a7a7a" stroke-width="0.7"/>
<line x1="334.88" y1="495.30" x2="334.88" y2="496.90" stroke="#7a7a7a" stroke-width="0.7"/>
<line x1="339.97" y1="495.30" x2="339.97" y2="496.90" stroke="#7a7a7a" stroke-width="0.7"/>
<line x1="345.06" y1="495.30" x2="345.06" y2="496.90" stroke="#7a7a7a" stroke-width="0.7"/>
<line x1="350.15" y1="495.30" x2="350.15" y2="496.90" stroke="#7a7a7a" stroke-width="0.7"/>
<line x1="355.24" y1="495.30" x2="355.24" y2="496.90" stroke="#7a7a7a" stroke-width="0.7"/>
<line x1="360.33" y1="495.30" x2="360.33" y2="496.90" stroke="#7a7a7a" stroke-width="0.7"/>
<line x1="365.42" y1="495.30" x2="365.42" y2="496.90" stroke="#7a7a7a" stroke-width="0.7"/>
<line x1="370.51" y1="495.30" x2="370.51" y2="496.90" stroke="#7a7a7a" stroke-width="0.7"/>
<line x1="375.60" y1="495.30" x2="375.60" y2="496.90" stroke="#7a7a7a" stroke-width="0.7"/>
<line x1="380.69" y1="495.30" x2="380.69" y2="496.90" stroke="#7a7a7a" stroke-width="0.7"/>
<line x1="385.78" y1="495.30" x2="385.78" y2="496.90" stroke="#7a7a7a" stroke-width="0.7"/>
<line x1="390.87" y1="495.30" x2="390.87" y2="496.90" stroke="#7a7a7a" stroke-width="0.7"/>
<text x="277.2" y="500.4" font-size="6.1" text-anchor="end" fill="#222" transform="rotate(-45 277.2 500.4)">12PM</text>
<text x="307.74" y="500.4" font-size="6.1" text-anchor="end" fill="#222" transform="rotate(-45 307.74 500.4)">6AM</text>
<text x="338.28" y="500.4" font-size="6.1" text-anchor="end" fill="#222" transform="rotate(-45 338.28 500.4)">12AM</text>
<text x="368.82" y="500.4" font-size="6.1" text-anchor="end" fill="#222" transform="rotate(-45 368.82 500.4)">6PM</text>
<text x="332.625" y="204.6" font-size="7.6" text-anchor="middle" font-weight="bold" fill="#00BFC4">Group 3</text>
<line x1="273.80" y1="292.50" x2="273.80" y2="303.50" stroke="#888888" stroke-width="0.9" stroke-dasharray="2.3,1.3"/>
<line x1="278.89" y1="293.25" x2="278.89" y2="304.25" stroke="#888888" stroke-width="0.9" stroke-dasharray="2.3,1.3"/>
<line x1="283.98" y1="294.30" x2="283.98" y2="305.30" stroke="#888888" stroke-width="0.9" stroke-dasharray="2.3,1.3"/>
<line x1="289.07" y1="290.90" x2="289.07" y2="301.90" stroke="#888888" stroke-width="0.9" stroke-dasharray="2.3,1.3"/>
<line x1="294.16" y1="286.50" x2="294.16" y2="297.50" stroke="#888888" stroke-width="0.9" stroke-dasharray="2.3,1.3"/>
<line x1="299.25" y1="282.60" x2="299.25" y2="293.60" stroke="#888888" stroke-width="0.9" stroke-dasharray="2.3,1.3"/>
<line x1="304.34" y1="274.00" x2="304.34" y2="285.00" stroke="#888888" stroke-width="0.9" stroke-dasharray="2.3,1.3"/>
<line x1="309.43" y1="265.40" x2="309.43" y2="276.40" stroke="#888888" stroke-width="0.9" stroke-dasharray="2.3,1.3"/>
<line x1="314.52" y1="281.40" x2="314.52" y2="292.40" stroke="#888888" stroke-width="0.9" stroke-dasharray="2.3,1.3"/>
<line x1="319.61" y1="283.90" x2="319.61" y2="294.90" stroke="#888888" stroke-width="0.9" stroke-dasharray="2.3,1.3"/>
<line x1="324.70" y1="288.90" x2="324.70" y2="299.90" stroke="#888888" stroke-width="0.9" stroke-dasharray="2.3,1.3"/>
<line x1="329.79" y1="288.10" x2="329.79" y2="299.10" stroke="#888888" stroke-width="0.9" stroke-dasharray="2.3,1.3"/>
<line x1="334.88" y1="292.00" x2="334.88" y2="303.00" stroke="#888888" stroke-width="0.9" stroke-dasharray="2.3,1.3"/>
<line x1="339.97" y1="294.30" x2="339.97" y2="305.30" stroke="#888888" stroke-width="0.9" stroke-dasharray="2.3,1.3"/>
<line x1="345.06" y1="299.00" x2="345.06" y2="310.00" stroke="#888888" stroke-width="0.9" stroke-dasharray="2.3,1.3"/>
<line x1="350.15" y1="293.50" x2="350.15" y2="304.50" stroke="#888888" stroke-width="0.9" stroke-dasharray="2.3,1.3"/>
<line x1="355.24" y1="287.30" x2="355.24" y2="298.30" stroke="#888888" stroke-width="0.9" stroke-dasharray="2.3,1.3"/>
<line x1="360.33" y1="285.00" x2="360.33" y2="296.00" stroke="#888888" stroke-width="0.9" stroke-dasharray="2.3,1.3"/>
<line x1="365.42" y1="281.40" x2="365.42" y2="292.40" stroke="#888888" stroke-width="0.9" stroke-dasharray="2.3,1.3"/>
<line x1="370.51" y1="280.30" x2="370.51" y2="291.30" stroke="#888888" stroke-width="0.9" stroke-dasharray="2.3,1.3"/>
<line x1="375.60" y1="282.90" x2="375.60" y2="293.90" stroke="#888888" stroke-width="0.9" stroke-dasharray="2.3,1.3"/>
<line x1="380.69" y1="287.30" x2="380.69" y2="298.30" stroke="#888888" stroke-width="0.9" stroke-dasharray="2.3,1.3"/>
<line x1="385.78" y1="290.10" x2="385.78" y2="301.10" stroke="#888888" stroke-width="0.9" stroke-dasharray="2.3,1.3"/>
<line x1="390.87" y1="296.40" x2="390.87" y2="307.40" stroke="#888888" stroke-width="0.9" stroke-dasharray="2.3,1.3"/>
<line x1="273.80" y1="341.30" x2="273.80" y2="352.30" stroke="#888888" stroke-width="0.9" stroke-dasharray="2.3,1.3"/>
<line x1="278.89" y1="337.20" x2="278.89" y2="348.20" stroke="#888888" stroke-width="0.9" stroke-dasharray="2.3,1.3"/>
<line x1="283.98" y1="330.00" x2="283.98" y2="341.00" stroke="#888888" stroke-width="0.9" stroke-dasharray="2.3,1.3"/>
<line x1="289.07" y1="325.50" x2="289.07" y2="336.50" stroke="#888888" stroke-width="0.9" stroke-dasharray="2.3,1.3"/>
<line x1="294.16" y1="314.80" x2="294.16" y2="325.80" stroke="#888888" stroke-width="0.9" stroke-dasharray="2.3,1.3"/>
<line x1="299.25" y1="304.60" x2="299.25" y2="315.60" stroke="#888888" stroke-width="0.9" stroke-dasharray="2.3,1.3"/>
<line x1="304.34" y1="295.90" x2="304.34" y2="306.90" stroke="#888888" stroke-width="0.9" stroke-dasharray="2.3,1.3"/>
<line x1="309.43" y1="302.20" x2="309.43" y2="313.20" stroke="#888888" stroke-width="0.9" stroke-dasharray="2.3,1.3"/>
<line x1="314.52" y1="324.30" x2="314.52" y2="335.30" stroke="#888888" stroke-width="0.9" stroke-dasharray="2.3,1.3"/>
<line x1="319.61" y1="330.90" x2="319.61" y2="341.90" stroke="#888888" stroke-width="0.9" stroke-dasharray="2.3,1.3"/>
<line x1="324.70" y1="323.10" x2="324.70" y2="334.10" stroke="#888888" stroke-width="0.9" stroke-dasharray="2.3,1.3"/>
<line x1="329.79" y1="320.10" x2="329.79" y2="331.10" stroke="#888888" stroke-width="0.9" stroke-dasharray="2.3,1.3"/>
<line x1="334.88" y1="317.40" x2="334.88" y2="328.40" stroke="#888888" stroke-width="0.9" stroke-dasharray="2.3,1.3"/>
<line x1="339.97" y1="334.50" x2="339.97" y2="345.50" stroke="#888888" stroke-width="0.9" stroke-dasharray="2.3,1.3"/>
<line x1="345.06" y1="334.50" x2="345.06" y2="345.50" stroke="#888888" stroke-width="0.9" stroke-dasharray="2.3,1.3"/>
<line x1="350.15" y1="328.50" x2="350.15" y2="339.50" stroke="#888888" stroke-width="0.9" stroke-dasharray="2.3,1.3"/>
<line x1="355.24" y1="331.75" x2="355.24" y2="342.75" stroke="#888888" stroke-width="0.9" stroke-dasharray="2.3,1.3"/>
<line x1="360.33" y1="324.90" x2="360.33" y2="335.90" stroke="#888888" stroke-width="0.9" stroke-dasharray="2.3,1.3"/>
<line x1="365.42" y1="320.10" x2="365.42" y2="331.10" stroke="#888888" stroke-width="0.9" stroke-dasharray="2.3,1.3"/>
<line x1="370.51" y1="315.10" x2="370.51" y2="326.10" stroke="#888888" stroke-width="0.9" stroke-dasharray="2.3,1.3"/>
<line x1="375.60" y1="311.40" x2="375.60" y2="322.40" stroke="#888888" stroke-width="0.9" stroke-dasharray="2.3,1.3"/>
<line x1="380.69" y1="318.00" x2="380.69" y2="329.00" stroke="#888888" stroke-width="0.9" stroke-dasharray="2.3,1.3"/>
<line x1="385.78" y1="325.75" x2="385.78" y2="336.75" stroke="#888888" stroke-width="0.9" stroke-dasharray="2.3,1.3"/>
<line x1="390.87" y1="345.75" x2="390.87" y2="356.75" stroke="#888888" stroke-width="0.9" stroke-dasharray="2.3,1.3"/>
<line x1="273.80" y1="404.50" x2="273.80" y2="415.50" stroke="#888888" stroke-width="0.9" stroke-dasharray="2.3,1.3"/>
<line x1="278.89" y1="406.80" x2="278.89" y2="417.80" stroke="#888888" stroke-width="0.9" stroke-dasharray="2.3,1.3"/>
<line x1="283.98" y1="409.40" x2="283.98" y2="420.40" stroke="#888888" stroke-width="0.9" stroke-dasharray="2.3,1.3"/>
<line x1="289.07" y1="418.20" x2="289.07" y2="429.20" stroke="#888888" stroke-width="0.9" stroke-dasharray="2.3,1.3"/>
<line x1="294.16" y1="428.20" x2="294.16" y2="439.20" stroke="#888888" stroke-width="0.9" stroke-dasharray="2.3,1.3"/>
<line x1="299.25" y1="436.30" x2="299.25" y2="447.30" stroke="#888888" stroke-width="0.9" stroke-dasharray="2.3,1.3"/>
<line x1="304.34" y1="440.50" x2="304.34" y2="451.50" stroke="#888888" stroke-width="0.9" stroke-dasharray="2.3,1.3"/>
<line x1="309.43" y1="434.90" x2="309.43" y2="445.90" stroke="#888888" stroke-width="0.9" stroke-dasharray="2.3,1.3"/>
<line x1="314.52" y1="410.30" x2="314.52" y2="421.30" stroke="#888888" stroke-width="0.9" stroke-dasharray="2.3,1.3"/>
<line x1="319.61" y1="412.10" x2="319.61" y2="423.10" stroke="#888888" stroke-width="0.9" stroke-dasharray="2.3,1.3"/>
<line x1="324.70" y1="413.80" x2="324.70" y2="424.80" stroke="#888888" stroke-width="0.9" stroke-dasharray="2.3,1.3"/>
<line x1="329.79" y1="417.30" x2="329.79" y2="428.30" stroke="#888888" stroke-width="0.9" stroke-dasharray="2.3,1.3"/>
<line x1="334.88" y1="425.80" x2="334.88" y2="436.80" stroke="#888888" stroke-width="0.9" stroke-dasharray="2.3,1.3"/>
<line x1="339.97" y1="409.40" x2="339.97" y2="420.40" stroke="#888888" stroke-width="0.9" stroke-dasharray="2.3,1.3"/>
<line x1="345.06" y1="401.20" x2="345.06" y2="412.20" stroke="#888888" stroke-width="0.9" stroke-dasharray="2.3,1.3"/>
<line x1="350.15" y1="410.00" x2="350.15" y2="421.00" stroke="#888888" stroke-width="0.9" stroke-dasharray="2.3,1.3"/>
<line x1="355.24" y1="411.70" x2="355.24" y2="422.70" stroke="#888888" stroke-width="0.9" stroke-dasharray="2.3,1.3"/>
<line x1="360.33" y1="410.00" x2="360.33" y2="421.00" stroke="#888888" stroke-width="0.9" stroke-dasharray="2.3,1.3"/>
<line x1="365.42" y1="415.20" x2="365.42" y2="426.20" stroke="#888888" stroke-width="0.9" stroke-dasharray="2.3,1.3"/>
<line x1="370.51" y1="418.20" x2="370.51" y2="429.20" stroke="#888888" stroke-width="0.9" stroke-dasharray="2.3,1.3"/>
<line x1="375.60" y1="423.50" x2="375.60" y2="434.50" stroke="#888888" stroke-width="0.9" stroke-dasharray="2.3,1.3"/>
<line x1="380.69" y1="418.20" x2="380.69" y2="429.20" stroke="#888888" stroke-width="0.9" stroke-dasharray="2.3,1.3"/>
<line x1="385.78" y1="410.00" x2="385.78" y2="421.00" stroke="#888888" stroke-width="0.9" stroke-dasharray="2.3,1.3"/>
<line x1="390.87" y1="406.80" x2="390.87" y2="417.80" stroke="#888888" stroke-width="0.9" stroke-dasharray="2.3,1.3"/>
<line x1="273.80" y1="448.10" x2="273.80" y2="459.10" stroke="#888888" stroke-width="0.9" stroke-dasharray="2.3,1.3"/>
<line x1="278.89" y1="445.50" x2="278.89" y2="456.50" stroke="#888888" stroke-width="0.9" stroke-dasharray="2.3,1.3"/>
<line x1="283.98" y1="441.60" x2="283.98" y2="452.60" stroke="#888888" stroke-width="0.9" stroke-dasharray="2.3,1.3"/>
<line x1="289.07" y1="436.30" x2="289.07" y2="447.30" stroke="#888888" stroke-width="0.9" stroke-dasharray="2.3,1.3"/>
<line x1="294.16" y1="429.60" x2="294.16" y2="440.60" stroke="#888888" stroke-width="0.9" stroke-dasharray="2.3,1.3"/>
<line x1="299.25" y1="426.10" x2="299.25" y2="437.10" stroke="#888888" stroke-width="0.9" stroke-dasharray="2.3,1.3"/>
<line x1="304.34" y1="431.40" x2="304.34" y2="442.40" stroke="#888888" stroke-width="0.9" stroke-dasharray="2.3,1.3"/>
<line x1="309.43" y1="445.50" x2="309.43" y2="456.50" stroke="#888888" stroke-width="0.9" stroke-dasharray="2.3,1.3"/>
<line x1="314.52" y1="453.40" x2="314.52" y2="464.40" stroke="#888888" stroke-width="0.9" stroke-dasharray="2.3,1.3"/>
<line x1="319.61" y1="448.10" x2="319.61" y2="459.10" stroke="#888888" stroke-width="0.9" stroke-dasharray="2.3,1.3"/>
<line x1="324.70" y1="442.00" x2="324.70" y2="453.00" stroke="#888888" stroke-width="0.9" stroke-dasharray="2.3,1.3"/>
<line x1="329.79" y1="440.00" x2="329.79" y2="451.00" stroke="#888888" stroke-width="0.9" stroke-dasharray="2.3,1.3"/>
<line x1="334.88" y1="428.80" x2="334.88" y2="439.80" stroke="#888888" stroke-width="0.9" stroke-dasharray="2.3,1.3"/>
<line x1="339.97" y1="442.00" x2="339.97" y2="453.00" stroke="#888888" stroke-width="0.9" stroke-dasharray="2.3,1.3"/>
<line x1="345.06" y1="446.30" x2="345.06" y2="457.30" stroke="#888888" stroke-width="0.9" stroke-dasharray="2.3,1.3"/>
<line x1="350.15" y1="441.60" x2="350.15" y2="452.60" stroke="#888888" stroke-width="0.9" stroke-dasharray="2.3,1.3"/>
<line x1="355.24" y1="446.90" x2="355.24" y2="457.90" stroke="#888888" stroke-width="0.9" stroke-dasharray="2.3,1.3"/>
<line x1="360.33" y1="451.10" x2="360.33" y2="462.10" stroke="#888888" stroke-width="0.9" stroke-dasharray="2.3,1.3"/>
<line x1="365.42" y1="449.00" x2="365.42" y2="460.00" stroke="#888888" stroke-width="0.9" stroke-dasharray="2.3,1.3"/>
<line x1="370.51" y1="445.80" x2="370.51" y2="456.80" stroke="#888888" stroke-width="0.9" stroke-dasharray="2.3,1.3"/>
<line x1="375.60" y1="437.60" x2="375.60" y2="448.60" stroke="#888888" stroke-width="0.9" stroke-dasharray="2.3,1.3"/>
<line x1="380.69" y1="439.30" x2="380.69" y2="450.30" stroke="#888888" stroke-width="0.9" stroke-dasharray="2.3,1.3"/>
<line x1="385.78" y1="445.80" x2="385.78" y2="456.80" stroke="#888888" stroke-width="0.9" stroke-dasharray="2.3,1.3"/>
<line x1="390.87" y1="441.60" x2="390.87" y2="452.60" stroke="#888888" stroke-width="0.9" stroke-dasharray="2.3,1.3"/>
<line x1="273.80" y1="469.20" x2="273.80" y2="474.20" stroke="#888888" stroke-width="0.9" stroke-dasharray="2.3,1.3"/>
<line x1="278.89" y1="469.20" x2="278.89" y2="474.20" stroke="#888888" stroke-width="0.9" stroke-dasharray="2.3,1.3"/>
<line x1="283.98" y1="466.90" x2="283.98" y2="471.90" stroke="#888888" stroke-width="0.9" stroke-dasharray="2.3,1.3"/>
<line x1="289.07" y1="463.40" x2="289.07" y2="468.40" stroke="#888888" stroke-width="0.9" stroke-dasharray="2.3,1.3"/>
<line x1="294.16" y1="460.40" x2="294.16" y2="465.40" stroke="#888888" stroke-width="0.9" stroke-dasharray="2.3,1.3"/>
<line x1="299.25" y1="458.10" x2="299.25" y2="463.10" stroke="#888888" stroke-width="0.9" stroke-dasharray="2.3,1.3"/>
<line x1="304.34" y1="463.40" x2="304.34" y2="468.40" stroke="#888888" stroke-width="0.9" stroke-dasharray="2.3,1.3"/>
<line x1="309.43" y1="469.20" x2="309.43" y2="474.20" stroke="#888888" stroke-width="0.9" stroke-dasharray="2.3,1.3"/>
<line x1="314.52" y1="473.40" x2="314.52" y2="478.40" stroke="#888888" stroke-width="0.9" stroke-dasharray="2.3,1.3"/>
<line x1="319.61" y1="471.70" x2="319.61" y2="476.70" stroke="#888888" stroke-width="0.9" stroke-dasharray="2.3,1.3"/>
<line x1="324.70" y1="471.30" x2="324.70" y2="476.30" stroke="#888888" stroke-width="0.9" stroke-dasharray="2.3,1.3"/>
<line x1="329.79" y1="471.30" x2="329.79" y2="476.30" stroke="#888888" stroke-width="0.9" stroke-dasharray="2.3,1.3"/>
<line x1="334.88" y1="466.60" x2="334.88" y2="471.60" stroke="#888888" stroke-width="0.9" stroke-dasharray="2.3,1.3"/>
<line x1="339.97" y1="471.00" x2="339.97" y2="476.00" stroke="#888888" stroke-width="0.9" stroke-dasharray="2.3,1.3"/>
<line x1="345.06" y1="473.40" x2="345.06" y2="478.40" stroke="#888888" stroke-width="0.9" stroke-dasharray="2.3,1.3"/>
<line x1="350.15" y1="472.20" x2="350.15" y2="477.20" stroke="#888888" stroke-width="0.9" stroke-dasharray="2.3,1.3"/>
<line x1="355.24" y1="472.20" x2="355.24" y2="477.20" stroke="#888888" stroke-width="0.9" stroke-dasharray="2.3,1.3"/>
<line x1="360.33" y1="474.50" x2="360.33" y2="479.50" stroke="#888888" stroke-width="0.9" stroke-dasharray="2.3,1.3"/>
<line x1="365.42" y1="475.20" x2="365.42" y2="480.20" stroke="#888888" stroke-width="0.9" stroke-dasharray="2.3,1.3"/>
<line x1="370.51" y1="474.50" x2="370.51" y2="479.50" stroke="#888888" stroke-width="0.9" stroke-dasharray="2.3,1.3"/>
<line x1="375.60" y1="472.20" x2="375.60" y2="477.20" stroke="#888888" stroke-width="0.9" stroke-dasharray="2.3,1.3"/>
<line x1="380.69" y1="468.30" x2="380.69" y2="473.30" stroke="#888888" stroke-width="0.9" stroke-dasharray="2.3,1.3"/>
<line x1="385.78" y1="472.20" x2="385.78" y2="477.20" stroke="#888888" stroke-width="0.9" stroke-dasharray="2.3,1.3"/>
<line x1="390.87" y1="466.60" x2="390.87" y2="471.60" stroke="#888888" stroke-width="0.9" stroke-dasharray="2.3,1.3"/>
<polyline points="273.80,298.00 278.89,298.75 283.98,299.80 289.07,296.40 294.16,292.00 299.25,288.10 304.34,279.50 309.43,270.90 314.52,286.90 319.61,289.40 324.70,294.40 329.79,293.60 334.88,297.50 339.97,299.80 345.06,304.50 350.15,299.00 355.24,292.80 360.33,290.50 365.42,286.90 370.51,285.80 375.60,288.40 380.69,292.80 385.78,295.60 390.87,301.90" fill="none" stroke="#12A012" stroke-width="1.35" stroke-linejoin="round" stroke-linecap="round"/>
<polyline points="273.80,346.80 278.89,342.70 283.98,335.50 289.07,331.00 294.16,320.30 299.25,310.10 304.34,301.40 309.43,307.70 314.52,329.80 319.61,336.40 324.70,328.60 329.79,325.60 334.88,322.90 339.97,340.00 345.06,340.00 350.15,334.00 355.24,337.25 360.33,330.40 365.42,325.60 370.51,320.60 375.60,316.90 380.69,323.50 385.78,331.25 390.87,351.25" fill="none" stroke="#000000" stroke-width="1.35" stroke-linejoin="round" stroke-linecap="round"/>
<polyline points="273.80,410.00 278.89,412.30 283.98,414.90 289.07,423.70 294.16,433.70 299.25,441.80 304.34,446.00 309.43,440.40 314.52,415.80 319.61,417.60 324.70,419.30 329.79,422.80 334.88,431.30 339.97,414.90 345.06,406.70 350.15,415.50 355.24,417.20 360.33,415.50 365.42,420.70 370.51,423.70 375.60,429.00 380.69,423.70 385.78,415.50 390.87,412.30" fill="none" stroke="#D40000" stroke-width="1.35" stroke-linejoin="round" stroke-linecap="round"/>
<polyline points="273.80,453.60 278.89,451.00 283.98,447.10 289.07,441.80 294.16,435.10 299.25,431.60 304.34,436.90 309.43,451.00 314.52,458.90 319.61,453.60 324.70,447.50 329.79,445.50 334.88,434.30 339.97,447.50 345.06,451.80 350.15,447.10 355.24,452.40 360.33,456.60 365.42,454.50 370.51,451.30 375.60,443.10 380.69,444.80 385.78,451.30 390.87,447.10" fill="none" stroke="#1E90FF" stroke-width="1.35" stroke-linejoin="round" stroke-linecap="round"/>
<polyline points="273.80,471.70 278.89,471.70 283.98,469.40 289.07,465.90 294.16,462.90 299.25,460.60 304.34,465.90 309.43,471.70 314.52,475.90 319.61,474.20 324.70,473.80 329.79,473.80 334.88,469.10 339.97,473.50 345.06,475.90 350.15,474.70 355.24,474.70 360.33,477.00 365.42,477.70 370.51,477.00 375.60,474.70 380.69,470.80 385.78,474.70 390.87,469.10" fill="none" stroke="#0000FF" stroke-width="1.35" stroke-linejoin="round" stroke-linecap="round"/>
<circle cx="273.80" cy="298.00" r="1.45" fill="#fff" stroke="#12A012" stroke-width="0.45"/>
<circle cx="278.89" cy="298.75" r="1.45" fill="#fff" stroke="#12A012" stroke-width="0.45"/>
<circle cx="283.98" cy="299.80" r="1.45" fill="#fff" stroke="#12A012" stroke-width="0.45"/>
<circle cx="289.07" cy="296.40" r="1.45" fill="#fff" stroke="#12A012" stroke-width="0.45"/>
<circle cx="294.16" cy="292.00" r="1.45" fill="#fff" stroke="#12A012" stroke-width="0.45"/>
<circle cx="299.25" cy="288.10" r="1.45" fill="#fff" stroke="#12A012" stroke-width="0.45"/>
<circle cx="304.34" cy="279.50" r="1.45" fill="#fff" stroke="#12A012" stroke-width="0.45"/>
<circle cx="309.43" cy="270.90" r="1.45" fill="#fff" stroke="#12A012" stroke-width="0.45"/>
<circle cx="314.52" cy="286.90" r="1.45" fill="#fff" stroke="#12A012" stroke-width="0.45"/>
<circle cx="319.61" cy="289.40" r="1.45" fill="#fff" stroke="#12A012" stroke-width="0.45"/>
<circle cx="324.70" cy="294.40" r="1.45" fill="#fff" stroke="#12A012" stroke-width="0.45"/>
<circle cx="329.79" cy="293.60" r="1.45" fill="#fff" stroke="#12A012" stroke-width="0.45"/>
<circle cx="334.88" cy="297.50" r="1.45" fill="#fff" stroke="#12A012" stroke-width="0.45"/>
<circle cx="339.97" cy="299.80" r="1.45" fill="#fff" stroke="#12A012" stroke-width="0.45"/>
<circle cx="345.06" cy="304.50" r="1.45" fill="#fff" stroke="#12A012" stroke-width="0.45"/>
<circle cx="350.15" cy="299.00" r="1.45" fill="#fff" stroke="#12A012" stroke-width="0.45"/>
<circle cx="355.24" cy="292.80" r="1.45" fill="#fff" stroke="#12A012" stroke-width="0.45"/>
<circle cx="360.33" cy="290.50" r="1.45" fill="#fff" stroke="#12A012" stroke-width="0.45"/>
<circle cx="365.42" cy="286.90" r="1.45" fill="#fff" stroke="#12A012" stroke-width="0.45"/>
<circle cx="370.51" cy="285.80" r="1.45" fill="#fff" stroke="#12A012" stroke-width="0.45"/>
<circle cx="375.60" cy="288.40" r="1.45" fill="#fff" stroke="#12A012" stroke-width="0.45"/>
<circle cx="380.69" cy="292.80" r="1.45" fill="#fff" stroke="#12A012" stroke-width="0.45"/>
<circle cx="385.78" cy="295.60" r="1.45" fill="#fff" stroke="#12A012" stroke-width="0.45"/>
<circle cx="390.87" cy="301.90" r="1.45" fill="#fff" stroke="#12A012" stroke-width="0.45"/>
<circle cx="273.80" cy="346.80" r="1.45" fill="#fff" stroke="#000000" stroke-width="0.45"/>
<circle cx="278.89" cy="342.70" r="1.45" fill="#fff" stroke="#000000" stroke-width="0.45"/>
<circle cx="283.98" cy="335.50" r="1.45" fill="#fff" stroke="#000000" stroke-width="0.45"/>
<circle cx="289.07" cy="331.00" r="1.45" fill="#fff" stroke="#000000" stroke-width="0.45"/>
<circle cx="294.16" cy="320.30" r="1.45" fill="#fff" stroke="#000000" stroke-width="0.45"/>
<circle cx="299.25" cy="310.10" r="1.45" fill="#fff" stroke="#000000" stroke-width="0.45"/>
<circle cx="304.34" cy="301.40" r="1.45" fill="#fff" stroke="#000000" stroke-width="0.45"/>
<circle cx="309.43" cy="307.70" r="1.45" fill="#fff" stroke="#000000" stroke-width="0.45"/>
<circle cx="314.52" cy="329.80" r="1.45" fill="#fff" stroke="#000000" stroke-width="0.45"/>
<circle cx="319.61" cy="336.40" r="1.45" fill="#fff" stroke="#000000" stroke-width="0.45"/>
<circle cx="324.70" cy="328.60" r="1.45" fill="#fff" stroke="#000000" stroke-width="0.45"/>
<circle cx="329.79" cy="325.60" r="1.45" fill="#fff" stroke="#000000" stroke-width="0.45"/>
<circle cx="334.88" cy="322.90" r="1.45" fill="#fff" stroke="#000000" stroke-width="0.45"/>
<circle cx="339.97" cy="340.00" r="1.45" fill="#fff" stroke="#000000" stroke-width="0.45"/>
<circle cx="345.06" cy="340.00" r="1.45" fill="#fff" stroke="#000000" stroke-width="0.45"/>
<circle cx="350.15" cy="334.00" r="1.45" fill="#fff" stroke="#000000" stroke-width="0.45"/>
<circle cx="355.24" cy="337.25" r="1.45" fill="#fff" stroke="#000000" stroke-width="0.45"/>
<circle cx="360.33" cy="330.40" r="1.45" fill="#fff" stroke="#000000" stroke-width="0.45"/>
<circle cx="365.42" cy="325.60" r="1.45" fill="#fff" stroke="#000000" stroke-width="0.45"/>
<circle cx="370.51" cy="320.60" r="1.45" fill="#fff" stroke="#000000" stroke-width="0.45"/>
<circle cx="375.60" cy="316.90" r="1.45" fill="#fff" stroke="#000000" stroke-width="0.45"/>
<circle cx="380.69" cy="323.50" r="1.45" fill="#fff" stroke="#000000" stroke-width="0.45"/>
<circle cx="385.78" cy="331.25" r="1.45" fill="#fff" stroke="#000000" stroke-width="0.45"/>
<circle cx="390.87" cy="351.25" r="1.45" fill="#fff" stroke="#000000" stroke-width="0.45"/>
<circle cx="273.80" cy="410.00" r="1.45" fill="#fff" stroke="#D40000" stroke-width="0.45"/>
<circle cx="278.89" cy="412.30" r="1.45" fill="#fff" stroke="#D40000" stroke-width="0.45"/>
<circle cx="283.98" cy="414.90" r="1.45" fill="#fff" stroke="#D40000" stroke-width="0.45"/>
<circle cx="289.07" cy="423.70" r="1.45" fill="#fff" stroke="#D40000" stroke-width="0.45"/>
<circle cx="294.16" cy="433.70" r="1.45" fill="#fff" stroke="#D40000" stroke-width="0.45"/>
<circle cx="299.25" cy="441.80" r="1.45" fill="#fff" stroke="#D40000" stroke-width="0.45"/>
<circle cx="304.34" cy="446.00" r="1.45" fill="#fff" stroke="#D40000" stroke-width="0.45"/>
<circle cx="309.43" cy="440.40" r="1.45" fill="#fff" stroke="#D40000" stroke-width="0.45"/>
<circle cx="314.52" cy="415.80" r="1.45" fill="#fff" stroke="#D40000" stroke-width="0.45"/>
<circle cx="319.61" cy="417.60" r="1.45" fill="#fff" stroke="#D40000" stroke-width="0.45"/>
<circle cx="324.70" cy="419.30" r="1.45" fill="#fff" stroke="#D40000" stroke-width="0.45"/>
<circle cx="329.79" cy="422.80" r="1.45" fill="#fff" stroke="#D40000" stroke-width="0.45"/>
<circle cx="334.88" cy="431.30" r="1.45" fill="#fff" stroke="#D40000" stroke-width="0.45"/>
<circle cx="339.97" cy="414.90" r="1.45" fill="#fff" stroke="#D40000" stroke-width="0.45"/>
<circle cx="345.06" cy="406.70" r="1.45" fill="#fff" stroke="#D40000" stroke-width="0.45"/>
<circle cx="350.15" cy="415.50" r="1.45" fill="#fff" stroke="#D40000" stroke-width="0.45"/>
<circle cx="355.24" cy="417.20" r="1.45" fill="#fff" stroke="#D40000" stroke-width="0.45"/>
<circle cx="360.33" cy="415.50" r="1.45" fill="#fff" stroke="#D40000" stroke-width="0.45"/>
<circle cx="365.42" cy="420.70" r="1.45" fill="#fff" stroke="#D40000" stroke-width="0.45"/>
<circle cx="370.51" cy="423.70" r="1.45" fill="#fff" stroke="#D40000" stroke-width="0.45"/>
<circle cx="375.60" cy="429.00" r="1.45" fill="#fff" stroke="#D40000" stroke-width="0.45"/>
<circle cx="380.69" cy="423.70" r="1.45" fill="#fff" stroke="#D40000" stroke-width="0.45"/>
<circle cx="385.78" cy="415.50" r="1.45" fill="#fff" stroke="#D40000" stroke-width="0.45"/>
<circle cx="390.87" cy="412.30" r="1.45" fill="#fff" stroke="#D40000" stroke-width="0.45"/>
<circle cx="273.80" cy="453.60" r="1.45" fill="#fff" stroke="#1E90FF" stroke-width="0.45"/>
<circle cx="278.89" cy="451.00" r="1.45" fill="#fff" stroke="#1E90FF" stroke-width="0.45"/>
<circle cx="283.98" cy="447.10" r="1.45" fill="#fff" stroke="#1E90FF" stroke-width="0.45"/>
<circle cx="289.07" cy="441.80" r="1.45" fill="#fff" stroke="#1E90FF" stroke-width="0.45"/>
<circle cx="294.16" cy="435.10" r="1.45" fill="#fff" stroke="#1E90FF" stroke-width="0.45"/>
<circle cx="299.25" cy="431.60" r="1.45" fill="#fff" stroke="#1E90FF" stroke-width="0.45"/>
<circle cx="304.34" cy="436.90" r="1.45" fill="#fff" stroke="#1E90FF" stroke-width="0.45"/>
<circle cx="309.43" cy="451.00" r="1.45" fill="#fff" stroke="#1E90FF" stroke-width="0.45"/>
<circle cx="314.52" cy="458.90" r="1.45" fill="#fff" stroke="#1E90FF" stroke-width="0.45"/>
<circle cx="319.61" cy="453.60" r="1.45" fill="#fff" stroke="#1E90FF" stroke-width="0.45"/>
<circle cx="324.70" cy="447.50" r="1.45" fill="#fff" stroke="#1E90FF" stroke-width="0.45"/>
<circle cx="329.79" cy="445.50" r="1.45" fill="#fff" stroke="#1E90FF" stroke-width="0.45"/>
<circle cx="334.88" cy="434.30" r="1.45" fill="#fff" stroke="#1E90FF" stroke-width="0.45"/>
<circle cx="339.97" cy="447.50" r="1.45" fill="#fff" stroke="#1E90FF" stroke-width="0.45"/>
<circle cx="345.06" cy="451.80" r="1.45" fill="#fff" stroke="#1E90FF" stroke-width="0.45"/>
<circle cx="350.15" cy="447.10" r="1.45" fill="#fff" stroke="#1E90FF" stroke-width="0.45"/>
<circle cx="355.24" cy="452.40" r="1.45" fill="#fff" stroke="#1E90FF" stroke-width="0.45"/>
<circle cx="360.33" cy="456.60" r="1.45" fill="#fff" stroke="#1E90FF" stroke-width="0.45"/>
<circle cx="365.42" cy="454.50" r="1.45" fill="#fff" stroke="#1E90FF" stroke-width="0.45"/>
<circle cx="370.51" cy="451.30" r="1.45" fill="#fff" stroke="#1E90FF" stroke-width="0.45"/>
<circle cx="375.60" cy="443.10" r="1.45" fill="#fff" stroke="#1E90FF" stroke-width="0.45"/>
<circle cx="380.69" cy="444.80" r="1.45" fill="#fff" stroke="#1E90FF" stroke-width="0.45"/>
<circle cx="385.78" cy="451.30" r="1.45" fill="#fff" stroke="#1E90FF" stroke-width="0.45"/>
<circle cx="390.87" cy="447.10" r="1.45" fill="#fff" stroke="#1E90FF" stroke-width="0.45"/>
<circle cx="273.80" cy="471.70" r="1.45" fill="#fff" stroke="#0000FF" stroke-width="0.45"/>
<circle cx="278.89" cy="471.70" r="1.45" fill="#fff" stroke="#0000FF" stroke-width="0.45"/>
<circle cx="283.98" cy="469.40" r="1.45" fill="#fff" stroke="#0000FF" stroke-width="0.45"/>
<circle cx="289.07" cy="465.90" r="1.45" fill="#fff" stroke="#0000FF" stroke-width="0.45"/>
<circle cx="294.16" cy="462.90" r="1.45" fill="#fff" stroke="#0000FF" stroke-width="0.45"/>
<circle cx="299.25" cy="460.60" r="1.45" fill="#fff" stroke="#0000FF" stroke-width="0.45"/>
<circle cx="304.34" cy="465.90" r="1.45" fill="#fff" stroke="#0000FF" stroke-width="0.45"/>
<circle cx="309.43" cy="471.70" r="1.45" fill="#fff" stroke="#0000FF" stroke-width="0.45"/>
<circle cx="314.52" cy="475.90" r="1.45" fill="#fff" stroke="#0000FF" stroke-width="0.45"/>
<circle cx="319.61" cy="474.20" r="1.45" fill="#fff" stroke="#0000FF" stroke-width="0.45"/>
<circle cx="324.70" cy="473.80" r="1.45" fill="#fff" stroke="#0000FF" stroke-width="0.45"/>
<circle cx="329.79" cy="473.80" r="1.45" fill="#fff" stroke="#0000FF" stroke-width="0.45"/>
<circle cx="334.88" cy="469.10" r="1.45" fill="#fff" stroke="#0000FF" stroke-width="0.45"/>
<circle cx="339.97" cy="473.50" r="1.45" fill="#fff" stroke="#0000FF" stroke-width="0.45"/>
<circle cx="345.06" cy="475.90" r="1.45" fill="#fff" stroke="#0000FF" stroke-width="0.45"/>
<circle cx="350.15" cy="474.70" r="1.45" fill="#fff" stroke="#0000FF" stroke-width="0.45"/>
<circle cx="355.24" cy="474.70" r="1.45" fill="#fff" stroke="#0000FF" stroke-width="0.45"/>
<circle cx="360.33" cy="477.00" r="1.45" fill="#fff" stroke="#0000FF" stroke-width="0.45"/>
<circle cx="365.42" cy="477.70" r="1.45" fill="#fff" stroke="#0000FF" stroke-width="0.45"/>
<circle cx="370.51" cy="477.00" r="1.45" fill="#fff" stroke="#0000FF" stroke-width="0.45"/>
<circle cx="375.60" cy="474.70" r="1.45" fill="#fff" stroke="#0000FF" stroke-width="0.45"/>
<circle cx="380.69" cy="470.80" r="1.45" fill="#fff" stroke="#0000FF" stroke-width="0.45"/>
<circle cx="385.78" cy="474.70" r="1.45" fill="#fff" stroke="#0000FF" stroke-width="0.45"/>
<circle cx="390.87" cy="469.10" r="1.45" fill="#fff" stroke="#0000FF" stroke-width="0.45"/>
<line x1="396.30" y1="495.30" x2="520.00" y2="495.30" stroke="#7a7a7a" stroke-width="0.9"/>
<line x1="399.40" y1="495.30" x2="399.40" y2="496.90" stroke="#7a7a7a" stroke-width="0.7"/>
<line x1="404.49" y1="495.30" x2="404.49" y2="496.90" stroke="#7a7a7a" stroke-width="0.7"/>
<line x1="409.58" y1="495.30" x2="409.58" y2="496.90" stroke="#7a7a7a" stroke-width="0.7"/>
<line x1="414.67" y1="495.30" x2="414.67" y2="496.90" stroke="#7a7a7a" stroke-width="0.7"/>
<line x1="419.76" y1="495.30" x2="419.76" y2="496.90" stroke="#7a7a7a" stroke-width="0.7"/>
<line x1="424.85" y1="495.30" x2="424.85" y2="496.90" stroke="#7a7a7a" stroke-width="0.7"/>
<line x1="429.94" y1="495.30" x2="429.94" y2="496.90" stroke="#7a7a7a" stroke-width="0.7"/>
<line x1="435.03" y1="495.30" x2="435.03" y2="496.90" stroke="#7a7a7a" stroke-width="0.7"/>
<line x1="440.12" y1="495.30" x2="440.12" y2="496.90" stroke="#7a7a7a" stroke-width="0.7"/>
<line x1="445.21" y1="495.30" x2="445.21" y2="496.90" stroke="#7a7a7a" stroke-width="0.7"/>
<line x1="450.30" y1="495.30" x2="450.30" y2="496.90" stroke="#7a7a7a" stroke-width="0.7"/>
<line x1="455.39" y1="495.30" x2="455.39" y2="496.90" stroke="#7a7a7a" stroke-width="0.7"/>
<line x1="460.48" y1="495.30" x2="460.48" y2="496.90" stroke="#7a7a7a" stroke-width="0.7"/>
<line x1="465.57" y1="495.30" x2="465.57" y2="496.90" stroke="#7a7a7a" stroke-width="0.7"/>
<line x1="470.66" y1="495.30" x2="470.66" y2="496.90" stroke="#7a7a7a" stroke-width="0.7"/>
<line x1="475.75" y1="495.30" x2="475.75" y2="496.90" stroke="#7a7a7a" stroke-width="0.7"/>
<line x1="480.84" y1="495.30" x2="480.84" y2="496.90" stroke="#7a7a7a" stroke-width="0.7"/>
<line x1="485.93" y1="495.30" x2="485.93" y2="496.90" stroke="#7a7a7a" stroke-width="0.7"/>
<line x1="491.02" y1="495.30" x2="491.02" y2="496.90" stroke="#7a7a7a" stroke-width="0.7"/>
<line x1="496.11" y1="495.30" x2="496.11" y2="496.90" stroke="#7a7a7a" stroke-width="0.7"/>
<line x1="501.20" y1="495.30" x2="501.20" y2="496.90" stroke="#7a7a7a" stroke-width="0.7"/>
<line x1="506.29" y1="495.30" x2="506.29" y2="496.90" stroke="#7a7a7a" stroke-width="0.7"/>
<line x1="511.38" y1="495.30" x2="511.38" y2="496.90" stroke="#7a7a7a" stroke-width="0.7"/>
<line x1="516.47" y1="495.30" x2="516.47" y2="496.90" stroke="#7a7a7a" stroke-width="0.7"/>
<text x="402.79999999999995" y="500.4" font-size="6.1" text-anchor="end" fill="#222" transform="rotate(-45 402.79999999999995 500.4)">12PM</text>
<text x="433.34" y="500.4" font-size="6.1" text-anchor="end" fill="#222" transform="rotate(-45 433.34 500.4)">6AM</text>
<text x="463.87999999999994" y="500.4" font-size="6.1" text-anchor="end" fill="#222" transform="rotate(-45 463.87999999999994 500.4)">12AM</text>
<text x="494.41999999999996" y="500.4" font-size="6.1" text-anchor="end" fill="#222" transform="rotate(-45 494.41999999999996 500.4)">6PM</text>
<text x="457.5" y="204.6" font-size="7.6" text-anchor="middle" font-weight="bold" fill="#C77CFF">Group 4</text>
<line x1="399.40" y1="325.00" x2="399.40" y2="349.00" stroke="#888888" stroke-width="0.9" stroke-dasharray="2.3,1.3"/>
<line x1="404.49" y1="326.50" x2="404.49" y2="350.50" stroke="#888888" stroke-width="0.9" stroke-dasharray="2.3,1.3"/>
<line x1="409.58" y1="327.30" x2="409.58" y2="351.30" stroke="#888888" stroke-width="0.9" stroke-dasharray="2.3,1.3"/>
<line x1="414.67" y1="324.60" x2="414.67" y2="348.60" stroke="#888888" stroke-width="0.9" stroke-dasharray="2.3,1.3"/>
<line x1="419.76" y1="336.70" x2="419.76" y2="360.70" stroke="#888888" stroke-width="0.9" stroke-dasharray="2.3,1.3"/>
<line x1="424.85" y1="344.90" x2="424.85" y2="368.90" stroke="#888888" stroke-width="0.9" stroke-dasharray="2.3,1.3"/>
<line x1="429.94" y1="350.40" x2="429.94" y2="374.40" stroke="#888888" stroke-width="0.9" stroke-dasharray="2.3,1.3"/>
<line x1="435.03" y1="338.70" x2="435.03" y2="362.70" stroke="#888888" stroke-width="0.9" stroke-dasharray="2.3,1.3"/>
<line x1="440.12" y1="304.40" x2="440.12" y2="328.40" stroke="#888888" stroke-width="0.9" stroke-dasharray="2.3,1.3"/>
<line x1="445.21" y1="288.80" x2="445.21" y2="312.80" stroke="#888888" stroke-width="0.9" stroke-dasharray="2.3,1.3"/>
<line x1="450.30" y1="307.40" x2="450.30" y2="331.40" stroke="#888888" stroke-width="0.9" stroke-dasharray="2.3,1.3"/>
<line x1="455.39" y1="321.10" x2="455.39" y2="345.10" stroke="#888888" stroke-width="0.9" stroke-dasharray="2.3,1.3"/>
<line x1="460.48" y1="319.40" x2="460.48" y2="343.40" stroke="#888888" stroke-width="0.9" stroke-dasharray="2.3,1.3"/>
<line x1="465.57" y1="304.40" x2="465.57" y2="328.40" stroke="#888888" stroke-width="0.9" stroke-dasharray="2.3,1.3"/>
<line x1="470.66" y1="305.70" x2="470.66" y2="329.70" stroke="#888888" stroke-width="0.9" stroke-dasharray="2.3,1.3"/>
<line x1="475.75" y1="320.00" x2="475.75" y2="344.00" stroke="#888888" stroke-width="0.9" stroke-dasharray="2.3,1.3"/>
<line x1="480.84" y1="314.70" x2="480.84" y2="338.70" stroke="#888888" stroke-width="0.9" stroke-dasharray="2.3,1.3"/>
<line x1="485.93" y1="303.80" x2="485.93" y2="327.80" stroke="#888888" stroke-width="0.9" stroke-dasharray="2.3,1.3"/>
<line x1="491.02" y1="304.40" x2="491.02" y2="328.40" stroke="#888888" stroke-width="0.9" stroke-dasharray="2.3,1.3"/>
<line x1="496.11" y1="301.00" x2="496.11" y2="325.00" stroke="#888888" stroke-width="0.9" stroke-dasharray="2.3,1.3"/>
<line x1="501.20" y1="309.60" x2="501.20" y2="333.60" stroke="#888888" stroke-width="0.9" stroke-dasharray="2.3,1.3"/>
<line x1="506.29" y1="316.10" x2="506.29" y2="340.10" stroke="#888888" stroke-width="0.9" stroke-dasharray="2.3,1.3"/>
<line x1="511.38" y1="324.50" x2="511.38" y2="348.50" stroke="#888888" stroke-width="0.9" stroke-dasharray="2.3,1.3"/>
<line x1="516.47" y1="323.90" x2="516.47" y2="347.90" stroke="#888888" stroke-width="0.9" stroke-dasharray="2.3,1.3"/>
<line x1="399.40" y1="348.10" x2="399.40" y2="372.10" stroke="#888888" stroke-width="0.9" stroke-dasharray="2.3,1.3"/>
<line x1="404.49" y1="350.40" x2="404.49" y2="374.40" stroke="#888888" stroke-width="0.9" stroke-dasharray="2.3,1.3"/>
<line x1="409.58" y1="350.40" x2="409.58" y2="374.40" stroke="#888888" stroke-width="0.9" stroke-dasharray="2.3,1.3"/>
<line x1="414.67" y1="355.30" x2="414.67" y2="379.30" stroke="#888888" stroke-width="0.9" stroke-dasharray="2.3,1.3"/>
<line x1="419.76" y1="346.10" x2="419.76" y2="370.10" stroke="#888888" stroke-width="0.9" stroke-dasharray="2.3,1.3"/>
<line x1="424.85" y1="340.20" x2="424.85" y2="364.20" stroke="#888888" stroke-width="0.9" stroke-dasharray="2.3,1.3"/>
<line x1="429.94" y1="330.80" x2="429.94" y2="354.80" stroke="#888888" stroke-width="0.9" stroke-dasharray="2.3,1.3"/>
<line x1="435.03" y1="331.80" x2="435.03" y2="355.80" stroke="#888888" stroke-width="0.9" stroke-dasharray="2.3,1.3"/>
<line x1="440.12" y1="358.60" x2="440.12" y2="382.60" stroke="#888888" stroke-width="0.9" stroke-dasharray="2.3,1.3"/>
<line x1="445.21" y1="375.80" x2="445.21" y2="399.80" stroke="#888888" stroke-width="0.9" stroke-dasharray="2.3,1.3"/>
<line x1="450.30" y1="364.10" x2="450.30" y2="388.10" stroke="#888888" stroke-width="0.9" stroke-dasharray="2.3,1.3"/>
<line x1="455.39" y1="351.60" x2="455.39" y2="375.60" stroke="#888888" stroke-width="0.9" stroke-dasharray="2.3,1.3"/>
<line x1="460.48" y1="357.10" x2="460.48" y2="381.10" stroke="#888888" stroke-width="0.9" stroke-dasharray="2.3,1.3"/>
<line x1="465.57" y1="365.90" x2="465.57" y2="389.90" stroke="#888888" stroke-width="0.9" stroke-dasharray="2.3,1.3"/>
<line x1="470.66" y1="365.90" x2="470.66" y2="389.90" stroke="#888888" stroke-width="0.9" stroke-dasharray="2.3,1.3"/>
<line x1="475.75" y1="349.30" x2="475.75" y2="373.30" stroke="#888888" stroke-width="0.9" stroke-dasharray="2.3,1.3"/>
<line x1="480.84" y1="351.80" x2="480.84" y2="375.80" stroke="#888888" stroke-width="0.9" stroke-dasharray="2.3,1.3"/>
<line x1="485.93" y1="360.40" x2="485.93" y2="384.40" stroke="#888888" stroke-width="0.9" stroke-dasharray="2.3,1.3"/>
<line x1="491.02" y1="362.00" x2="491.02" y2="386.00" stroke="#888888" stroke-width="0.9" stroke-dasharray="2.3,1.3"/>
<line x1="496.11" y1="364.90" x2="496.11" y2="388.90" stroke="#888888" stroke-width="0.9" stroke-dasharray="2.3,1.3"/>
<line x1="501.20" y1="356.10" x2="501.20" y2="380.10" stroke="#888888" stroke-width="0.9" stroke-dasharray="2.3,1.3"/>
<line x1="506.29" y1="354.20" x2="506.29" y2="378.20" stroke="#888888" stroke-width="0.9" stroke-dasharray="2.3,1.3"/>
<line x1="511.38" y1="348.70" x2="511.38" y2="372.70" stroke="#888888" stroke-width="0.9" stroke-dasharray="2.3,1.3"/>
<line x1="516.47" y1="352.80" x2="516.47" y2="376.80" stroke="#888888" stroke-width="0.9" stroke-dasharray="2.3,1.3"/>
<line x1="399.40" y1="399.70" x2="399.40" y2="416.70" stroke="#888888" stroke-width="0.9" stroke-dasharray="2.3,1.3"/>
<line x1="404.49" y1="398.30" x2="404.49" y2="415.30" stroke="#888888" stroke-width="0.9" stroke-dasharray="2.3,1.3"/>
<line x1="409.58" y1="395.30" x2="409.58" y2="412.30" stroke="#888888" stroke-width="0.9" stroke-dasharray="2.3,1.3"/>
<line x1="414.67" y1="399.70" x2="414.67" y2="416.70" stroke="#888888" stroke-width="0.9" stroke-dasharray="2.3,1.3"/>
<line x1="419.76" y1="398.00" x2="419.76" y2="415.00" stroke="#888888" stroke-width="0.9" stroke-dasharray="2.3,1.3"/>
<line x1="424.85" y1="391.20" x2="424.85" y2="408.20" stroke="#888888" stroke-width="0.9" stroke-dasharray="2.3,1.3"/>
<line x1="429.94" y1="385.60" x2="429.94" y2="402.60" stroke="#888888" stroke-width="0.9" stroke-dasharray="2.3,1.3"/>
<line x1="435.03" y1="388.20" x2="435.03" y2="405.20" stroke="#888888" stroke-width="0.9" stroke-dasharray="2.3,1.3"/>
<line x1="440.12" y1="409.00" x2="440.12" y2="426.00" stroke="#888888" stroke-width="0.9" stroke-dasharray="2.3,1.3"/>
<line x1="445.21" y1="422.20" x2="445.21" y2="439.20" stroke="#888888" stroke-width="0.9" stroke-dasharray="2.3,1.3"/>
<line x1="450.30" y1="402.50" x2="450.30" y2="419.50" stroke="#888888" stroke-width="0.9" stroke-dasharray="2.3,1.3"/>
<line x1="455.39" y1="393.70" x2="455.39" y2="410.70" stroke="#888888" stroke-width="0.9" stroke-dasharray="2.3,1.3"/>
<line x1="460.48" y1="398.00" x2="460.48" y2="415.00" stroke="#888888" stroke-width="0.9" stroke-dasharray="2.3,1.3"/>
<line x1="465.57" y1="405.50" x2="465.57" y2="422.50" stroke="#888888" stroke-width="0.9" stroke-dasharray="2.3,1.3"/>
<line x1="470.66" y1="400.50" x2="470.66" y2="417.50" stroke="#888888" stroke-width="0.9" stroke-dasharray="2.3,1.3"/>
<line x1="475.75" y1="391.50" x2="475.75" y2="408.50" stroke="#888888" stroke-width="0.9" stroke-dasharray="2.3,1.3"/>
<line x1="480.84" y1="395.00" x2="480.84" y2="412.00" stroke="#888888" stroke-width="0.9" stroke-dasharray="2.3,1.3"/>
<line x1="485.93" y1="404.25" x2="485.93" y2="421.25" stroke="#888888" stroke-width="0.9" stroke-dasharray="2.3,1.3"/>
<line x1="491.02" y1="407.10" x2="491.02" y2="424.10" stroke="#888888" stroke-width="0.9" stroke-dasharray="2.3,1.3"/>
<line x1="496.11" y1="403.00" x2="496.11" y2="420.00" stroke="#888888" stroke-width="0.9" stroke-dasharray="2.3,1.3"/>
<line x1="501.20" y1="397.75" x2="501.20" y2="414.75" stroke="#888888" stroke-width="0.9" stroke-dasharray="2.3,1.3"/>
<line x1="506.29" y1="395.00" x2="506.29" y2="412.00" stroke="#888888" stroke-width="0.9" stroke-dasharray="2.3,1.3"/>
<line x1="511.38" y1="400.00" x2="511.38" y2="417.00" stroke="#888888" stroke-width="0.9" stroke-dasharray="2.3,1.3"/>
<line x1="516.47" y1="401.25" x2="516.47" y2="418.25" stroke="#888888" stroke-width="0.9" stroke-dasharray="2.3,1.3"/>
<line x1="399.40" y1="458.50" x2="399.40" y2="471.50" stroke="#888888" stroke-width="0.9" stroke-dasharray="2.3,1.3"/>
<line x1="404.49" y1="455.90" x2="404.49" y2="468.90" stroke="#888888" stroke-width="0.9" stroke-dasharray="2.3,1.3"/>
<line x1="409.58" y1="455.20" x2="409.58" y2="468.20" stroke="#888888" stroke-width="0.9" stroke-dasharray="2.3,1.3"/>
<line x1="414.67" y1="451.60" x2="414.67" y2="464.60" stroke="#888888" stroke-width="0.9" stroke-dasharray="2.3,1.3"/>
<line x1="419.76" y1="449.00" x2="419.76" y2="462.00" stroke="#888888" stroke-width="0.9" stroke-dasharray="2.3,1.3"/>
<line x1="424.85" y1="448.00" x2="424.85" y2="461.00" stroke="#888888" stroke-width="0.9" stroke-dasharray="2.3,1.3"/>
<line x1="429.94" y1="449.60" x2="429.94" y2="462.60" stroke="#888888" stroke-width="0.9" stroke-dasharray="2.3,1.3"/>
<line x1="435.03" y1="462.10" x2="435.03" y2="475.10" stroke="#888888" stroke-width="0.9" stroke-dasharray="2.3,1.3"/>
<line x1="440.12" y1="469.30" x2="440.12" y2="482.30" stroke="#888888" stroke-width="0.9" stroke-dasharray="2.3,1.3"/>
<line x1="445.21" y1="468.40" x2="445.21" y2="481.40" stroke="#888888" stroke-width="0.9" stroke-dasharray="2.3,1.3"/>
<line x1="450.30" y1="461.20" x2="450.30" y2="474.20" stroke="#888888" stroke-width="0.9" stroke-dasharray="2.3,1.3"/>
<line x1="455.39" y1="459.40" x2="455.39" y2="472.40" stroke="#888888" stroke-width="0.9" stroke-dasharray="2.3,1.3"/>
<line x1="460.48" y1="455.00" x2="460.48" y2="468.00" stroke="#888888" stroke-width="0.9" stroke-dasharray="2.3,1.3"/>
<line x1="465.57" y1="461.25" x2="465.57" y2="474.25" stroke="#888888" stroke-width="0.9" stroke-dasharray="2.3,1.3"/>
<line x1="470.66" y1="459.50" x2="470.66" y2="472.50" stroke="#888888" stroke-width="0.9" stroke-dasharray="2.3,1.3"/>
<line x1="475.75" y1="462.90" x2="475.75" y2="475.90" stroke="#888888" stroke-width="0.9" stroke-dasharray="2.3,1.3"/>
<line x1="480.84" y1="465.40" x2="480.84" y2="478.40" stroke="#888888" stroke-width="0.9" stroke-dasharray="2.3,1.3"/>
<line x1="485.93" y1="467.25" x2="485.93" y2="480.25" stroke="#888888" stroke-width="0.9" stroke-dasharray="2.3,1.3"/>
<line x1="491.02" y1="466.25" x2="491.02" y2="479.25" stroke="#888888" stroke-width="0.9" stroke-dasharray="2.3,1.3"/>
<line x1="496.11" y1="466.25" x2="496.11" y2="479.25" stroke="#888888" stroke-width="0.9" stroke-dasharray="2.3,1.3"/>
<line x1="501.20" y1="466.25" x2="501.20" y2="479.25" stroke="#888888" stroke-width="0.9" stroke-dasharray="2.3,1.3"/>
<line x1="506.29" y1="460.75" x2="506.29" y2="473.75" stroke="#888888" stroke-width="0.9" stroke-dasharray="2.3,1.3"/>
<line x1="511.38" y1="459.10" x2="511.38" y2="472.10" stroke="#888888" stroke-width="0.9" stroke-dasharray="2.3,1.3"/>
<line x1="516.47" y1="455.75" x2="516.47" y2="468.75" stroke="#888888" stroke-width="0.9" stroke-dasharray="2.3,1.3"/>
<line x1="399.40" y1="471.50" x2="399.40" y2="476.50" stroke="#888888" stroke-width="0.9" stroke-dasharray="2.3,1.3"/>
<line x1="404.49" y1="469.70" x2="404.49" y2="474.70" stroke="#888888" stroke-width="0.9" stroke-dasharray="2.3,1.3"/>
<line x1="409.58" y1="472.30" x2="409.58" y2="477.30" stroke="#888888" stroke-width="0.9" stroke-dasharray="2.3,1.3"/>
<line x1="414.67" y1="468.70" x2="414.67" y2="473.70" stroke="#888888" stroke-width="0.9" stroke-dasharray="2.3,1.3"/>
<line x1="419.76" y1="469.10" x2="419.76" y2="474.10" stroke="#888888" stroke-width="0.9" stroke-dasharray="2.3,1.3"/>
<line x1="424.85" y1="470.30" x2="424.85" y2="475.30" stroke="#888888" stroke-width="0.9" stroke-dasharray="2.3,1.3"/>
<line x1="429.94" y1="472.40" x2="429.94" y2="477.40" stroke="#888888" stroke-width="0.9" stroke-dasharray="2.3,1.3"/>
<line x1="435.03" y1="476.20" x2="435.03" y2="481.20" stroke="#888888" stroke-width="0.9" stroke-dasharray="2.3,1.3"/>
<line x1="440.12" y1="477.40" x2="440.12" y2="482.40" stroke="#888888" stroke-width="0.9" stroke-dasharray="2.3,1.3"/>
<line x1="445.21" y1="477.40" x2="445.21" y2="482.40" stroke="#888888" stroke-width="0.9" stroke-dasharray="2.3,1.3"/>
<line x1="450.30" y1="475.40" x2="450.30" y2="480.40" stroke="#888888" stroke-width="0.9" stroke-dasharray="2.3,1.3"/>
<line x1="455.39" y1="474.00" x2="455.39" y2="479.00" stroke="#888888" stroke-width="0.9" stroke-dasharray="2.3,1.3"/>
<line x1="460.48" y1="473.10" x2="460.48" y2="478.10" stroke="#888888" stroke-width="0.9" stroke-dasharray="2.3,1.3"/>
<line x1="465.57" y1="476.90" x2="465.57" y2="481.90" stroke="#888888" stroke-width="0.9" stroke-dasharray="2.3,1.3"/>
<line x1="470.66" y1="473.75" x2="470.66" y2="478.75" stroke="#888888" stroke-width="0.9" stroke-dasharray="2.3,1.3"/>
<line x1="475.75" y1="476.25" x2="475.75" y2="481.25" stroke="#888888" stroke-width="0.9" stroke-dasharray="2.3,1.3"/>
<line x1="480.84" y1="477.75" x2="480.84" y2="482.75" stroke="#888888" stroke-width="0.9" stroke-dasharray="2.3,1.3"/>
<line x1="485.93" y1="478.50" x2="485.93" y2="483.50" stroke="#888888" stroke-width="0.9" stroke-dasharray="2.3,1.3"/>
<line x1="491.02" y1="478.50" x2="491.02" y2="483.50" stroke="#888888" stroke-width="0.9" stroke-dasharray="2.3,1.3"/>
<line x1="496.11" y1="477.50" x2="496.11" y2="482.50" stroke="#888888" stroke-width="0.9" stroke-dasharray="2.3,1.3"/>
<line x1="501.20" y1="476.50" x2="501.20" y2="481.50" stroke="#888888" stroke-width="0.9" stroke-dasharray="2.3,1.3"/>
<line x1="506.29" y1="476.25" x2="506.29" y2="481.25" stroke="#888888" stroke-width="0.9" stroke-dasharray="2.3,1.3"/>
<line x1="511.38" y1="474.40" x2="511.38" y2="479.40" stroke="#888888" stroke-width="0.9" stroke-dasharray="2.3,1.3"/>
<line x1="516.47" y1="470.60" x2="516.47" y2="475.60" stroke="#888888" stroke-width="0.9" stroke-dasharray="2.3,1.3"/>
<polyline points="399.40,337.00 404.49,338.50 409.58,339.30 414.67,336.60 419.76,348.70 424.85,356.90 429.94,362.40 435.03,350.70 440.12,316.40 445.21,300.80 450.30,319.40 455.39,333.10 460.48,331.40 465.57,316.40 470.66,317.70 475.75,332.00 480.84,326.70 485.93,315.80 491.02,316.40 496.11,313.00 501.20,321.60 506.29,328.10 511.38,336.50 516.47,335.90" fill="none" stroke="#D40000" stroke-width="1.35" stroke-linejoin="round" stroke-linecap="round"/>
<polyline points="399.40,360.10 404.49,362.40 409.58,362.40 414.67,367.30 419.76,358.10 424.85,352.20 429.94,342.80 435.03,343.80 440.12,370.60 445.21,387.80 450.30,376.10 455.39,363.60 460.48,369.10 465.57,377.90 470.66,377.90 475.75,361.30 480.84,363.80 485.93,372.40 491.02,374.00 496.11,376.90 501.20,368.10 506.29,366.20 511.38,360.70 516.47,364.80" fill="none" stroke="#12A012" stroke-width="1.35" stroke-linejoin="round" stroke-linecap="round"/>
<polyline points="399.40,408.20 404.49,406.80 409.58,403.80 414.67,408.20 419.76,406.50 424.85,399.70 429.94,394.10 435.03,396.70 440.12,417.50 445.21,430.70 450.30,411.00 455.39,402.20 460.48,406.50 465.57,414.00 470.66,409.00 475.75,400.00 480.84,403.50 485.93,412.75 491.02,415.60 496.11,411.50 501.20,406.25 506.29,403.50 511.38,408.50 516.47,409.75" fill="none" stroke="#000000" stroke-width="1.35" stroke-linejoin="round" stroke-linecap="round"/>
<polyline points="399.40,465.00 404.49,462.40 409.58,461.70 414.67,458.10 419.76,455.50 424.85,454.50 429.94,456.10 435.03,468.60 440.12,475.80 445.21,474.90 450.30,467.70 455.39,465.90 460.48,461.50 465.57,467.75 470.66,466.00 475.75,469.40 480.84,471.90 485.93,473.75 491.02,472.75 496.11,472.75 501.20,472.75 506.29,467.25 511.38,465.60 516.47,462.25" fill="none" stroke="#1E90FF" stroke-width="1.35" stroke-linejoin="round" stroke-linecap="round"/>
<polyline points="399.40,474.00 404.49,472.20 409.58,474.80 414.67,471.20 419.76,471.60 424.85,472.80 429.94,474.90 435.03,478.70 440.12,479.90 445.21,479.90 450.30,477.90 455.39,476.50 460.48,475.60 465.57,479.40 470.66,476.25 475.75,478.75 480.84,480.25 485.93,481.00 491.02,481.00 496.11,480.00 501.20,479.00 506.29,478.75 511.38,476.90 516.47,473.10" fill="none" stroke="#0000FF" stroke-width="1.35" stroke-linejoin="round" stroke-linecap="round"/>
<circle cx="399.40" cy="337.00" r="1.45" fill="#fff" stroke="#D40000" stroke-width="0.45"/>
<circle cx="404.49" cy="338.50" r="1.45" fill="#fff" stroke="#D40000" stroke-width="0.45"/>
<circle cx="409.58" cy="339.30" r="1.45" fill="#fff" stroke="#D40000" stroke-width="0.45"/>
<circle cx="414.67" cy="336.60" r="1.45" fill="#fff" stroke="#D40000" stroke-width="0.45"/>
<circle cx="419.76" cy="348.70" r="1.45" fill="#fff" stroke="#D40000" stroke-width="0.45"/>
<circle cx="424.85" cy="356.90" r="1.45" fill="#fff" stroke="#D40000" stroke-width="0.45"/>
<circle cx="429.94" cy="362.40" r="1.45" fill="#fff" stroke="#D40000" stroke-width="0.45"/>
<circle cx="435.03" cy="350.70" r="1.45" fill="#fff" stroke="#D40000" stroke-width="0.45"/>
<circle cx="440.12" cy="316.40" r="1.45" fill="#fff" stroke="#D40000" stroke-width="0.45"/>
<circle cx="445.21" cy="300.80" r="1.45" fill="#fff" stroke="#D40000" stroke-width="0.45"/>
<circle cx="450.30" cy="319.40" r="1.45" fill="#fff" stroke="#D40000" stroke-width="0.45"/>
<circle cx="455.39" cy="333.10" r="1.45" fill="#fff" stroke="#D40000" stroke-width="0.45"/>
<circle cx="460.48" cy="331.40" r="1.45" fill="#fff" stroke="#D40000" stroke-width="0.45"/>
<circle cx="465.57" cy="316.40" r="1.45" fill="#fff" stroke="#D40000" stroke-width="0.45"/>
<circle cx="470.66" cy="317.70" r="1.45" fill="#fff" stroke="#D40000" stroke-width="0.45"/>
<circle cx="475.75" cy="332.00" r="1.45" fill="#fff" stroke="#D40000" stroke-width="0.45"/>
<circle cx="480.84" cy="326.70" r="1.45" fill="#fff" stroke="#D40000" stroke-width="0.45"/>
<circle cx="485.93" cy="315.80" r="1.45" fill="#fff" stroke="#D40000" stroke-width="0.45"/>
<circle cx="491.02" cy="316.40" r="1.45" fill="#fff" stroke="#D40000" stroke-width="0.45"/>
<circle cx="496.11" cy="313.00" r="1.45" fill="#fff" stroke="#D40000" stroke-width="0.45"/>
<circle cx="501.20" cy="321.60" r="1.45" fill="#fff" stroke="#D40000" stroke-width="0.45"/>
<circle cx="506.29" cy="328.10" r="1.45" fill="#fff" stroke="#D40000" stroke-width="0.45"/>
<circle cx="511.38" cy="336.50" r="1.45" fill="#fff" stroke="#D40000" stroke-width="0.45"/>
<circle cx="516.47" cy="335.90" r="1.45" fill="#fff" stroke="#D40000" stroke-width="0.45"/>
<circle cx="399.40" cy="360.10" r="1.45" fill="#fff" stroke="#12A012" stroke-width="0.45"/>
<circle cx="404.49" cy="362.40" r="1.45" fill="#fff" stroke="#12A012" stroke-width="0.45"/>
<circle cx="409.58" cy="362.40" r="1.45" fill="#fff" stroke="#12A012" stroke-width="0.45"/>
<circle cx="414.67" cy="367.30" r="1.45" fill="#fff" stroke="#12A012" stroke-width="0.45"/>
<circle cx="419.76" cy="358.10" r="1.45" fill="#fff" stroke="#12A012" stroke-width="0.45"/>
<circle cx="424.85" cy="352.20" r="1.45" fill="#fff" stroke="#12A012" stroke-width="0.45"/>
<circle cx="429.94" cy="342.80" r="1.45" fill="#fff" stroke="#12A012" stroke-width="0.45"/>
<circle cx="435.03" cy="343.80" r="1.45" fill="#fff" stroke="#12A012" stroke-width="0.45"/>
<circle cx="440.12" cy="370.60" r="1.45" fill="#fff" stroke="#12A012" stroke-width="0.45"/>
<circle cx="445.21" cy="387.80" r="1.45" fill="#fff" stroke="#12A012" stroke-width="0.45"/>
<circle cx="450.30" cy="376.10" r="1.45" fill="#fff" stroke="#12A012" stroke-width="0.45"/>
<circle cx="455.39" cy="363.60" r="1.45" fill="#fff" stroke="#12A012" stroke-width="0.45"/>
<circle cx="460.48" cy="369.10" r="1.45" fill="#fff" stroke="#12A012" stroke-width="0.45"/>
<circle cx="465.57" cy="377.90" r="1.45" fill="#fff" stroke="#12A012" stroke-width="0.45"/>
<circle cx="470.66" cy="377.90" r="1.45" fill="#fff" stroke="#12A012" stroke-width="0.45"/>
<circle cx="475.75" cy="361.30" r="1.45" fill="#fff" stroke="#12A012" stroke-width="0.45"/>
<circle cx="480.84" cy="363.80" r="1.45" fill="#fff" stroke="#12A012" stroke-width="0.45"/>
<circle cx="485.93" cy="372.40" r="1.45" fill="#fff" stroke="#12A012" stroke-width="0.45"/>
<circle cx="491.02" cy="374.00" r="1.45" fill="#fff" stroke="#12A012" stroke-width="0.45"/>
<circle cx="496.11" cy="376.90" r="1.45" fill="#fff" stroke="#12A012" stroke-width="0.45"/>
<circle cx="501.20" cy="368.10" r="1.45" fill="#fff" stroke="#12A012" stroke-width="0.45"/>
<circle cx="506.29" cy="366.20" r="1.45" fill="#fff" stroke="#12A012" stroke-width="0.45"/>
<circle cx="511.38" cy="360.70" r="1.45" fill="#fff" stroke="#12A012" stroke-width="0.45"/>
<circle cx="516.47" cy="364.80" r="1.45" fill="#fff" stroke="#12A012" stroke-width="0.45"/>
<circle cx="399.40" cy="408.20" r="1.45" fill="#fff" stroke="#000000" stroke-width="0.45"/>
<circle cx="404.49" cy="406.80" r="1.45" fill="#fff" stroke="#000000" stroke-width="0.45"/>
<circle cx="409.58" cy="403.80" r="1.45" fill="#fff" stroke="#000000" stroke-width="0.45"/>
<circle cx="414.67" cy="408.20" r="1.45" fill="#fff" stroke="#000000" stroke-width="0.45"/>
<circle cx="419.76" cy="406.50" r="1.45" fill="#fff" stroke="#000000" stroke-width="0.45"/>
<circle cx="424.85" cy="399.70" r="1.45" fill="#fff" stroke="#000000" stroke-width="0.45"/>
<circle cx="429.94" cy="394.10" r="1.45" fill="#fff" stroke="#000000" stroke-width="0.45"/>
<circle cx="435.03" cy="396.70" r="1.45" fill="#fff" stroke="#000000" stroke-width="0.45"/>
<circle cx="440.12" cy="417.50" r="1.45" fill="#fff" stroke="#000000" stroke-width="0.45"/>
<circle cx="445.21" cy="430.70" r="1.45" fill="#fff" stroke="#000000" stroke-width="0.45"/>
<circle cx="450.30" cy="411.00" r="1.45" fill="#fff" stroke="#000000" stroke-width="0.45"/>
<circle cx="455.39" cy="402.20" r="1.45" fill="#fff" stroke="#000000" stroke-width="0.45"/>
<circle cx="460.48" cy="406.50" r="1.45" fill="#fff" stroke="#000000" stroke-width="0.45"/>
<circle cx="465.57" cy="414.00" r="1.45" fill="#fff" stroke="#000000" stroke-width="0.45"/>
<circle cx="470.66" cy="409.00" r="1.45" fill="#fff" stroke="#000000" stroke-width="0.45"/>
<circle cx="475.75" cy="400.00" r="1.45" fill="#fff" stroke="#000000" stroke-width="0.45"/>
<circle cx="480.84" cy="403.50" r="1.45" fill="#fff" stroke="#000000" stroke-width="0.45"/>
<circle cx="485.93" cy="412.75" r="1.45" fill="#fff" stroke="#000000" stroke-width="0.45"/>
<circle cx="491.02" cy="415.60" r="1.45" fill="#fff" stroke="#000000" stroke-width="0.45"/>
<circle cx="496.11" cy="411.50" r="1.45" fill="#fff" stroke="#000000" stroke-width="0.45"/>
<circle cx="501.20" cy="406.25" r="1.45" fill="#fff" stroke="#000000" stroke-width="0.45"/>
<circle cx="506.29" cy="403.50" r="1.45" fill="#fff" stroke="#000000" stroke-width="0.45"/>
<circle cx="511.38" cy="408.50" r="1.45" fill="#fff" stroke="#000000" stroke-width="0.45"/>
<circle cx="516.47" cy="409.75" r="1.45" fill="#fff" stroke="#000000" stroke-width="0.45"/>
<circle cx="399.40" cy="465.00" r="1.45" fill="#fff" stroke="#1E90FF" stroke-width="0.45"/>
<circle cx="404.49" cy="462.40" r="1.45" fill="#fff" stroke="#1E90FF" stroke-width="0.45"/>
<circle cx="409.58" cy="461.70" r="1.45" fill="#fff" stroke="#1E90FF" stroke-width="0.45"/>
<circle cx="414.67" cy="458.10" r="1.45" fill="#fff" stroke="#1E90FF" stroke-width="0.45"/>
<circle cx="419.76" cy="455.50" r="1.45" fill="#fff" stroke="#1E90FF" stroke-width="0.45"/>
<circle cx="424.85" cy="454.50" r="1.45" fill="#fff" stroke="#1E90FF" stroke-width="0.45"/>
<circle cx="429.94" cy="456.10" r="1.45" fill="#fff" stroke="#1E90FF" stroke-width="0.45"/>
<circle cx="435.03" cy="468.60" r="1.45" fill="#fff" stroke="#1E90FF" stroke-width="0.45"/>
<circle cx="440.12" cy="475.80" r="1.45" fill="#fff" stroke="#1E90FF" stroke-width="0.45"/>
<circle cx="445.21" cy="474.90" r="1.45" fill="#fff" stroke="#1E90FF" stroke-width="0.45"/>
<circle cx="450.30" cy="467.70" r="1.45" fill="#fff" stroke="#1E90FF" stroke-width="0.45"/>
<circle cx="455.39" cy="465.90" r="1.45" fill="#fff" stroke="#1E90FF" stroke-width="0.45"/>
<circle cx="460.48" cy="461.50" r="1.45" fill="#fff" stroke="#1E90FF" stroke-width="0.45"/>
<circle cx="465.57" cy="467.75" r="1.45" fill="#fff" stroke="#1E90FF" stroke-width="0.45"/>
<circle cx="470.66" cy="466.00" r="1.45" fill="#fff" stroke="#1E90FF" stroke-width="0.45"/>
<circle cx="475.75" cy="469.40" r="1.45" fill="#fff" stroke="#1E90FF" stroke-width="0.45"/>
<circle cx="480.84" cy="471.90" r="1.45" fill="#fff" stroke="#1E90FF" stroke-width="0.45"/>
<circle cx="485.93" cy="473.75" r="1.45" fill="#fff" stroke="#1E90FF" stroke-width="0.45"/>
<circle cx="491.02" cy="472.75" r="1.45" fill="#fff" stroke="#1E90FF" stroke-width="0.45"/>
<circle cx="496.11" cy="472.75" r="1.45" fill="#fff" stroke="#1E90FF" stroke-width="0.45"/>
<circle cx="501.20" cy="472.75" r="1.45" fill="#fff" stroke="#1E90FF" stroke-width="0.45"/>
<circle cx="506.29" cy="467.25" r="1.45" fill="#fff" stroke="#1E90FF" stroke-width="0.45"/>
<circle cx="511.38" cy="465.60" r="1.45" fill="#fff" stroke="#1E90FF" stroke-width="0.45"/>
<circle cx="516.47" cy="462.25" r="1.45" fill="#fff" stroke="#1E90FF" stroke-width="0.45"/>
<circle cx="399.40" cy="474.00" r="1.45" fill="#fff" stroke="#0000FF" stroke-width="0.45"/>
<circle cx="404.49" cy="472.20" r="1.45" fill="#fff" stroke="#0000FF" stroke-width="0.45"/>
<circle cx="409.58" cy="474.80" r="1.45" fill="#fff" stroke="#0000FF" stroke-width="0.45"/>
<circle cx="414.67" cy="471.20" r="1.45" fill="#fff" stroke="#0000FF" stroke-width="0.45"/>
<circle cx="419.76" cy="471.60" r="1.45" fill="#fff" stroke="#0000FF" stroke-width="0.45"/>
<circle cx="424.85" cy="472.80" r="1.45" fill="#fff" stroke="#0000FF" stroke-width="0.45"/>
<circle cx="429.94" cy="474.90" r="1.45" fill="#fff" stroke="#0000FF" stroke-width="0.45"/>
<circle cx="435.03" cy="478.70" r="1.45" fill="#fff" stroke="#0000FF" stroke-width="0.45"/>
<circle cx="440.12" cy="479.90" r="1.45" fill="#fff" stroke="#0000FF" stroke-width="0.45"/>
<circle cx="445.21" cy="479.90" r="1.45" fill="#fff" stroke="#0000FF" stroke-width="0.45"/>
<circle cx="450.30" cy="477.90" r="1.45" fill="#fff" stroke="#0000FF" stroke-width="0.45"/>
<circle cx="455.39" cy="476.50" r="1.45" fill="#fff" stroke="#0000FF" stroke-width="0.45"/>
<circle cx="460.48" cy="475.60" r="1.45" fill="#fff" stroke="#0000FF" stroke-width="0.45"/>
<circle cx="465.57" cy="479.40" r="1.45" fill="#fff" stroke="#0000FF" stroke-width="0.45"/>
<circle cx="470.66" cy="476.25" r="1.45" fill="#fff" stroke="#0000FF" stroke-width="0.45"/>
<circle cx="475.75" cy="478.75" r="1.45" fill="#fff" stroke="#0000FF" stroke-width="0.45"/>
<circle cx="480.84" cy="480.25" r="1.45" fill="#fff" stroke="#0000FF" stroke-width="0.45"/>
<circle cx="485.93" cy="481.00" r="1.45" fill="#fff" stroke="#0000FF" stroke-width="0.45"/>
<circle cx="491.02" cy="481.00" r="1.45" fill="#fff" stroke="#0000FF" stroke-width="0.45"/>
<circle cx="496.11" cy="480.00" r="1.45" fill="#fff" stroke="#0000FF" stroke-width="0.45"/>
<circle cx="501.20" cy="479.00" r="1.45" fill="#fff" stroke="#0000FF" stroke-width="0.45"/>
<circle cx="506.29" cy="478.75" r="1.45" fill="#fff" stroke="#0000FF" stroke-width="0.45"/>
<circle cx="511.38" cy="476.90" r="1.45" fill="#fff" stroke="#0000FF" stroke-width="0.45"/>
<circle cx="516.47" cy="473.10" r="1.45" fill="#fff" stroke="#0000FF" stroke-width="0.45"/>
<text x="450" y="228" font-size="7.2" text-anchor="start" font-weight="bold" fill="#000">Glycemic Ranges</text>
<line x1="450.00" y1="237.00" x2="457.70" y2="237.00" stroke="#0000FF" stroke-width="1.3"/>
<circle cx="453.85" cy="237.00" r="1.5" fill="#fff" stroke="#0000FF" stroke-width="0.5"/>
<text x="462" y="239.1" font-size="6.1" text-anchor="start" fill="#1a1a1a">&lt; 54 mg/dL</text>
<line x1="450.00" y1="245.20" x2="457.70" y2="245.20" stroke="#1E90FF" stroke-width="1.3"/>
<circle cx="453.85" cy="245.20" r="1.5" fill="#fff" stroke="#1E90FF" stroke-width="0.5"/>
<text x="462" y="247.29999999999998" font-size="6.1" text-anchor="start" fill="#1a1a1a">&lt; 70 mg/dL</text>
<line x1="450.00" y1="253.40" x2="457.70" y2="253.40" stroke="#000000" stroke-width="1.3"/>
<circle cx="453.85" cy="253.40" r="1.5" fill="#fff" stroke="#000000" stroke-width="0.5"/>
<text x="462" y="255.5" font-size="6.1" text-anchor="start" fill="#1a1a1a">63-140 mg/dL</text>
<line x1="450.00" y1="261.60" x2="457.70" y2="261.60" stroke="#12A012" stroke-width="1.3"/>
<circle cx="453.85" cy="261.60" r="1.5" fill="#fff" stroke="#12A012" stroke-width="0.5"/>
<text x="462" y="263.70000000000005" font-size="6.1" text-anchor="start" fill="#1a1a1a">70-180 mg/dL</text>
<line x1="450.00" y1="269.80" x2="457.70" y2="269.80" stroke="#D40000" stroke-width="1.3"/>
<circle cx="453.85" cy="269.80" r="1.5" fill="#fff" stroke="#D40000" stroke-width="0.5"/>
<text x="462" y="271.90000000000003" font-size="6.1" text-anchor="start" fill="#1a1a1a">&gt; 180 mg/dL</text>
</svg></body></html>
